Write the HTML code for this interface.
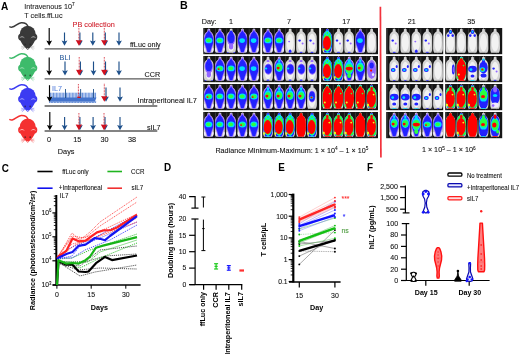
<!DOCTYPE html><html><head><meta charset="utf-8"><style>html,body{margin:0;padding:0;background:#fff;overflow:hidden;}svg{display:block;}</style></head><body><svg width="520" height="354" viewBox="0 0 520 354" font-family="'Liberation Sans', Arial, sans-serif"><rect width="520" height="354" fill="#fff"/><text transform="translate(0.9,10.0) scale(1,1.08)" font-size="10.09" text-anchor="start" font-weight="bold" fill="#000" >A</text>
<text transform="translate(24.3,9.3) scale(1,1.08)" font-size="7.21" text-anchor="start" font-weight="normal" fill="#222" stroke="#222" stroke-width="0.08" >Intravenous 10<tspan dy="-2.6" font-size="4.74">7</tspan></text>
<text transform="translate(24.3,18) scale(1,1.08)" font-size="7.21" text-anchor="start" font-weight="normal" fill="#222" stroke="#222" stroke-width="0.08" >T cells.ffLuc</text>
<path d="M28.0,26.6 C26.9,23.6 24.4,22.6 21.2,22.8 C17.7,23.2 15.2,26.400000000000002 12.2,27.1 C11.2,27.3 10.399999999999999,27.1 9.899999999999999,26.8" fill="none" stroke="#393939" stroke-width="1.5" stroke-linecap="round"/>
<ellipse cx="27.7" cy="34.6" rx="8.0" ry="8.9" fill="#393939"/>
<circle cx="21.799999999999997" cy="37.1" r="3.7" fill="#393939"/>
<circle cx="33.6" cy="37.1" r="3.7" fill="#393939"/>
<path d="M19.5,37.3 C20.5,42.8 24.5,47.3 27.7,50.0 C30.9,47.3 34.9,42.8 35.9,37.3 Z" fill="#393939"/>
<path d="M19.0,38.4 Q22.0,34.2 25.0,38.4 Q22.0,36.2 19.0,38.4 Z" fill="#b4b4b4"/>
<path d="M30.4,38.4 Q33.4,34.2 36.4,38.4 Q33.4,36.2 30.4,38.4 Z" fill="#b4b4b4"/>
<circle cx="25.2" cy="44.400000000000006" r="0.9" fill="#222" opacity="0.6"/>
<circle cx="30.2" cy="44.400000000000006" r="0.9" fill="#222" opacity="0.6"/>
<path d="M24.7,47.0 l-3.6,-0.8 M24.7,47.3 l-3.8,0.9 M24.7,47.6 l-2.8,2.2" stroke="#999" stroke-width="0.5" fill="none" opacity="0.8"/>
<path d="M30.7,47.0 l3.6,-0.8 M30.7,47.3 l3.8,0.9 M30.7,47.6 l2.8,2.2" stroke="#999" stroke-width="0.5" fill="none" opacity="0.8"/>
<path d="M26.7,48.1 L28.7,48.1 L27.7,49.8 Z" fill="#b4b4b4"/>
<path d="M28.0,57.599999999999994 C26.9,54.599999999999994 24.4,53.599999999999994 21.2,53.8 C17.7,54.199999999999996 15.2,57.4 12.2,58.099999999999994 C11.2,58.3 10.399999999999999,58.099999999999994 9.899999999999999,57.8" fill="none" stroke="#3dbb6b" stroke-width="1.5" stroke-linecap="round"/>
<ellipse cx="27.7" cy="65.6" rx="8.0" ry="8.9" fill="#3dbb6b"/>
<circle cx="21.799999999999997" cy="68.1" r="3.7" fill="#3dbb6b"/>
<circle cx="33.6" cy="68.1" r="3.7" fill="#3dbb6b"/>
<path d="M19.5,68.3 C20.5,73.8 24.5,78.3 27.7,81.0 C30.9,78.3 34.9,73.8 35.9,68.3 Z" fill="#3dbb6b"/>
<path d="M19.0,69.39999999999999 Q22.0,65.2 25.0,69.39999999999999 Q22.0,67.2 19.0,69.39999999999999 Z" fill="#a8e4bd"/>
<path d="M30.4,69.39999999999999 Q33.4,65.2 36.4,69.39999999999999 Q33.4,67.2 30.4,69.39999999999999 Z" fill="#a8e4bd"/>
<circle cx="25.2" cy="75.4" r="0.9" fill="#222" opacity="0.6"/>
<circle cx="30.2" cy="75.4" r="0.9" fill="#222" opacity="0.6"/>
<path d="M24.7,78.0 l-3.6,-0.8 M24.7,78.3 l-3.8,0.9 M24.7,78.6 l-2.8,2.2" stroke="#3dbb6b" stroke-width="0.5" fill="none" opacity="0.8"/>
<path d="M30.7,78.0 l3.6,-0.8 M30.7,78.3 l3.8,0.9 M30.7,78.6 l2.8,2.2" stroke="#3dbb6b" stroke-width="0.5" fill="none" opacity="0.8"/>
<path d="M26.7,79.1 L28.7,79.1 L27.7,80.8 Z" fill="#a8e4bd"/>
<path d="M28.0,88.6 C26.9,85.6 24.4,84.6 21.2,84.8 C17.7,85.2 15.2,88.39999999999999 12.2,89.1 C11.2,89.3 10.399999999999999,89.1 9.899999999999999,88.8" fill="none" stroke="#3b3bf2" stroke-width="1.5" stroke-linecap="round"/>
<ellipse cx="27.7" cy="96.6" rx="8.0" ry="8.9" fill="#3b3bf2"/>
<circle cx="21.799999999999997" cy="99.1" r="3.7" fill="#3b3bf2"/>
<circle cx="33.6" cy="99.1" r="3.7" fill="#3b3bf2"/>
<path d="M19.5,99.3 C20.5,104.8 24.5,109.3 27.7,112.0 C30.9,109.3 34.9,104.8 35.9,99.3 Z" fill="#3b3bf2"/>
<path d="M19.0,100.39999999999999 Q22.0,96.2 25.0,100.39999999999999 Q22.0,98.2 19.0,100.39999999999999 Z" fill="#b0b0ff"/>
<path d="M30.4,100.39999999999999 Q33.4,96.2 36.4,100.39999999999999 Q33.4,98.2 30.4,100.39999999999999 Z" fill="#b0b0ff"/>
<circle cx="25.2" cy="106.4" r="0.9" fill="#222" opacity="0.6"/>
<circle cx="30.2" cy="106.4" r="0.9" fill="#222" opacity="0.6"/>
<path d="M24.7,109.0 l-3.6,-0.8 M24.7,109.3 l-3.8,0.9 M24.7,109.6 l-2.8,2.2" stroke="#3b3bf2" stroke-width="0.5" fill="none" opacity="0.8"/>
<path d="M30.7,109.0 l3.6,-0.8 M30.7,109.3 l3.8,0.9 M30.7,109.6 l2.8,2.2" stroke="#3b3bf2" stroke-width="0.5" fill="none" opacity="0.8"/>
<path d="M26.7,110.1 L28.7,110.1 L27.7,111.8 Z" fill="#b0b0ff"/>
<path d="M28.0,119.39999999999999 C26.9,116.39999999999999 24.4,115.39999999999999 21.2,115.6 C17.7,116.0 15.2,119.19999999999999 12.2,119.89999999999999 C11.2,120.1 10.399999999999999,119.89999999999999 9.899999999999999,119.6" fill="none" stroke="#f43030" stroke-width="1.5" stroke-linecap="round"/>
<ellipse cx="27.7" cy="127.39999999999999" rx="8.0" ry="8.9" fill="#f43030"/>
<circle cx="21.799999999999997" cy="129.9" r="3.7" fill="#f43030"/>
<circle cx="33.6" cy="129.9" r="3.7" fill="#f43030"/>
<path d="M19.5,130.1 C20.5,135.6 24.5,140.1 27.7,142.79999999999998 C30.9,140.1 34.9,135.6 35.9,130.1 Z" fill="#f43030"/>
<path d="M19.0,131.2 Q22.0,127.0 25.0,131.2 Q22.0,129.0 19.0,131.2 Z" fill="#ffb8b8"/>
<path d="M30.4,131.2 Q33.4,127.0 36.4,131.2 Q33.4,129.0 30.4,131.2 Z" fill="#ffb8b8"/>
<circle cx="25.2" cy="137.2" r="0.9" fill="#222" opacity="0.6"/>
<circle cx="30.2" cy="137.2" r="0.9" fill="#222" opacity="0.6"/>
<path d="M24.7,139.79999999999998 l-3.6,-0.8 M24.7,140.1 l-3.8,0.9 M24.7,140.4 l-2.8,2.2" stroke="#f43030" stroke-width="0.5" fill="none" opacity="0.8"/>
<path d="M30.7,139.79999999999998 l3.6,-0.8 M30.7,140.1 l3.8,0.9 M30.7,140.4 l2.8,2.2" stroke="#f43030" stroke-width="0.5" fill="none" opacity="0.8"/>
<path d="M26.7,140.9 L28.7,140.9 L27.7,142.6 Z" fill="#ffb8b8"/>
<line x1="44.6" y1="48.8" x2="159.5" y2="48.8" stroke="#5a5a5a" stroke-width="1.3"/>
<line x1="44.6" y1="78.8" x2="160.0" y2="78.8" stroke="#5a5a5a" stroke-width="1.3"/>
<line x1="44.6" y1="106.0" x2="157.3" y2="106.0" stroke="#5a5a5a" stroke-width="1.3"/>
<line x1="44.6" y1="131.0" x2="157.3" y2="131.0" stroke="#5a5a5a" stroke-width="1.3"/>
<line x1="49.2" y1="28.0" x2="49.2" y2="41.89999999999999" stroke="#000" stroke-width="1.15"/>
<path d="M46.300000000000004,40.599999999999994 L49.2,41.599999999999994 L52.1,40.599999999999994 L49.2,45.8 Z" fill="#000"/>
<line x1="64.5" y1="32.5" x2="64.5" y2="41.89999999999999" stroke="#1d4f8a" stroke-width="1.15"/>
<path d="M61.6,40.599999999999994 L64.5,41.599999999999994 L67.4,40.599999999999994 L64.5,45.8 Z" fill="#1d4f8a"/>
<line x1="92.8" y1="32.5" x2="92.8" y2="41.89999999999999" stroke="#1d4f8a" stroke-width="1.15"/>
<path d="M89.89999999999999,40.599999999999994 L92.8,41.599999999999994 L95.7,40.599999999999994 L92.8,45.8 Z" fill="#1d4f8a"/>
<line x1="119.0" y1="32.5" x2="119.0" y2="41.89999999999999" stroke="#1d4f8a" stroke-width="1.15"/>
<path d="M116.1,40.599999999999994 L119.0,41.599999999999994 L121.9,40.599999999999994 L119.0,45.8 Z" fill="#1d4f8a"/>
<line x1="79.9" y1="32.5" x2="79.9" y2="41.89999999999999" stroke="#1d4f8a" stroke-width="1.15"/>
<path d="M77.0,40.599999999999994 L79.9,41.599999999999994 L82.80000000000001,40.599999999999994 L79.9,45.8 Z" fill="#1d4f8a"/>
<line x1="78.9" y1="28.0" x2="78.9" y2="41.8" stroke="#d0101e" stroke-width="0.9" stroke-dasharray="0.8,0.7"/>
<line x1="78.9" y1="40" x2="78.9" y2="40.69999999999999" stroke="#d0101e" stroke-width="0.01"/>
<path d="M75.7,40.099999999999994 L78.9,40.39999999999999 L82.10000000000001,40.099999999999994 L78.9,45.8 Z" fill="#d0101e"/>
<line x1="105.3" y1="32.5" x2="105.3" y2="41.89999999999999" stroke="#1d4f8a" stroke-width="1.15"/>
<path d="M102.39999999999999,40.599999999999994 L105.3,41.599999999999994 L108.2,40.599999999999994 L105.3,45.8 Z" fill="#1d4f8a"/>
<line x1="104.3" y1="28.0" x2="104.3" y2="41.8" stroke="#d0101e" stroke-width="0.9" stroke-dasharray="0.8,0.7"/>
<line x1="104.3" y1="40" x2="104.3" y2="40.69999999999999" stroke="#d0101e" stroke-width="0.01"/>
<path d="M101.1,40.099999999999994 L104.3,40.39999999999999 L107.5,40.099999999999994 L104.3,45.8 Z" fill="#d0101e"/>
<text transform="translate(72.6,27.2) scale(1,1.08)" font-size="7.31" text-anchor="start" font-weight="normal" fill="#d0202c" stroke="#d0202c" stroke-width="0.08" >PB collection</text>
<text transform="translate(130.0,47.4) scale(1,1.08)" font-size="7.21" text-anchor="start" font-weight="normal" fill="#111" stroke="#111" stroke-width="0.08" >ffLuc only</text>
<line x1="49.2" y1="57.4" x2="49.2" y2="71.6" stroke="#000" stroke-width="1.15"/>
<path d="M46.300000000000004,70.3 L49.2,71.3 L52.1,70.3 L49.2,75.5 Z" fill="#000"/>
<line x1="65.0" y1="61.5" x2="65.0" y2="71.6" stroke="#1d4f8a" stroke-width="1.15"/>
<path d="M62.1,70.3 L65.0,71.3 L67.9,70.3 L65.0,75.5 Z" fill="#1d4f8a"/>
<line x1="93.5" y1="61.5" x2="93.5" y2="71.6" stroke="#1d4f8a" stroke-width="1.15"/>
<path d="M90.6,70.3 L93.5,71.3 L96.4,70.3 L93.5,75.5 Z" fill="#1d4f8a"/>
<line x1="119.0" y1="61.5" x2="119.0" y2="71.6" stroke="#1d4f8a" stroke-width="1.15"/>
<path d="M116.1,70.3 L119.0,71.3 L121.9,70.3 L119.0,75.5 Z" fill="#1d4f8a"/>
<line x1="80.4" y1="61.5" x2="80.4" y2="71.6" stroke="#1d4f8a" stroke-width="1.15"/>
<path d="M77.5,70.3 L80.4,71.3 L83.30000000000001,70.3 L80.4,75.5 Z" fill="#1d4f8a"/>
<line x1="79.2" y1="57.0" x2="79.2" y2="71.5" stroke="#d0101e" stroke-width="0.9" stroke-dasharray="0.8,0.7"/>
<line x1="79.2" y1="70" x2="79.2" y2="70.39999999999999" stroke="#d0101e" stroke-width="0.01"/>
<path d="M76.0,69.8 L79.2,70.1 L82.4,69.8 L79.2,75.5 Z" fill="#d0101e"/>
<line x1="105.5" y1="61.5" x2="105.5" y2="71.6" stroke="#1d4f8a" stroke-width="1.15"/>
<path d="M102.6,70.3 L105.5,71.3 L108.4,70.3 L105.5,75.5 Z" fill="#1d4f8a"/>
<line x1="104.3" y1="57.0" x2="104.3" y2="71.5" stroke="#d0101e" stroke-width="0.9" stroke-dasharray="0.8,0.7"/>
<line x1="104.3" y1="70" x2="104.3" y2="70.39999999999999" stroke="#d0101e" stroke-width="0.01"/>
<path d="M101.1,69.8 L104.3,70.1 L107.5,69.8 L104.3,75.5 Z" fill="#d0101e"/>
<text transform="translate(59.6,59.5) scale(1,1.08)" font-size="7.21" text-anchor="start" font-weight="normal" fill="#2b5d9c" stroke="#2b5d9c" stroke-width="0.08" >BLI</text>
<text transform="translate(144.6,77.1) scale(1,1.08)" font-size="7.21" text-anchor="start" font-weight="normal" fill="#111" stroke="#111" stroke-width="0.08" >CCR</text>
<line x1="50.60" y1="92.7" x2="50.60" y2="98" stroke="#4f7fd8" stroke-width="0.85"/>
<line x1="52.05" y1="92.7" x2="52.05" y2="98" stroke="#4f7fd8" stroke-width="0.85"/>
<line x1="53.50" y1="92.7" x2="53.50" y2="98" stroke="#4f7fd8" stroke-width="0.85"/>
<line x1="54.95" y1="92.7" x2="54.95" y2="98" stroke="#4f7fd8" stroke-width="0.85"/>
<line x1="56.40" y1="92.7" x2="56.40" y2="98" stroke="#4f7fd8" stroke-width="0.85"/>
<line x1="57.85" y1="92.7" x2="57.85" y2="98" stroke="#4f7fd8" stroke-width="0.85"/>
<line x1="59.30" y1="92.7" x2="59.30" y2="98" stroke="#4f7fd8" stroke-width="0.85"/>
<line x1="60.75" y1="92.7" x2="60.75" y2="98" stroke="#4f7fd8" stroke-width="0.85"/>
<line x1="62.20" y1="92.7" x2="62.20" y2="98" stroke="#4f7fd8" stroke-width="0.85"/>
<line x1="63.65" y1="92.7" x2="63.65" y2="98" stroke="#4f7fd8" stroke-width="0.85"/>
<line x1="65.10" y1="92.7" x2="65.10" y2="98" stroke="#4f7fd8" stroke-width="0.85"/>
<line x1="66.55" y1="92.7" x2="66.55" y2="98" stroke="#4f7fd8" stroke-width="0.85"/>
<line x1="68.00" y1="92.7" x2="68.00" y2="98" stroke="#4f7fd8" stroke-width="0.85"/>
<line x1="69.45" y1="92.7" x2="69.45" y2="98" stroke="#4f7fd8" stroke-width="0.85"/>
<line x1="70.90" y1="92.7" x2="70.90" y2="98" stroke="#4f7fd8" stroke-width="0.85"/>
<line x1="72.35" y1="92.7" x2="72.35" y2="98" stroke="#4f7fd8" stroke-width="0.85"/>
<line x1="73.80" y1="92.7" x2="73.80" y2="98" stroke="#4f7fd8" stroke-width="0.85"/>
<line x1="75.25" y1="92.7" x2="75.25" y2="98" stroke="#4f7fd8" stroke-width="0.85"/>
<line x1="76.70" y1="92.7" x2="76.70" y2="98" stroke="#4f7fd8" stroke-width="0.85"/>
<line x1="78.15" y1="92.7" x2="78.15" y2="98" stroke="#4f7fd8" stroke-width="0.85"/>
<line x1="79.60" y1="92.7" x2="79.60" y2="98" stroke="#4f7fd8" stroke-width="0.85"/>
<line x1="81.05" y1="92.7" x2="81.05" y2="98" stroke="#4f7fd8" stroke-width="0.85"/>
<line x1="82.50" y1="92.7" x2="82.50" y2="98" stroke="#4f7fd8" stroke-width="0.85"/>
<line x1="83.95" y1="92.7" x2="83.95" y2="98" stroke="#4f7fd8" stroke-width="0.85"/>
<line x1="85.40" y1="92.7" x2="85.40" y2="98" stroke="#4f7fd8" stroke-width="0.85"/>
<line x1="86.85" y1="92.7" x2="86.85" y2="98" stroke="#4f7fd8" stroke-width="0.85"/>
<line x1="88.30" y1="92.7" x2="88.30" y2="98" stroke="#4f7fd8" stroke-width="0.85"/>
<line x1="89.75" y1="92.7" x2="89.75" y2="98" stroke="#4f7fd8" stroke-width="0.85"/>
<line x1="91.20" y1="92.7" x2="91.20" y2="98" stroke="#4f7fd8" stroke-width="0.85"/>
<line x1="92.65" y1="92.7" x2="92.65" y2="98" stroke="#4f7fd8" stroke-width="0.85"/>
<line x1="94.10" y1="92.7" x2="94.10" y2="98" stroke="#4f7fd8" stroke-width="0.85"/>
<line x1="95.55" y1="92.7" x2="95.55" y2="98" stroke="#4f7fd8" stroke-width="0.85"/>
<path d="M48.6,97.6 L96.4,97.6 L95,101.4 L49.5,101.4 Z" fill="#4474cc"/>
<path d="M49,101.6 L49.76,103.0 L50.52,101.6 L51.28,103.0 L52.04,101.6 L52.80,103.0 L53.56,101.6 L54.32,103.0 L55.08,101.6 L55.84,103.0 L56.60,101.6 L57.36,103.0 L58.12,101.6 L58.88,103.0 L59.64,101.6 L60.40,103.0 L61.16,101.6 L61.92,103.0 L62.68,101.6 L63.44,103.0 L64.20,101.6 L64.96,103.0 L65.72,101.6 L66.48,103.0 L67.24,101.6 L68.00,103.0 L68.76,101.6 L69.52,103.0 L70.28,101.6 L71.04,103.0 L71.80,101.6 L72.56,103.0 L73.32,101.6 L74.08,103.0 L74.84,101.6 L75.60,103.0 L76.36,101.6 L77.12,103.0 L77.88,101.6 L78.64,103.0 L79.40,101.6 L80.16,103.0 L80.92,101.6 L81.68,103.0 L82.44,101.6 L83.20,103.0 L83.96,101.6 L84.72,103.0 L85.48,101.6 L86.24,103.0 L87.00,101.6 L87.76,103.0 L88.52,101.6 L89.28,103.0 L90.04,101.6 L90.80,103.0 L91.56,101.6 L92.32,103.0 L93.08,101.6 L93.84,103.0 L94.60,101.6 L95.36,103.0 L96.12,101.6" fill="#4474cc" stroke="#4474cc" stroke-width="0.4"/>
<line x1="49.5" y1="85.2" x2="49.5" y2="97.89999999999999" stroke="#000" stroke-width="1.15"/>
<path d="M46.6,96.6 L49.5,97.6 L52.4,96.6 L49.5,101.8 Z" fill="#000"/>
<line x1="65.5" y1="89" x2="65.5" y2="98" stroke="#1d4f8a" stroke-width="0.9"/>
<line x1="80.6" y1="89" x2="80.6" y2="98" stroke="#1d4f8a" stroke-width="0.9"/>
<line x1="93.5" y1="89" x2="93.5" y2="98" stroke="#1d4f8a" stroke-width="0.9"/>
<line x1="78.4" y1="84.2" x2="78.4" y2="96.5" stroke="#d0101e" stroke-width="0.9" stroke-dasharray="0.8,0.7"/>
<rect x="77.3" y="96.6" width="3.2" height="1.4" fill="#d0101e"/>
<line x1="106.0" y1="87.5" x2="106.0" y2="97.89999999999999" stroke="#1d4f8a" stroke-width="1.15"/>
<path d="M103.1,96.6 L106.0,97.6 L108.9,96.6 L106.0,101.8 Z" fill="#1d4f8a"/>
<line x1="104.3" y1="83.8" x2="104.3" y2="97" stroke="#d0101e" stroke-width="0.9" stroke-dasharray="0.8,0.7"/>
<line x1="104.3" y1="96" x2="104.3" y2="96.69999999999999" stroke="#d0101e" stroke-width="0.01"/>
<path d="M101.1,96.1 L104.3,96.39999999999999 L107.5,96.1 L104.3,101.8 Z" fill="#d0101e"/>
<line x1="120.0" y1="87.5" x2="120.0" y2="97.89999999999999" stroke="#1d4f8a" stroke-width="1.15"/>
<path d="M117.1,96.6 L120.0,97.6 L122.9,96.6 L120.0,101.8 Z" fill="#1d4f8a"/>
<text transform="translate(52.0,90.7) scale(1,1.08)" font-size="7.21" text-anchor="start" font-weight="normal" fill="#5a84dc" stroke="#5a84dc" stroke-width="0.08" >IL7</text>
<text transform="translate(137.6,103.4) scale(1,1.08)" font-size="7.36" text-anchor="start" font-weight="normal" fill="#111" stroke="#111" stroke-width="0.08" >Intraperitoneal IL7</text>
<line x1="49.8" y1="111.9" x2="49.8" y2="126.29999999999998" stroke="#000" stroke-width="1.15"/>
<path d="M46.9,124.99999999999999 L49.8,125.99999999999999 L52.699999999999996,124.99999999999999 L49.8,130.2 Z" fill="#000"/>
<line x1="64.6" y1="117.0" x2="64.6" y2="126.29999999999998" stroke="#1d4f8a" stroke-width="1.15"/>
<path d="M61.699999999999996,124.99999999999999 L64.6,125.99999999999999 L67.5,124.99999999999999 L64.6,130.2 Z" fill="#1d4f8a"/>
<line x1="93.1" y1="117.0" x2="93.1" y2="126.29999999999998" stroke="#1d4f8a" stroke-width="1.15"/>
<path d="M90.19999999999999,124.99999999999999 L93.1,125.99999999999999 L96.0,124.99999999999999 L93.1,130.2 Z" fill="#1d4f8a"/>
<line x1="120.0" y1="117.0" x2="120.0" y2="126.29999999999998" stroke="#1d4f8a" stroke-width="1.15"/>
<path d="M117.1,124.99999999999999 L120.0,125.99999999999999 L122.9,124.99999999999999 L120.0,130.2 Z" fill="#1d4f8a"/>
<line x1="79.9" y1="117.0" x2="79.9" y2="126.29999999999998" stroke="#1d4f8a" stroke-width="1.15"/>
<path d="M77.0,124.99999999999999 L79.9,125.99999999999999 L82.80000000000001,124.99999999999999 L79.9,130.2 Z" fill="#1d4f8a"/>
<line x1="78.9" y1="113.0" x2="78.9" y2="126.19999999999999" stroke="#d0101e" stroke-width="0.9" stroke-dasharray="0.8,0.7"/>
<line x1="78.9" y1="120" x2="78.9" y2="125.09999999999998" stroke="#d0101e" stroke-width="0.01"/>
<path d="M75.7,124.49999999999999 L78.9,124.79999999999998 L82.10000000000001,124.49999999999999 L78.9,130.2 Z" fill="#d0101e"/>
<line x1="105.0" y1="117.0" x2="105.0" y2="126.29999999999998" stroke="#1d4f8a" stroke-width="1.15"/>
<path d="M102.1,124.99999999999999 L105.0,125.99999999999999 L107.9,124.99999999999999 L105.0,130.2 Z" fill="#1d4f8a"/>
<line x1="104.0" y1="113.0" x2="104.0" y2="126.19999999999999" stroke="#d0101e" stroke-width="0.9" stroke-dasharray="0.8,0.7"/>
<line x1="104.0" y1="120" x2="104.0" y2="125.09999999999998" stroke="#d0101e" stroke-width="0.01"/>
<path d="M100.8,124.49999999999999 L104.0,124.79999999999998 L107.2,124.49999999999999 L104.0,130.2 Z" fill="#d0101e"/>
<text transform="translate(147.0,129.8) scale(1,1.08)" font-size="7.21" text-anchor="start" font-weight="normal" fill="#111" stroke="#111" stroke-width="0.08" >sIL7</text>
<text transform="translate(49.0,141.9) scale(1,1.08)" font-size="7.31" text-anchor="middle" font-weight="normal" fill="#111" stroke="#111" stroke-width="0.08" >0</text>
<text transform="translate(77.3,141.9) scale(1,1.08)" font-size="7.31" text-anchor="middle" font-weight="normal" fill="#111" stroke="#111" stroke-width="0.08" >15</text>
<text transform="translate(104.6,141.9) scale(1,1.08)" font-size="7.31" text-anchor="middle" font-weight="normal" fill="#111" stroke="#111" stroke-width="0.08" >30</text>
<text transform="translate(132.1,141.9) scale(1,1.08)" font-size="7.31" text-anchor="middle" font-weight="normal" fill="#111" stroke="#111" stroke-width="0.08" >38</text>
<text transform="translate(57.8,154.2) scale(1,1.08)" font-size="7.31" text-anchor="start" font-weight="normal" fill="#111" stroke="#111" stroke-width="0.08" >Days</text>
<text transform="translate(179.9,8.7) scale(1,1.08)" font-size="10.71" text-anchor="start" font-weight="bold" fill="#000" >B</text>
<text transform="translate(201.7,24.2) scale(1,1.08)" font-size="7.21" text-anchor="start" font-weight="normal" fill="#111" stroke="#111" stroke-width="0.08" >Day:</text>
<text transform="translate(231.0,24.2) scale(1,1.08)" font-size="7.21" text-anchor="middle" font-weight="normal" fill="#111" stroke="#111" stroke-width="0.08" >1</text>
<text transform="translate(288.9,24.2) scale(1,1.08)" font-size="7.21" text-anchor="middle" font-weight="normal" fill="#111" stroke="#111" stroke-width="0.08" >7</text>
<text transform="translate(346.2,24.2) scale(1,1.08)" font-size="7.21" text-anchor="middle" font-weight="normal" fill="#111" stroke="#111" stroke-width="0.08" >17</text>
<text transform="translate(411.8,24.2) scale(1,1.08)" font-size="7.21" text-anchor="middle" font-weight="normal" fill="#111" stroke="#111" stroke-width="0.08" >21</text>
<text transform="translate(471.2,24.2) scale(1,1.08)" font-size="7.21" text-anchor="middle" font-weight="normal" fill="#111" stroke="#111" stroke-width="0.08" >35</text>
<defs><filter id="bl" x="-20%" y="-20%" width="140%" height="140%"><feGaussianBlur stdDeviation="0.5"/></filter><filter id="bl2" x="-5%" y="-5%" width="110%" height="110%"><feGaussianBlur stdDeviation="0.3"/></filter><clipPath id="tileclip"><rect x="0" y="0" width="57" height="26.2"/></clipPath></defs>
<rect x="203.3" y="28.0" width="57.0" height="26.2" fill="#151515"/>
<g filter="url(#bl2)">
<rect x="203.90" y="28.5" width="0.9" height="25.2" fill="#3c3c3c"/><rect x="209.50" y="28.5" width="0.9" height="25.2" fill="#3c3c3c"/><rect x="215.10" y="28.5" width="0.9" height="25.2" fill="#3c3c3c"/><rect x="220.70" y="28.5" width="0.9" height="25.2" fill="#3c3c3c"/><rect x="226.30" y="28.5" width="0.9" height="25.2" fill="#3c3c3c"/><rect x="231.90" y="28.5" width="0.9" height="25.2" fill="#3c3c3c"/><rect x="237.50" y="28.5" width="0.9" height="25.2" fill="#3c3c3c"/><rect x="243.10" y="28.5" width="0.9" height="25.2" fill="#3c3c3c"/><rect x="248.70" y="28.5" width="0.9" height="25.2" fill="#3c3c3c"/><rect x="254.30" y="28.5" width="0.9" height="25.2" fill="#3c3c3c"/>
<line x1="208.8" y1="28.2" x2="208.8" y2="29.8" stroke="#a8a8a8" stroke-width="0.8"/>
<clipPath id="c1"><path d="M207.60000000000002,29.0 L210.0,29.0 L210.3,31.6 C211.8,32.4 213.10000000000002,34.0 213.5,36.2 L213.70000000000002,48.1 C213.70000000000002,50.2 213.3,51.6 212.60000000000002,52.8 L205.0,52.8 C204.3,51.6 203.9,50.2 203.9,48.1 L204.10000000000002,36.2 C204.5,34.0 205.8,32.4 207.3,31.6 Z"/></clipPath>
<path d="M207.60000000000002,29.0 L210.0,29.0 L210.3,31.6 C211.8,32.4 213.10000000000002,34.0 213.5,36.2 L213.70000000000002,48.1 C213.70000000000002,50.2 213.3,51.6 212.60000000000002,52.8 L205.0,52.8 C204.3,51.6 203.9,50.2 203.9,48.1 L204.10000000000002,36.2 C204.5,34.0 205.8,32.4 207.3,31.6 Z" fill="#d4d4d4"/>
<ellipse cx="208.8" cy="42.6" rx="3.6" ry="8.8" fill="#f2f2f2"/>
<g clip-path="url(#c1)"><g filter="url(#bl)">
<polygon points="208.80,28.88 211.77,32.59 213.99,37.89 213.78,43.19 211.87,48.49 210.18,54.11 207.42,54.11 205.73,48.49 203.82,43.19 203.61,37.89 205.83,32.59" fill="#9468ff"/>
<polygon points="208.80,30.80 211.32,33.95 213.21,38.45 213.03,42.95 211.41,47.45 209.97,52.22 207.63,52.22 206.19,47.45 204.57,42.95 204.39,38.45 206.28,33.95" fill="#2020ff"/>
<ellipse cx="204.60" cy="50.10" rx="1.1" ry="2.2" fill="#f0eaff"/>
<ellipse cx="213.00" cy="50.10" rx="1.1" ry="2.2" fill="#f0eaff"/>
<ellipse cx="205.00" cy="53.20" rx="1.0" ry="0.8" fill="#2020ff"/>
<ellipse cx="212.60" cy="53.20" rx="1.0" ry="0.8" fill="#2020ff"/>
<ellipse cx="208.80" cy="40.40" rx="3.6" ry="2.9" fill="#00dcff"/>
<ellipse cx="208.50" cy="40.40" rx="2.3" ry="1.8" fill="#2cff40"/>
</g></g>
<line x1="219.9" y1="28.2" x2="219.9" y2="29.8" stroke="#a8a8a8" stroke-width="0.8"/>
<clipPath id="c2"><path d="M218.70000000000002,29.0 L221.1,29.0 L221.4,31.6 C222.9,32.4 224.20000000000002,34.0 224.6,36.2 L224.8,48.1 C224.8,50.2 224.4,51.6 223.70000000000002,52.8 L216.1,52.8 C215.4,51.6 215.0,50.2 215.0,48.1 L215.20000000000002,36.2 C215.6,34.0 216.9,32.4 218.4,31.6 Z"/></clipPath>
<path d="M218.70000000000002,29.0 L221.1,29.0 L221.4,31.6 C222.9,32.4 224.20000000000002,34.0 224.6,36.2 L224.8,48.1 C224.8,50.2 224.4,51.6 223.70000000000002,52.8 L216.1,52.8 C215.4,51.6 215.0,50.2 215.0,48.1 L215.20000000000002,36.2 C215.6,34.0 216.9,32.4 218.4,31.6 Z" fill="#d4d4d4"/>
<ellipse cx="219.9" cy="42.6" rx="3.6" ry="8.8" fill="#f2f2f2"/>
<g clip-path="url(#c2)"><g filter="url(#bl)">
<polygon points="219.90,28.88 222.87,32.59 225.09,37.89 224.88,43.19 222.97,48.49 221.28,54.11 218.52,54.11 216.83,48.49 214.92,43.19 214.71,37.89 216.93,32.59" fill="#9468ff"/>
<polygon points="219.90,30.80 222.42,33.95 224.31,38.45 224.13,42.95 222.51,47.45 221.07,52.22 218.73,52.22 217.29,47.45 215.67,42.95 215.49,38.45 217.38,33.95" fill="#2020ff"/>
<ellipse cx="215.70" cy="50.10" rx="1.1" ry="2.2" fill="#f0eaff"/>
<ellipse cx="224.10" cy="50.10" rx="1.1" ry="2.2" fill="#f0eaff"/>
<ellipse cx="216.10" cy="53.20" rx="1.0" ry="0.8" fill="#2020ff"/>
<ellipse cx="223.70" cy="53.20" rx="1.0" ry="0.8" fill="#2020ff"/>
<ellipse cx="219.90" cy="40.40" rx="3.6" ry="2.9" fill="#00dcff"/>
<ellipse cx="219.60" cy="40.40" rx="2.3" ry="1.8" fill="#2cff40"/>
</g></g>
<line x1="231.10000000000002" y1="28.2" x2="231.10000000000002" y2="29.8" stroke="#a8a8a8" stroke-width="0.8"/>
<clipPath id="c3"><path d="M229.90000000000003,29.0 L232.3,29.0 L232.60000000000002,31.6 C234.10000000000002,32.4 235.40000000000003,34.0 235.8,36.2 L236.00000000000003,48.1 C236.00000000000003,50.2 235.60000000000002,51.6 234.90000000000003,52.8 L227.3,52.8 C226.60000000000002,51.6 226.20000000000002,50.2 226.20000000000002,48.1 L226.40000000000003,36.2 C226.8,34.0 228.10000000000002,32.4 229.60000000000002,31.6 Z"/></clipPath>
<path d="M229.90000000000003,29.0 L232.3,29.0 L232.60000000000002,31.6 C234.10000000000002,32.4 235.40000000000003,34.0 235.8,36.2 L236.00000000000003,48.1 C236.00000000000003,50.2 235.60000000000002,51.6 234.90000000000003,52.8 L227.3,52.8 C226.60000000000002,51.6 226.20000000000002,50.2 226.20000000000002,48.1 L226.40000000000003,36.2 C226.8,34.0 228.10000000000002,32.4 229.60000000000002,31.6 Z" fill="#d4d4d4"/>
<ellipse cx="231.10000000000002" cy="42.6" rx="3.6" ry="8.8" fill="#f2f2f2"/>
<g clip-path="url(#c3)"><g filter="url(#bl)">
<ellipse cx="231.10" cy="38.60" rx="4.2" ry="7" fill="#9468ff"/>
<ellipse cx="231.10" cy="38.10" rx="3.4" ry="5.5" fill="#2020ff"/>
<ellipse cx="231.10" cy="33.60" rx="1.8" ry="3" fill="#2020ff"/>
<ellipse cx="231.10" cy="46.60" rx="2.2" ry="3" fill="#9468ff"/>
<ellipse cx="227.60" cy="53.10" rx="1.2" ry="1.0" fill="#2020ff"/>
<ellipse cx="234.60" cy="53.10" rx="1.2" ry="1.0" fill="#2020ff"/>
</g></g>
<line x1="242.4" y1="28.2" x2="242.4" y2="29.8" stroke="#a8a8a8" stroke-width="0.8"/>
<clipPath id="c4"><path d="M241.20000000000002,29.0 L243.6,29.0 L243.9,31.6 C245.4,32.4 246.70000000000002,34.0 247.1,36.2 L247.3,48.1 C247.3,50.2 246.9,51.6 246.20000000000002,52.8 L238.6,52.8 C237.9,51.6 237.5,50.2 237.5,48.1 L237.70000000000002,36.2 C238.1,34.0 239.4,32.4 240.9,31.6 Z"/></clipPath>
<path d="M241.20000000000002,29.0 L243.6,29.0 L243.9,31.6 C245.4,32.4 246.70000000000002,34.0 247.1,36.2 L247.3,48.1 C247.3,50.2 246.9,51.6 246.20000000000002,52.8 L238.6,52.8 C237.9,51.6 237.5,50.2 237.5,48.1 L237.70000000000002,36.2 C238.1,34.0 239.4,32.4 240.9,31.6 Z" fill="#d4d4d4"/>
<ellipse cx="242.4" cy="42.6" rx="3.6" ry="8.8" fill="#f2f2f2"/>
<g clip-path="url(#c4)"><g filter="url(#bl)">
<polygon points="242.40,28.88 245.37,32.59 247.59,37.89 247.38,43.19 245.47,48.49 243.78,54.11 241.02,54.11 239.33,48.49 237.42,43.19 237.21,37.89 239.43,32.59" fill="#9468ff"/>
<polygon points="242.40,30.80 244.92,33.95 246.81,38.45 246.63,42.95 245.01,47.45 243.57,52.22 241.23,52.22 239.79,47.45 238.17,42.95 237.99,38.45 239.88,33.95" fill="#2020ff"/>
<ellipse cx="238.20" cy="50.10" rx="1.1" ry="2.2" fill="#f0eaff"/>
<ellipse cx="246.60" cy="50.10" rx="1.1" ry="2.2" fill="#f0eaff"/>
<ellipse cx="238.60" cy="53.20" rx="1.0" ry="0.8" fill="#2020ff"/>
<ellipse cx="246.20" cy="53.20" rx="1.0" ry="0.8" fill="#2020ff"/>
<ellipse cx="242.10" cy="40.60" rx="2.8" ry="2.3" fill="#00dcff"/>
</g></g>
<line x1="253.9" y1="28.2" x2="253.9" y2="29.8" stroke="#a8a8a8" stroke-width="0.8"/>
<clipPath id="c5"><path d="M252.70000000000002,29.0 L255.1,29.0 L255.4,31.6 C256.9,32.4 258.2,34.0 258.6,36.2 L258.8,48.1 C258.8,50.2 258.4,51.6 257.7,52.8 L250.1,52.8 C249.4,51.6 249.0,50.2 249.0,48.1 L249.20000000000002,36.2 C249.6,34.0 250.9,32.4 252.4,31.6 Z"/></clipPath>
<path d="M252.70000000000002,29.0 L255.1,29.0 L255.4,31.6 C256.9,32.4 258.2,34.0 258.6,36.2 L258.8,48.1 C258.8,50.2 258.4,51.6 257.7,52.8 L250.1,52.8 C249.4,51.6 249.0,50.2 249.0,48.1 L249.20000000000002,36.2 C249.6,34.0 250.9,32.4 252.4,31.6 Z" fill="#d4d4d4"/>
<ellipse cx="253.9" cy="42.6" rx="3.6" ry="8.8" fill="#f2f2f2"/>
<g clip-path="url(#c5)"><g filter="url(#bl)">
<polygon points="253.90,28.88 256.87,32.59 259.09,37.89 258.88,43.19 256.97,48.49 255.28,54.11 252.52,54.11 250.83,48.49 248.92,43.19 248.71,37.89 250.93,32.59" fill="#9468ff"/>
<polygon points="253.90,30.80 256.42,33.95 258.31,38.45 258.13,42.95 256.51,47.45 255.07,52.22 252.73,52.22 251.29,47.45 249.67,42.95 249.49,38.45 251.38,33.95" fill="#2020ff"/>
<ellipse cx="249.70" cy="50.10" rx="1.1" ry="2.2" fill="#f0eaff"/>
<ellipse cx="258.10" cy="50.10" rx="1.1" ry="2.2" fill="#f0eaff"/>
<ellipse cx="250.10" cy="53.20" rx="1.0" ry="0.8" fill="#2020ff"/>
<ellipse cx="257.70" cy="53.20" rx="1.0" ry="0.8" fill="#2020ff"/>
<ellipse cx="253.60" cy="40.60" rx="2.8" ry="2.3" fill="#00dcff"/>
</g></g>
</g>
<rect x="262.2" y="28.0" width="57.0" height="26.2" fill="#151515"/>
<g filter="url(#bl2)">
<rect x="262.80" y="28.5" width="0.9" height="25.2" fill="#3c3c3c"/><rect x="268.40" y="28.5" width="0.9" height="25.2" fill="#3c3c3c"/><rect x="274.00" y="28.5" width="0.9" height="25.2" fill="#3c3c3c"/><rect x="279.60" y="28.5" width="0.9" height="25.2" fill="#3c3c3c"/><rect x="285.20" y="28.5" width="0.9" height="25.2" fill="#3c3c3c"/><rect x="290.80" y="28.5" width="0.9" height="25.2" fill="#3c3c3c"/><rect x="296.40" y="28.5" width="0.9" height="25.2" fill="#3c3c3c"/><rect x="302.00" y="28.5" width="0.9" height="25.2" fill="#3c3c3c"/><rect x="307.60" y="28.5" width="0.9" height="25.2" fill="#3c3c3c"/><rect x="313.20" y="28.5" width="0.9" height="25.2" fill="#3c3c3c"/>
<line x1="268.0" y1="28.2" x2="268.0" y2="29.8" stroke="#a8a8a8" stroke-width="0.8"/>
<clipPath id="c6"><path d="M266.8,29.0 L269.2,29.0 L269.5,31.6 C271.0,32.4 272.3,34.0 272.7,36.2 L272.9,48.1 C272.9,50.2 272.5,51.6 271.8,52.8 L264.2,52.8 C263.5,51.6 263.1,50.2 263.1,48.1 L263.3,36.2 C263.7,34.0 265.0,32.4 266.5,31.6 Z"/></clipPath>
<path d="M266.8,29.0 L269.2,29.0 L269.5,31.6 C271.0,32.4 272.3,34.0 272.7,36.2 L272.9,48.1 C272.9,50.2 272.5,51.6 271.8,52.8 L264.2,52.8 C263.5,51.6 263.1,50.2 263.1,48.1 L263.3,36.2 C263.7,34.0 265.0,32.4 266.5,31.6 Z" fill="#d4d4d4"/>
<ellipse cx="268.0" cy="42.6" rx="3.6" ry="8.8" fill="#f2f2f2"/>
<g clip-path="url(#c6)"><g filter="url(#bl)">
<polygon points="268.00,28.88 270.97,32.59 273.19,37.89 272.98,43.19 271.07,48.49 269.38,54.11 266.62,54.11 264.93,48.49 263.02,43.19 262.81,37.89 265.03,32.59" fill="#9468ff"/>
<polygon points="268.00,30.80 270.52,33.95 272.41,38.45 272.23,42.95 270.61,47.45 269.17,52.22 266.83,52.22 265.39,47.45 263.77,42.95 263.59,38.45 265.48,33.95" fill="#2020ff"/>
<ellipse cx="263.80" cy="50.10" rx="1.1" ry="2.2" fill="#f0eaff"/>
<ellipse cx="272.20" cy="50.10" rx="1.1" ry="2.2" fill="#f0eaff"/>
<ellipse cx="264.20" cy="53.20" rx="1.0" ry="0.8" fill="#2020ff"/>
<ellipse cx="271.80" cy="53.20" rx="1.0" ry="0.8" fill="#2020ff"/>
<ellipse cx="268.00" cy="40.40" rx="3.6" ry="2.9" fill="#00dcff"/>
<ellipse cx="267.70" cy="40.40" rx="2.3" ry="1.8" fill="#2cff40"/>
</g></g>
<line x1="279.2" y1="28.2" x2="279.2" y2="29.8" stroke="#a8a8a8" stroke-width="0.8"/>
<clipPath id="c7"><path d="M278.0,29.0 L280.4,29.0 L280.7,31.6 C282.2,32.4 283.5,34.0 283.9,36.2 L284.09999999999997,48.1 C284.09999999999997,50.2 283.7,51.6 283.0,52.8 L275.4,52.8 C274.7,51.6 274.3,50.2 274.3,48.1 L274.5,36.2 C274.9,34.0 276.2,32.4 277.7,31.6 Z"/></clipPath>
<path d="M278.0,29.0 L280.4,29.0 L280.7,31.6 C282.2,32.4 283.5,34.0 283.9,36.2 L284.09999999999997,48.1 C284.09999999999997,50.2 283.7,51.6 283.0,52.8 L275.4,52.8 C274.7,51.6 274.3,50.2 274.3,48.1 L274.5,36.2 C274.9,34.0 276.2,32.4 277.7,31.6 Z" fill="#d4d4d4"/>
<ellipse cx="279.2" cy="42.6" rx="3.6" ry="8.8" fill="#f2f2f2"/>
<g clip-path="url(#c7)"><g filter="url(#bl)">
<polygon points="279.20,28.88 282.17,32.59 284.39,37.89 284.18,43.19 282.27,48.49 280.58,54.11 277.82,54.11 276.13,48.49 274.22,43.19 274.01,37.89 276.23,32.59" fill="#9468ff"/>
<polygon points="279.20,30.80 281.72,33.95 283.61,38.45 283.43,42.95 281.81,47.45 280.37,52.22 278.03,52.22 276.59,47.45 274.97,42.95 274.79,38.45 276.68,33.95" fill="#2020ff"/>
<ellipse cx="275.00" cy="50.10" rx="1.1" ry="2.2" fill="#f0eaff"/>
<ellipse cx="283.40" cy="50.10" rx="1.1" ry="2.2" fill="#f0eaff"/>
<ellipse cx="275.40" cy="53.20" rx="1.0" ry="0.8" fill="#2020ff"/>
<ellipse cx="283.00" cy="53.20" rx="1.0" ry="0.8" fill="#2020ff"/>
<ellipse cx="279.20" cy="40.40" rx="3.6" ry="2.9" fill="#00dcff"/>
<ellipse cx="278.90" cy="40.40" rx="2.3" ry="1.8" fill="#2cff40"/>
</g></g>
<line x1="290.09999999999997" y1="28.2" x2="290.09999999999997" y2="29.8" stroke="#a8a8a8" stroke-width="0.8"/>
<clipPath id="c8"><path d="M288.9,29.0 L291.29999999999995,29.0 L291.59999999999997,31.6 C293.09999999999997,32.4 294.4,34.0 294.79999999999995,36.2 L294.99999999999994,48.1 C294.99999999999994,50.2 294.59999999999997,51.6 293.9,52.8 L286.29999999999995,52.8 C285.59999999999997,51.6 285.2,50.2 285.2,48.1 L285.4,36.2 C285.79999999999995,34.0 287.09999999999997,32.4 288.59999999999997,31.6 Z"/></clipPath>
<path d="M288.9,29.0 L291.29999999999995,29.0 L291.59999999999997,31.6 C293.09999999999997,32.4 294.4,34.0 294.79999999999995,36.2 L294.99999999999994,48.1 C294.99999999999994,50.2 294.59999999999997,51.6 293.9,52.8 L286.29999999999995,52.8 C285.59999999999997,51.6 285.2,50.2 285.2,48.1 L285.4,36.2 C285.79999999999995,34.0 287.09999999999997,32.4 288.59999999999997,31.6 Z" fill="#d4d4d4"/>
<ellipse cx="290.09999999999997" cy="42.6" rx="3.6" ry="8.8" fill="#f2f2f2"/>
<g clip-path="url(#c8)"><g filter="url(#bl)">
<ellipse cx="290.10" cy="51.60" rx="1.4" ry="2.0" fill="#2020ff"/>
<ellipse cx="289.10" cy="41.60" rx="1.0" ry="0.8" fill="#9468ff"/>
</g></g>
<line x1="301.09999999999997" y1="28.2" x2="301.09999999999997" y2="29.8" stroke="#a8a8a8" stroke-width="0.8"/>
<clipPath id="c9"><path d="M299.9,29.0 L302.29999999999995,29.0 L302.59999999999997,31.6 C304.09999999999997,32.4 305.4,34.0 305.79999999999995,36.2 L305.99999999999994,48.1 C305.99999999999994,50.2 305.59999999999997,51.6 304.9,52.8 L297.29999999999995,52.8 C296.59999999999997,51.6 296.2,50.2 296.2,48.1 L296.4,36.2 C296.79999999999995,34.0 298.09999999999997,32.4 299.59999999999997,31.6 Z"/></clipPath>
<path d="M299.9,29.0 L302.29999999999995,29.0 L302.59999999999997,31.6 C304.09999999999997,32.4 305.4,34.0 305.79999999999995,36.2 L305.99999999999994,48.1 C305.99999999999994,50.2 305.59999999999997,51.6 304.9,52.8 L297.29999999999995,52.8 C296.59999999999997,51.6 296.2,50.2 296.2,48.1 L296.4,36.2 C296.79999999999995,34.0 298.09999999999997,32.4 299.59999999999997,31.6 Z" fill="#d4d4d4"/>
<ellipse cx="301.09999999999997" cy="42.6" rx="3.6" ry="8.8" fill="#f2f2f2"/>
<g clip-path="url(#c9)"><g filter="url(#bl)">
<ellipse cx="299.60" cy="40.60" rx="1.3" ry="1.1" fill="#2020ff"/>
<ellipse cx="302.60" cy="43.60" rx="1.0" ry="1.0" fill="#9468ff"/>
<ellipse cx="301.10" cy="52.80" rx="1.5" ry="1.0" fill="#2020ff"/>
</g></g>
<line x1="312.0" y1="28.2" x2="312.0" y2="29.8" stroke="#a8a8a8" stroke-width="0.8"/>
<clipPath id="c10"><path d="M310.8,29.0 L313.2,29.0 L313.5,31.6 C315.0,32.4 316.3,34.0 316.7,36.2 L316.9,48.1 C316.9,50.2 316.5,51.6 315.8,52.8 L308.2,52.8 C307.5,51.6 307.1,50.2 307.1,48.1 L307.3,36.2 C307.7,34.0 309.0,32.4 310.5,31.6 Z"/></clipPath>
<path d="M310.8,29.0 L313.2,29.0 L313.5,31.6 C315.0,32.4 316.3,34.0 316.7,36.2 L316.9,48.1 C316.9,50.2 316.5,51.6 315.8,52.8 L308.2,52.8 C307.5,51.6 307.1,50.2 307.1,48.1 L307.3,36.2 C307.7,34.0 309.0,32.4 310.5,31.6 Z" fill="#d4d4d4"/>
<ellipse cx="312.0" cy="42.6" rx="3.6" ry="8.8" fill="#f2f2f2"/>
<g clip-path="url(#c10)"><g filter="url(#bl)">
<ellipse cx="310.50" cy="40.60" rx="1.3" ry="1.1" fill="#2020ff"/>
<ellipse cx="313.50" cy="43.60" rx="1.0" ry="1.0" fill="#9468ff"/>
<ellipse cx="312.00" cy="52.80" rx="1.5" ry="1.0" fill="#2020ff"/>
</g></g>
</g>
<rect x="321.0" y="28.0" width="57.0" height="26.2" fill="#151515"/>
<g filter="url(#bl2)">
<rect x="321.60" y="28.5" width="0.9" height="25.2" fill="#3c3c3c"/><rect x="327.20" y="28.5" width="0.9" height="25.2" fill="#3c3c3c"/><rect x="332.80" y="28.5" width="0.9" height="25.2" fill="#3c3c3c"/><rect x="338.40" y="28.5" width="0.9" height="25.2" fill="#3c3c3c"/><rect x="344.00" y="28.5" width="0.9" height="25.2" fill="#3c3c3c"/><rect x="349.60" y="28.5" width="0.9" height="25.2" fill="#3c3c3c"/><rect x="355.20" y="28.5" width="0.9" height="25.2" fill="#3c3c3c"/><rect x="360.80" y="28.5" width="0.9" height="25.2" fill="#3c3c3c"/><rect x="366.40" y="28.5" width="0.9" height="25.2" fill="#3c3c3c"/><rect x="372.00" y="28.5" width="0.9" height="25.2" fill="#3c3c3c"/>
<line x1="327.3" y1="28.2" x2="327.3" y2="29.8" stroke="#a8a8a8" stroke-width="0.8"/>
<clipPath id="c11"><path d="M326.1,29.0 L328.5,29.0 L328.8,31.6 C330.3,32.4 331.6,34.0 332.0,36.2 L332.2,48.1 C332.2,50.2 331.8,51.6 331.1,52.8 L323.5,52.8 C322.8,51.6 322.40000000000003,50.2 322.40000000000003,48.1 L322.6,36.2 C323.0,34.0 324.3,32.4 325.8,31.6 Z"/></clipPath>
<path d="M326.1,29.0 L328.5,29.0 L328.8,31.6 C330.3,32.4 331.6,34.0 332.0,36.2 L332.2,48.1 C332.2,50.2 331.8,51.6 331.1,52.8 L323.5,52.8 C322.8,51.6 322.40000000000003,50.2 322.40000000000003,48.1 L322.6,36.2 C323.0,34.0 324.3,32.4 325.8,31.6 Z" fill="#d4d4d4"/>
<ellipse cx="327.3" cy="42.6" rx="3.6" ry="8.8" fill="#f2f2f2"/>
<g clip-path="url(#c11)"><g filter="url(#bl)">
<ellipse cx="327.30" cy="41.60" rx="5.2" ry="12.5" fill="#2020ff"/>
<ellipse cx="327.30" cy="41.10" rx="4.5" ry="10.8" fill="#00dcff"/>
<ellipse cx="327.30" cy="41.40" rx="4.1" ry="9.8" fill="#2cff40"/>
<ellipse cx="327.30" cy="33.20" rx="1.7" ry="2.3" fill="#00dcff"/>
<ellipse cx="327.30" cy="33.00" rx="0.9" ry="1.2" fill="#2cff40"/>
<ellipse cx="326.90" cy="43.10" rx="3.9" ry="7.0" fill="#ff0000"/>
<ellipse cx="323.50" cy="49.60" rx="1.0" ry="1.4" fill="#e8ff20"/>
<ellipse cx="327.30" cy="53.00" rx="2.5" ry="1.0" fill="#00dcff"/>
</g></g>
<line x1="338.5" y1="28.2" x2="338.5" y2="29.8" stroke="#a8a8a8" stroke-width="0.8"/>
<clipPath id="c12"><path d="M337.3,29.0 L339.7,29.0 L340.0,31.6 C341.5,32.4 342.8,34.0 343.2,36.2 L343.4,48.1 C343.4,50.2 343.0,51.6 342.3,52.8 L334.7,52.8 C334.0,51.6 333.6,50.2 333.6,48.1 L333.8,36.2 C334.2,34.0 335.5,32.4 337.0,31.6 Z"/></clipPath>
<path d="M337.3,29.0 L339.7,29.0 L340.0,31.6 C341.5,32.4 342.8,34.0 343.2,36.2 L343.4,48.1 C343.4,50.2 343.0,51.6 342.3,52.8 L334.7,52.8 C334.0,51.6 333.6,50.2 333.6,48.1 L333.8,36.2 C334.2,34.0 335.5,32.4 337.0,31.6 Z" fill="#d4d4d4"/>
<ellipse cx="338.5" cy="42.6" rx="3.6" ry="8.8" fill="#f2f2f2"/>
<g clip-path="url(#c12)"><g filter="url(#bl)">
<ellipse cx="337.00" cy="40.60" rx="1.3" ry="1.1" fill="#2020ff"/>
<ellipse cx="340.00" cy="43.60" rx="1.0" ry="1.0" fill="#9468ff"/>
<ellipse cx="338.50" cy="52.80" rx="1.5" ry="1.0" fill="#2020ff"/>
</g></g>
<line x1="349.2" y1="28.2" x2="349.2" y2="29.8" stroke="#a8a8a8" stroke-width="0.8"/>
<clipPath id="c13"><path d="M348.0,29.0 L350.4,29.0 L350.7,31.6 C352.2,32.4 353.5,34.0 353.9,36.2 L354.09999999999997,48.1 C354.09999999999997,50.2 353.7,51.6 353.0,52.8 L345.4,52.8 C344.7,51.6 344.3,50.2 344.3,48.1 L344.5,36.2 C344.9,34.0 346.2,32.4 347.7,31.6 Z"/></clipPath>
<path d="M348.0,29.0 L350.4,29.0 L350.7,31.6 C352.2,32.4 353.5,34.0 353.9,36.2 L354.09999999999997,48.1 C354.09999999999997,50.2 353.7,51.6 353.0,52.8 L345.4,52.8 C344.7,51.6 344.3,50.2 344.3,48.1 L344.5,36.2 C344.9,34.0 346.2,32.4 347.7,31.6 Z" fill="#d4d4d4"/>
<ellipse cx="349.2" cy="42.6" rx="3.6" ry="8.8" fill="#f2f2f2"/>
<g clip-path="url(#c13)"><g filter="url(#bl)">
<ellipse cx="347.70" cy="40.60" rx="1.3" ry="1.1" fill="#2020ff"/>
<ellipse cx="350.70" cy="43.60" rx="1.0" ry="1.0" fill="#9468ff"/>
<ellipse cx="349.20" cy="52.80" rx="1.5" ry="1.0" fill="#2020ff"/>
</g></g>
<line x1="360.3" y1="28.2" x2="360.3" y2="29.8" stroke="#a8a8a8" stroke-width="0.8"/>
<clipPath id="c14"><path d="M359.1,29.0 L361.5,29.0 L361.8,31.6 C363.3,32.4 364.6,34.0 365.0,36.2 L365.2,48.1 C365.2,50.2 364.8,51.6 364.1,52.8 L356.5,52.8 C355.8,51.6 355.40000000000003,50.2 355.40000000000003,48.1 L355.6,36.2 C356.0,34.0 357.3,32.4 358.8,31.6 Z"/></clipPath>
<path d="M359.1,29.0 L361.5,29.0 L361.8,31.6 C363.3,32.4 364.6,34.0 365.0,36.2 L365.2,48.1 C365.2,50.2 364.8,51.6 364.1,52.8 L356.5,52.8 C355.8,51.6 355.40000000000003,50.2 355.40000000000003,48.1 L355.6,36.2 C356.0,34.0 357.3,32.4 358.8,31.6 Z" fill="#d4d4d4"/>
<ellipse cx="360.3" cy="42.6" rx="3.6" ry="8.8" fill="#f2f2f2"/>
<g clip-path="url(#c14)"><g filter="url(#bl)">
<polygon points="360.30,28.88 363.27,32.59 365.49,37.89 365.28,43.19 363.37,48.49 361.68,54.11 358.92,54.11 357.23,48.49 355.32,43.19 355.11,37.89 357.33,32.59" fill="#9468ff"/>
<polygon points="360.30,30.80 362.82,33.95 364.71,38.45 364.53,42.95 362.91,47.45 361.47,52.22 359.13,52.22 357.69,47.45 356.07,42.95 355.89,38.45 357.78,33.95" fill="#2020ff"/>
<ellipse cx="356.10" cy="50.10" rx="1.1" ry="2.2" fill="#f0eaff"/>
<ellipse cx="364.50" cy="50.10" rx="1.1" ry="2.2" fill="#f0eaff"/>
<ellipse cx="356.50" cy="53.20" rx="1.0" ry="0.8" fill="#2020ff"/>
<ellipse cx="364.10" cy="53.20" rx="1.0" ry="0.8" fill="#2020ff"/>
<ellipse cx="360.00" cy="40.60" rx="2.8" ry="2.3" fill="#00dcff"/>
</g></g>
<line x1="371.6" y1="28.2" x2="371.6" y2="29.8" stroke="#a8a8a8" stroke-width="0.8"/>
<clipPath id="c15"><path d="M370.40000000000003,29.0 L372.8,29.0 L373.1,31.6 C374.6,32.4 375.90000000000003,34.0 376.3,36.2 L376.5,48.1 C376.5,50.2 376.1,51.6 375.40000000000003,52.8 L367.8,52.8 C367.1,51.6 366.70000000000005,50.2 366.70000000000005,48.1 L366.90000000000003,36.2 C367.3,34.0 368.6,32.4 370.1,31.6 Z"/></clipPath>
<path d="M370.40000000000003,29.0 L372.8,29.0 L373.1,31.6 C374.6,32.4 375.90000000000003,34.0 376.3,36.2 L376.5,48.1 C376.5,50.2 376.1,51.6 375.40000000000003,52.8 L367.8,52.8 C367.1,51.6 366.70000000000005,50.2 366.70000000000005,48.1 L366.90000000000003,36.2 C367.3,34.0 368.6,32.4 370.1,31.6 Z" fill="#d4d4d4"/>
<ellipse cx="371.6" cy="42.6" rx="3.6" ry="8.8" fill="#f2f2f2"/>
</g>
<rect x="386.2" y="28.0" width="57.0" height="26.2" fill="#151515"/>
<g filter="url(#bl2)">
<rect x="386.80" y="28.5" width="0.9" height="25.2" fill="#3c3c3c"/><rect x="392.40" y="28.5" width="0.9" height="25.2" fill="#3c3c3c"/><rect x="398.00" y="28.5" width="0.9" height="25.2" fill="#3c3c3c"/><rect x="403.60" y="28.5" width="0.9" height="25.2" fill="#3c3c3c"/><rect x="409.20" y="28.5" width="0.9" height="25.2" fill="#3c3c3c"/><rect x="414.80" y="28.5" width="0.9" height="25.2" fill="#3c3c3c"/><rect x="420.40" y="28.5" width="0.9" height="25.2" fill="#3c3c3c"/><rect x="426.00" y="28.5" width="0.9" height="25.2" fill="#3c3c3c"/><rect x="431.60" y="28.5" width="0.9" height="25.2" fill="#3c3c3c"/><rect x="437.20" y="28.5" width="0.9" height="25.2" fill="#3c3c3c"/>
<line x1="394.2" y1="28.2" x2="394.2" y2="29.8" stroke="#a8a8a8" stroke-width="0.8"/>
<clipPath id="c16"><path d="M393.0,29.0 L395.4,29.0 L395.7,31.6 C397.2,32.4 398.5,34.0 398.9,36.2 L399.09999999999997,48.1 C399.09999999999997,50.2 398.7,51.6 398.0,52.8 L390.4,52.8 C389.7,51.6 389.3,50.2 389.3,48.1 L389.5,36.2 C389.9,34.0 391.2,32.4 392.7,31.6 Z"/></clipPath>
<path d="M393.0,29.0 L395.4,29.0 L395.7,31.6 C397.2,32.4 398.5,34.0 398.9,36.2 L399.09999999999997,48.1 C399.09999999999997,50.2 398.7,51.6 398.0,52.8 L390.4,52.8 C389.7,51.6 389.3,50.2 389.3,48.1 L389.5,36.2 C389.9,34.0 391.2,32.4 392.7,31.6 Z" fill="#d4d4d4"/>
<ellipse cx="394.2" cy="42.6" rx="3.6" ry="8.8" fill="#f2f2f2"/>
<g clip-path="url(#c16)"><g filter="url(#bl)">
<ellipse cx="392.70" cy="40.60" rx="1.3" ry="1.1" fill="#2020ff"/>
<ellipse cx="395.70" cy="43.60" rx="1.0" ry="1.0" fill="#9468ff"/>
<ellipse cx="394.20" cy="52.80" rx="1.5" ry="1.0" fill="#2020ff"/>
</g></g>
<line x1="405.3" y1="28.2" x2="405.3" y2="29.8" stroke="#a8a8a8" stroke-width="0.8"/>
<clipPath id="c17"><path d="M404.1,29.0 L406.5,29.0 L406.8,31.6 C408.3,32.4 409.6,34.0 410.0,36.2 L410.2,48.1 C410.2,50.2 409.8,51.6 409.1,52.8 L401.5,52.8 C400.8,51.6 400.40000000000003,50.2 400.40000000000003,48.1 L400.6,36.2 C401.0,34.0 402.3,32.4 403.8,31.6 Z"/></clipPath>
<path d="M404.1,29.0 L406.5,29.0 L406.8,31.6 C408.3,32.4 409.6,34.0 410.0,36.2 L410.2,48.1 C410.2,50.2 409.8,51.6 409.1,52.8 L401.5,52.8 C400.8,51.6 400.40000000000003,50.2 400.40000000000003,48.1 L400.6,36.2 C401.0,34.0 402.3,32.4 403.8,31.6 Z" fill="#d4d4d4"/>
<ellipse cx="405.3" cy="42.6" rx="3.6" ry="8.8" fill="#f2f2f2"/>
<line x1="416.3" y1="28.2" x2="416.3" y2="29.8" stroke="#a8a8a8" stroke-width="0.8"/>
<clipPath id="c18"><path d="M415.1,29.0 L417.5,29.0 L417.8,31.6 C419.3,32.4 420.6,34.0 421.0,36.2 L421.2,48.1 C421.2,50.2 420.8,51.6 420.1,52.8 L412.5,52.8 C411.8,51.6 411.40000000000003,50.2 411.40000000000003,48.1 L411.6,36.2 C412.0,34.0 413.3,32.4 414.8,31.6 Z"/></clipPath>
<path d="M415.1,29.0 L417.5,29.0 L417.8,31.6 C419.3,32.4 420.6,34.0 421.0,36.2 L421.2,48.1 C421.2,50.2 420.8,51.6 420.1,52.8 L412.5,52.8 C411.8,51.6 411.40000000000003,50.2 411.40000000000003,48.1 L411.6,36.2 C412.0,34.0 413.3,32.4 414.8,31.6 Z" fill="#d4d4d4"/>
<ellipse cx="416.3" cy="42.6" rx="3.6" ry="8.8" fill="#f2f2f2"/>
<g clip-path="url(#c18)"><g filter="url(#bl)">
<ellipse cx="416.30" cy="51.60" rx="1.4" ry="2.0" fill="#2020ff"/>
<ellipse cx="415.30" cy="41.60" rx="1.0" ry="0.8" fill="#9468ff"/>
</g></g>
<line x1="427.3" y1="28.2" x2="427.3" y2="29.8" stroke="#a8a8a8" stroke-width="0.8"/>
<clipPath id="c19"><path d="M426.1,29.0 L428.5,29.0 L428.8,31.6 C430.3,32.4 431.6,34.0 432.0,36.2 L432.2,48.1 C432.2,50.2 431.8,51.6 431.1,52.8 L423.5,52.8 C422.8,51.6 422.40000000000003,50.2 422.40000000000003,48.1 L422.6,36.2 C423.0,34.0 424.3,32.4 425.8,31.6 Z"/></clipPath>
<path d="M426.1,29.0 L428.5,29.0 L428.8,31.6 C430.3,32.4 431.6,34.0 432.0,36.2 L432.2,48.1 C432.2,50.2 431.8,51.6 431.1,52.8 L423.5,52.8 C422.8,51.6 422.40000000000003,50.2 422.40000000000003,48.1 L422.6,36.2 C423.0,34.0 424.3,32.4 425.8,31.6 Z" fill="#d4d4d4"/>
<ellipse cx="427.3" cy="42.6" rx="3.6" ry="8.8" fill="#f2f2f2"/>
<g clip-path="url(#c19)"><g filter="url(#bl)">
<ellipse cx="425.80" cy="40.60" rx="1.3" ry="1.1" fill="#2020ff"/>
<ellipse cx="428.80" cy="43.60" rx="1.0" ry="1.0" fill="#9468ff"/>
<ellipse cx="427.30" cy="52.80" rx="1.5" ry="1.0" fill="#2020ff"/>
</g></g>
<line x1="438.0" y1="28.2" x2="438.0" y2="29.8" stroke="#a8a8a8" stroke-width="0.8"/>
<clipPath id="c20"><path d="M436.8,29.0 L439.2,29.0 L439.5,31.6 C441.0,32.4 442.3,34.0 442.7,36.2 L442.9,48.1 C442.9,50.2 442.5,51.6 441.8,52.8 L434.2,52.8 C433.5,51.6 433.1,50.2 433.1,48.1 L433.3,36.2 C433.7,34.0 435.0,32.4 436.5,31.6 Z"/></clipPath>
<path d="M436.8,29.0 L439.2,29.0 L439.5,31.6 C441.0,32.4 442.3,34.0 442.7,36.2 L442.9,48.1 C442.9,50.2 442.5,51.6 441.8,52.8 L434.2,52.8 C433.5,51.6 433.1,50.2 433.1,48.1 L433.3,36.2 C433.7,34.0 435.0,32.4 436.5,31.6 Z" fill="#d4d4d4"/>
<ellipse cx="438.0" cy="42.6" rx="3.6" ry="8.8" fill="#f2f2f2"/>
</g>
<rect x="445.2" y="28.0" width="57.0" height="26.2" fill="#151515"/>
<g filter="url(#bl2)">
<rect x="445.80" y="28.5" width="0.9" height="25.2" fill="#3c3c3c"/><rect x="451.40" y="28.5" width="0.9" height="25.2" fill="#3c3c3c"/><rect x="457.00" y="28.5" width="0.9" height="25.2" fill="#3c3c3c"/><rect x="462.60" y="28.5" width="0.9" height="25.2" fill="#3c3c3c"/><rect x="468.20" y="28.5" width="0.9" height="25.2" fill="#3c3c3c"/><rect x="473.80" y="28.5" width="0.9" height="25.2" fill="#3c3c3c"/><rect x="479.40" y="28.5" width="0.9" height="25.2" fill="#3c3c3c"/><rect x="485.00" y="28.5" width="0.9" height="25.2" fill="#3c3c3c"/><rect x="490.60" y="28.5" width="0.9" height="25.2" fill="#3c3c3c"/><rect x="496.20" y="28.5" width="0.9" height="25.2" fill="#3c3c3c"/>
<line x1="450.5" y1="28.2" x2="450.5" y2="29.8" stroke="#a8a8a8" stroke-width="0.8"/>
<clipPath id="c21"><path d="M449.3,29.0 L451.7,29.0 L452.0,31.6 C453.5,32.4 454.8,34.0 455.2,36.2 L455.4,48.1 C455.4,50.2 455.0,51.6 454.3,52.8 L446.7,52.8 C446.0,51.6 445.6,50.2 445.6,48.1 L445.8,36.2 C446.2,34.0 447.5,32.4 449.0,31.6 Z"/></clipPath>
<path d="M449.3,29.0 L451.7,29.0 L452.0,31.6 C453.5,32.4 454.8,34.0 455.2,36.2 L455.4,48.1 C455.4,50.2 455.0,51.6 454.3,52.8 L446.7,52.8 C446.0,51.6 445.6,50.2 445.6,48.1 L445.8,36.2 C446.2,34.0 447.5,32.4 449.0,31.6 Z" fill="#d4d4d4"/>
<ellipse cx="450.5" cy="42.6" rx="3.6" ry="8.8" fill="#f2f2f2"/>
<g clip-path="url(#c21)"><g filter="url(#bl)">
<ellipse cx="450.50" cy="32.10" rx="1.8" ry="2.0" fill="#2020ff"/>
<ellipse cx="450.50" cy="31.80" rx="0.9" ry="1.0" fill="#00dcff"/>
<ellipse cx="448.30" cy="35.60" rx="1.2" ry="1.4" fill="#2020ff"/>
<ellipse cx="452.70" cy="35.60" rx="1.2" ry="1.4" fill="#2020ff"/>
</g></g>
<line x1="461.3" y1="28.2" x2="461.3" y2="29.8" stroke="#a8a8a8" stroke-width="0.8"/>
<clipPath id="c22"><path d="M460.1,29.0 L462.5,29.0 L462.8,31.6 C464.3,32.4 465.6,34.0 466.0,36.2 L466.2,48.1 C466.2,50.2 465.8,51.6 465.1,52.8 L457.5,52.8 C456.8,51.6 456.40000000000003,50.2 456.40000000000003,48.1 L456.6,36.2 C457.0,34.0 458.3,32.4 459.8,31.6 Z"/></clipPath>
<path d="M460.1,29.0 L462.5,29.0 L462.8,31.6 C464.3,32.4 465.6,34.0 466.0,36.2 L466.2,48.1 C466.2,50.2 465.8,51.6 465.1,52.8 L457.5,52.8 C456.8,51.6 456.40000000000003,50.2 456.40000000000003,48.1 L456.6,36.2 C457.0,34.0 458.3,32.4 459.8,31.6 Z" fill="#d4d4d4"/>
<ellipse cx="461.3" cy="42.6" rx="3.6" ry="8.8" fill="#f2f2f2"/>
<line x1="472.5" y1="28.2" x2="472.5" y2="29.8" stroke="#a8a8a8" stroke-width="0.8"/>
<clipPath id="c23"><path d="M471.3,29.0 L473.7,29.0 L474.0,31.6 C475.5,32.4 476.8,34.0 477.2,36.2 L477.4,48.1 C477.4,50.2 477.0,51.6 476.3,52.8 L468.7,52.8 C468.0,51.6 467.6,50.2 467.6,48.1 L467.8,36.2 C468.2,34.0 469.5,32.4 471.0,31.6 Z"/></clipPath>
<path d="M471.3,29.0 L473.7,29.0 L474.0,31.6 C475.5,32.4 476.8,34.0 477.2,36.2 L477.4,48.1 C477.4,50.2 477.0,51.6 476.3,52.8 L468.7,52.8 C468.0,51.6 467.6,50.2 467.6,48.1 L467.8,36.2 C468.2,34.0 469.5,32.4 471.0,31.6 Z" fill="#d4d4d4"/>
<ellipse cx="472.5" cy="42.6" rx="3.6" ry="8.8" fill="#f2f2f2"/>
<g clip-path="url(#c23)"><g filter="url(#bl)">
<ellipse cx="472.50" cy="32.10" rx="1.8" ry="2.0" fill="#2020ff"/>
<ellipse cx="472.50" cy="31.80" rx="0.9" ry="1.0" fill="#00dcff"/>
<ellipse cx="470.30" cy="35.60" rx="1.2" ry="1.4" fill="#2020ff"/>
<ellipse cx="474.70" cy="35.60" rx="1.2" ry="1.4" fill="#2020ff"/>
</g></g>
<line x1="483.5" y1="28.2" x2="483.5" y2="29.8" stroke="#a8a8a8" stroke-width="0.8"/>
<clipPath id="c24"><path d="M482.3,29.0 L484.7,29.0 L485.0,31.6 C486.5,32.4 487.8,34.0 488.2,36.2 L488.4,48.1 C488.4,50.2 488.0,51.6 487.3,52.8 L479.7,52.8 C479.0,51.6 478.6,50.2 478.6,48.1 L478.8,36.2 C479.2,34.0 480.5,32.4 482.0,31.6 Z"/></clipPath>
<path d="M482.3,29.0 L484.7,29.0 L485.0,31.6 C486.5,32.4 487.8,34.0 488.2,36.2 L488.4,48.1 C488.4,50.2 488.0,51.6 487.3,52.8 L479.7,52.8 C479.0,51.6 478.6,50.2 478.6,48.1 L478.8,36.2 C479.2,34.0 480.5,32.4 482.0,31.6 Z" fill="#d4d4d4"/>
<ellipse cx="483.5" cy="42.6" rx="3.6" ry="8.8" fill="#f2f2f2"/>
<line x1="495.09999999999997" y1="28.2" x2="495.09999999999997" y2="29.8" stroke="#a8a8a8" stroke-width="0.8"/>
<clipPath id="c25"><path d="M493.9,29.0 L496.29999999999995,29.0 L496.59999999999997,31.6 C498.09999999999997,32.4 499.4,34.0 499.79999999999995,36.2 L499.99999999999994,48.1 C499.99999999999994,50.2 499.59999999999997,51.6 498.9,52.8 L491.29999999999995,52.8 C490.59999999999997,51.6 490.2,50.2 490.2,48.1 L490.4,36.2 C490.79999999999995,34.0 492.09999999999997,32.4 493.59999999999997,31.6 Z"/></clipPath>
<path d="M493.9,29.0 L496.29999999999995,29.0 L496.59999999999997,31.6 C498.09999999999997,32.4 499.4,34.0 499.79999999999995,36.2 L499.99999999999994,48.1 C499.99999999999994,50.2 499.59999999999997,51.6 498.9,52.8 L491.29999999999995,52.8 C490.59999999999997,51.6 490.2,50.2 490.2,48.1 L490.4,36.2 C490.79999999999995,34.0 492.09999999999997,32.4 493.59999999999997,31.6 Z" fill="#d4d4d4"/>
<ellipse cx="495.09999999999997" cy="42.6" rx="3.6" ry="8.8" fill="#f2f2f2"/>
</g>
<rect x="203.3" y="56.0" width="57.0" height="26.2" fill="#151515"/>
<g filter="url(#bl2)">
<rect x="203.90" y="56.5" width="0.9" height="25.2" fill="#3c3c3c"/><rect x="209.50" y="56.5" width="0.9" height="25.2" fill="#3c3c3c"/><rect x="215.10" y="56.5" width="0.9" height="25.2" fill="#3c3c3c"/><rect x="220.70" y="56.5" width="0.9" height="25.2" fill="#3c3c3c"/><rect x="226.30" y="56.5" width="0.9" height="25.2" fill="#3c3c3c"/><rect x="231.90" y="56.5" width="0.9" height="25.2" fill="#3c3c3c"/><rect x="237.50" y="56.5" width="0.9" height="25.2" fill="#3c3c3c"/><rect x="243.10" y="56.5" width="0.9" height="25.2" fill="#3c3c3c"/><rect x="248.70" y="56.5" width="0.9" height="25.2" fill="#3c3c3c"/><rect x="254.30" y="56.5" width="0.9" height="25.2" fill="#3c3c3c"/>
<line x1="208.8" y1="56.2" x2="208.8" y2="57.800000000000004" stroke="#a8a8a8" stroke-width="0.8"/>
<clipPath id="c26"><path d="M207.60000000000002,57.0 L210.0,57.0 L210.3,59.6 C211.8,60.4 213.10000000000002,62.0 213.5,64.2 L213.70000000000002,76.1 C213.70000000000002,78.2 213.3,79.6 212.60000000000002,80.8 L205.0,80.8 C204.3,79.6 203.9,78.2 203.9,76.1 L204.10000000000002,64.2 C204.5,62.0 205.8,60.4 207.3,59.6 Z"/></clipPath>
<path d="M207.60000000000002,57.0 L210.0,57.0 L210.3,59.6 C211.8,60.4 213.10000000000002,62.0 213.5,64.2 L213.70000000000002,76.1 C213.70000000000002,78.2 213.3,79.6 212.60000000000002,80.8 L205.0,80.8 C204.3,79.6 203.9,78.2 203.9,76.1 L204.10000000000002,64.2 C204.5,62.0 205.8,60.4 207.3,59.6 Z" fill="#d4d4d4"/>
<ellipse cx="208.8" cy="70.6" rx="3.6" ry="8.8" fill="#f2f2f2"/>
<g clip-path="url(#c26)"><g filter="url(#bl)">
<ellipse cx="208.80" cy="66.60" rx="4.2" ry="7" fill="#9468ff"/>
<ellipse cx="208.80" cy="66.10" rx="3.4" ry="5.5" fill="#2020ff"/>
<ellipse cx="208.80" cy="61.60" rx="1.8" ry="3" fill="#2020ff"/>
<ellipse cx="208.80" cy="74.60" rx="2.2" ry="3" fill="#9468ff"/>
<ellipse cx="205.30" cy="81.10" rx="1.2" ry="1.0" fill="#2020ff"/>
<ellipse cx="212.30" cy="81.10" rx="1.2" ry="1.0" fill="#2020ff"/>
</g></g>
<line x1="219.9" y1="56.2" x2="219.9" y2="57.800000000000004" stroke="#a8a8a8" stroke-width="0.8"/>
<clipPath id="c27"><path d="M218.70000000000002,57.0 L221.1,57.0 L221.4,59.6 C222.9,60.4 224.20000000000002,62.0 224.6,64.2 L224.8,76.1 C224.8,78.2 224.4,79.6 223.70000000000002,80.8 L216.1,80.8 C215.4,79.6 215.0,78.2 215.0,76.1 L215.20000000000002,64.2 C215.6,62.0 216.9,60.4 218.4,59.6 Z"/></clipPath>
<path d="M218.70000000000002,57.0 L221.1,57.0 L221.4,59.6 C222.9,60.4 224.20000000000002,62.0 224.6,64.2 L224.8,76.1 C224.8,78.2 224.4,79.6 223.70000000000002,80.8 L216.1,80.8 C215.4,79.6 215.0,78.2 215.0,76.1 L215.20000000000002,64.2 C215.6,62.0 216.9,60.4 218.4,59.6 Z" fill="#d4d4d4"/>
<ellipse cx="219.9" cy="70.6" rx="3.6" ry="8.8" fill="#f2f2f2"/>
<g clip-path="url(#c27)"><g filter="url(#bl)">
<polygon points="219.90,56.88 222.87,60.59 225.09,65.89 224.88,71.19 222.97,76.49 221.28,82.11 218.52,82.11 216.83,76.49 214.92,71.19 214.71,65.89 216.93,60.59" fill="#9468ff"/>
<polygon points="219.90,58.80 222.42,61.95 224.31,66.45 224.13,70.95 222.51,75.45 221.07,80.22 218.73,80.22 217.29,75.45 215.67,70.95 215.49,66.45 217.38,61.95" fill="#2020ff"/>
<ellipse cx="215.70" cy="78.10" rx="1.1" ry="2.2" fill="#f0eaff"/>
<ellipse cx="224.10" cy="78.10" rx="1.1" ry="2.2" fill="#f0eaff"/>
<ellipse cx="216.10" cy="81.20" rx="1.0" ry="0.8" fill="#2020ff"/>
<ellipse cx="223.70" cy="81.20" rx="1.0" ry="0.8" fill="#2020ff"/>
<ellipse cx="219.90" cy="68.60" rx="3.7" ry="3.0" fill="#00dcff"/>
<ellipse cx="219.90" cy="68.60" rx="2.6" ry="2.0" fill="#2cff40"/>
<ellipse cx="218.60" cy="69.10" rx="1.0" ry="0.9" fill="#ff0000"/>
</g></g>
<line x1="231.10000000000002" y1="56.2" x2="231.10000000000002" y2="57.800000000000004" stroke="#a8a8a8" stroke-width="0.8"/>
<clipPath id="c28"><path d="M229.90000000000003,57.0 L232.3,57.0 L232.60000000000002,59.6 C234.10000000000002,60.4 235.40000000000003,62.0 235.8,64.2 L236.00000000000003,76.1 C236.00000000000003,78.2 235.60000000000002,79.6 234.90000000000003,80.8 L227.3,80.8 C226.60000000000002,79.6 226.20000000000002,78.2 226.20000000000002,76.1 L226.40000000000003,64.2 C226.8,62.0 228.10000000000002,60.4 229.60000000000002,59.6 Z"/></clipPath>
<path d="M229.90000000000003,57.0 L232.3,57.0 L232.60000000000002,59.6 C234.10000000000002,60.4 235.40000000000003,62.0 235.8,64.2 L236.00000000000003,76.1 C236.00000000000003,78.2 235.60000000000002,79.6 234.90000000000003,80.8 L227.3,80.8 C226.60000000000002,79.6 226.20000000000002,78.2 226.20000000000002,76.1 L226.40000000000003,64.2 C226.8,62.0 228.10000000000002,60.4 229.60000000000002,59.6 Z" fill="#d4d4d4"/>
<ellipse cx="231.10000000000002" cy="70.6" rx="3.6" ry="8.8" fill="#f2f2f2"/>
<g clip-path="url(#c28)"><g filter="url(#bl)">
<polygon points="231.10,56.88 234.07,60.59 236.29,65.89 236.08,71.19 234.17,76.49 232.48,82.11 229.72,82.11 228.03,76.49 226.12,71.19 225.91,65.89 228.13,60.59" fill="#9468ff"/>
<polygon points="231.10,58.80 233.62,61.95 235.51,66.45 235.33,70.95 233.71,75.45 232.27,80.22 229.93,80.22 228.49,75.45 226.87,70.95 226.69,66.45 228.58,61.95" fill="#2020ff"/>
<ellipse cx="226.90" cy="78.10" rx="1.1" ry="2.2" fill="#f0eaff"/>
<ellipse cx="235.30" cy="78.10" rx="1.1" ry="2.2" fill="#f0eaff"/>
<ellipse cx="227.30" cy="81.20" rx="1.0" ry="0.8" fill="#2020ff"/>
<ellipse cx="234.90" cy="81.20" rx="1.0" ry="0.8" fill="#2020ff"/>
<ellipse cx="231.10" cy="68.40" rx="3.6" ry="2.9" fill="#00dcff"/>
<ellipse cx="230.80" cy="68.40" rx="2.3" ry="1.8" fill="#2cff40"/>
</g></g>
<line x1="242.4" y1="56.2" x2="242.4" y2="57.800000000000004" stroke="#a8a8a8" stroke-width="0.8"/>
<clipPath id="c29"><path d="M241.20000000000002,57.0 L243.6,57.0 L243.9,59.6 C245.4,60.4 246.70000000000002,62.0 247.1,64.2 L247.3,76.1 C247.3,78.2 246.9,79.6 246.20000000000002,80.8 L238.6,80.8 C237.9,79.6 237.5,78.2 237.5,76.1 L237.70000000000002,64.2 C238.1,62.0 239.4,60.4 240.9,59.6 Z"/></clipPath>
<path d="M241.20000000000002,57.0 L243.6,57.0 L243.9,59.6 C245.4,60.4 246.70000000000002,62.0 247.1,64.2 L247.3,76.1 C247.3,78.2 246.9,79.6 246.20000000000002,80.8 L238.6,80.8 C237.9,79.6 237.5,78.2 237.5,76.1 L237.70000000000002,64.2 C238.1,62.0 239.4,60.4 240.9,59.6 Z" fill="#d4d4d4"/>
<ellipse cx="242.4" cy="70.6" rx="3.6" ry="8.8" fill="#f2f2f2"/>
<g clip-path="url(#c29)"><g filter="url(#bl)">
<polygon points="242.40,56.88 245.37,60.59 247.59,65.89 247.38,71.19 245.47,76.49 243.78,82.11 241.02,82.11 239.33,76.49 237.42,71.19 237.21,65.89 239.43,60.59" fill="#9468ff"/>
<polygon points="242.40,58.80 244.92,61.95 246.81,66.45 246.63,70.95 245.01,75.45 243.57,80.22 241.23,80.22 239.79,75.45 238.17,70.95 237.99,66.45 239.88,61.95" fill="#2020ff"/>
<ellipse cx="238.20" cy="78.10" rx="1.1" ry="2.2" fill="#f0eaff"/>
<ellipse cx="246.60" cy="78.10" rx="1.1" ry="2.2" fill="#f0eaff"/>
<ellipse cx="238.60" cy="81.20" rx="1.0" ry="0.8" fill="#2020ff"/>
<ellipse cx="246.20" cy="81.20" rx="1.0" ry="0.8" fill="#2020ff"/>
<ellipse cx="242.10" cy="68.60" rx="2.8" ry="2.3" fill="#00dcff"/>
</g></g>
<line x1="253.9" y1="56.2" x2="253.9" y2="57.800000000000004" stroke="#a8a8a8" stroke-width="0.8"/>
<clipPath id="c30"><path d="M252.70000000000002,57.0 L255.1,57.0 L255.4,59.6 C256.9,60.4 258.2,62.0 258.6,64.2 L258.8,76.1 C258.8,78.2 258.4,79.6 257.7,80.8 L250.1,80.8 C249.4,79.6 249.0,78.2 249.0,76.1 L249.20000000000002,64.2 C249.6,62.0 250.9,60.4 252.4,59.6 Z"/></clipPath>
<path d="M252.70000000000002,57.0 L255.1,57.0 L255.4,59.6 C256.9,60.4 258.2,62.0 258.6,64.2 L258.8,76.1 C258.8,78.2 258.4,79.6 257.7,80.8 L250.1,80.8 C249.4,79.6 249.0,78.2 249.0,76.1 L249.20000000000002,64.2 C249.6,62.0 250.9,60.4 252.4,59.6 Z" fill="#d4d4d4"/>
<ellipse cx="253.9" cy="70.6" rx="3.6" ry="8.8" fill="#f2f2f2"/>
<g clip-path="url(#c30)"><g filter="url(#bl)">
<polygon points="253.90,56.88 256.87,60.59 259.09,65.89 258.88,71.19 256.97,76.49 255.28,82.11 252.52,82.11 250.83,76.49 248.92,71.19 248.71,65.89 250.93,60.59" fill="#9468ff"/>
<polygon points="253.90,58.80 256.42,61.95 258.31,66.45 258.13,70.95 256.51,75.45 255.07,80.22 252.73,80.22 251.29,75.45 249.67,70.95 249.49,66.45 251.38,61.95" fill="#2020ff"/>
<ellipse cx="249.70" cy="78.10" rx="1.1" ry="2.2" fill="#f0eaff"/>
<ellipse cx="258.10" cy="78.10" rx="1.1" ry="2.2" fill="#f0eaff"/>
<ellipse cx="250.10" cy="81.20" rx="1.0" ry="0.8" fill="#2020ff"/>
<ellipse cx="257.70" cy="81.20" rx="1.0" ry="0.8" fill="#2020ff"/>
<ellipse cx="253.60" cy="68.60" rx="2.8" ry="2.3" fill="#00dcff"/>
</g></g>
</g>
<rect x="262.2" y="56.0" width="57.0" height="26.2" fill="#151515"/>
<g filter="url(#bl2)">
<rect x="262.80" y="56.5" width="0.9" height="25.2" fill="#3c3c3c"/><rect x="268.40" y="56.5" width="0.9" height="25.2" fill="#3c3c3c"/><rect x="274.00" y="56.5" width="0.9" height="25.2" fill="#3c3c3c"/><rect x="279.60" y="56.5" width="0.9" height="25.2" fill="#3c3c3c"/><rect x="285.20" y="56.5" width="0.9" height="25.2" fill="#3c3c3c"/><rect x="290.80" y="56.5" width="0.9" height="25.2" fill="#3c3c3c"/><rect x="296.40" y="56.5" width="0.9" height="25.2" fill="#3c3c3c"/><rect x="302.00" y="56.5" width="0.9" height="25.2" fill="#3c3c3c"/><rect x="307.60" y="56.5" width="0.9" height="25.2" fill="#3c3c3c"/><rect x="313.20" y="56.5" width="0.9" height="25.2" fill="#3c3c3c"/>
<line x1="268.0" y1="56.2" x2="268.0" y2="57.800000000000004" stroke="#a8a8a8" stroke-width="0.8"/>
<clipPath id="c31"><path d="M266.8,57.0 L269.2,57.0 L269.5,59.6 C271.0,60.4 272.3,62.0 272.7,64.2 L272.9,76.1 C272.9,78.2 272.5,79.6 271.8,80.8 L264.2,80.8 C263.5,79.6 263.1,78.2 263.1,76.1 L263.3,64.2 C263.7,62.0 265.0,60.4 266.5,59.6 Z"/></clipPath>
<path d="M266.8,57.0 L269.2,57.0 L269.5,59.6 C271.0,60.4 272.3,62.0 272.7,64.2 L272.9,76.1 C272.9,78.2 272.5,79.6 271.8,80.8 L264.2,80.8 C263.5,79.6 263.1,78.2 263.1,76.1 L263.3,64.2 C263.7,62.0 265.0,60.4 266.5,59.6 Z" fill="#d4d4d4"/>
<ellipse cx="268.0" cy="70.6" rx="3.6" ry="8.8" fill="#f2f2f2"/>
<g clip-path="url(#c31)"><g filter="url(#bl)">
<ellipse cx="268.30" cy="69.10" rx="3.9" ry="5.6" fill="#9468ff"/>
<ellipse cx="268.30" cy="69.10" rx="3.2" ry="4.6" fill="#2020ff"/>
<ellipse cx="266.00" cy="68.60" rx="1.3" ry="1.0" fill="#00dcff"/>
<ellipse cx="268.00" cy="80.60" rx="1.5" ry="1.0" fill="#2020ff"/>
<ellipse cx="268.00" cy="61.10" rx="1.5" ry="1.2" fill="#9468ff"/>
</g></g>
<line x1="279.2" y1="56.2" x2="279.2" y2="57.800000000000004" stroke="#a8a8a8" stroke-width="0.8"/>
<clipPath id="c32"><path d="M278.0,57.0 L280.4,57.0 L280.7,59.6 C282.2,60.4 283.5,62.0 283.9,64.2 L284.09999999999997,76.1 C284.09999999999997,78.2 283.7,79.6 283.0,80.8 L275.4,80.8 C274.7,79.6 274.3,78.2 274.3,76.1 L274.5,64.2 C274.9,62.0 276.2,60.4 277.7,59.6 Z"/></clipPath>
<path d="M278.0,57.0 L280.4,57.0 L280.7,59.6 C282.2,60.4 283.5,62.0 283.9,64.2 L284.09999999999997,76.1 C284.09999999999997,78.2 283.7,79.6 283.0,80.8 L275.4,80.8 C274.7,79.6 274.3,78.2 274.3,76.1 L274.5,64.2 C274.9,62.0 276.2,60.4 277.7,59.6 Z" fill="#d4d4d4"/>
<ellipse cx="279.2" cy="70.6" rx="3.6" ry="8.8" fill="#f2f2f2"/>
<g clip-path="url(#c32)"><g filter="url(#bl)">
<polygon points="279.20,56.88 282.17,60.59 284.39,65.89 284.18,71.19 282.27,76.49 280.58,82.11 277.82,82.11 276.13,76.49 274.22,71.19 274.01,65.89 276.23,60.59" fill="#9468ff"/>
<polygon points="279.20,58.80 281.72,61.95 283.61,66.45 283.43,70.95 281.81,75.45 280.37,80.22 278.03,80.22 276.59,75.45 274.97,70.95 274.79,66.45 276.68,61.95" fill="#2020ff"/>
<ellipse cx="275.00" cy="78.10" rx="1.1" ry="2.2" fill="#f0eaff"/>
<ellipse cx="283.40" cy="78.10" rx="1.1" ry="2.2" fill="#f0eaff"/>
<ellipse cx="275.40" cy="81.20" rx="1.0" ry="0.8" fill="#2020ff"/>
<ellipse cx="283.00" cy="81.20" rx="1.0" ry="0.8" fill="#2020ff"/>
<ellipse cx="279.20" cy="67.10" rx="3.7" ry="4.8" fill="#00dcff"/>
<ellipse cx="279.20" cy="67.60" rx="2.7" ry="3.4" fill="#2cff40"/>
<ellipse cx="278.10" cy="68.10" rx="1.5" ry="1.3" fill="#ff0000"/>
<ellipse cx="279.20" cy="60.80" rx="1.2" ry="1.6" fill="#00dcff"/>
</g></g>
<line x1="290.09999999999997" y1="56.2" x2="290.09999999999997" y2="57.800000000000004" stroke="#a8a8a8" stroke-width="0.8"/>
<clipPath id="c33"><path d="M288.9,57.0 L291.29999999999995,57.0 L291.59999999999997,59.6 C293.09999999999997,60.4 294.4,62.0 294.79999999999995,64.2 L294.99999999999994,76.1 C294.99999999999994,78.2 294.59999999999997,79.6 293.9,80.8 L286.29999999999995,80.8 C285.59999999999997,79.6 285.2,78.2 285.2,76.1 L285.4,64.2 C285.79999999999995,62.0 287.09999999999997,60.4 288.59999999999997,59.6 Z"/></clipPath>
<path d="M288.9,57.0 L291.29999999999995,57.0 L291.59999999999997,59.6 C293.09999999999997,60.4 294.4,62.0 294.79999999999995,64.2 L294.99999999999994,76.1 C294.99999999999994,78.2 294.59999999999997,79.6 293.9,80.8 L286.29999999999995,80.8 C285.59999999999997,79.6 285.2,78.2 285.2,76.1 L285.4,64.2 C285.79999999999995,62.0 287.09999999999997,60.4 288.59999999999997,59.6 Z" fill="#d4d4d4"/>
<ellipse cx="290.09999999999997" cy="70.6" rx="3.6" ry="8.8" fill="#f2f2f2"/>
<g clip-path="url(#c33)"><g filter="url(#bl)">
<ellipse cx="290.40" cy="69.10" rx="3.9" ry="5.6" fill="#9468ff"/>
<ellipse cx="290.40" cy="69.10" rx="3.2" ry="4.6" fill="#2020ff"/>
<ellipse cx="288.10" cy="68.60" rx="1.3" ry="1.0" fill="#00dcff"/>
<ellipse cx="290.10" cy="80.60" rx="1.5" ry="1.0" fill="#2020ff"/>
<ellipse cx="290.10" cy="61.10" rx="1.5" ry="1.2" fill="#9468ff"/>
</g></g>
<line x1="301.09999999999997" y1="56.2" x2="301.09999999999997" y2="57.800000000000004" stroke="#a8a8a8" stroke-width="0.8"/>
<clipPath id="c34"><path d="M299.9,57.0 L302.29999999999995,57.0 L302.59999999999997,59.6 C304.09999999999997,60.4 305.4,62.0 305.79999999999995,64.2 L305.99999999999994,76.1 C305.99999999999994,78.2 305.59999999999997,79.6 304.9,80.8 L297.29999999999995,80.8 C296.59999999999997,79.6 296.2,78.2 296.2,76.1 L296.4,64.2 C296.79999999999995,62.0 298.09999999999997,60.4 299.59999999999997,59.6 Z"/></clipPath>
<path d="M299.9,57.0 L302.29999999999995,57.0 L302.59999999999997,59.6 C304.09999999999997,60.4 305.4,62.0 305.79999999999995,64.2 L305.99999999999994,76.1 C305.99999999999994,78.2 305.59999999999997,79.6 304.9,80.8 L297.29999999999995,80.8 C296.59999999999997,79.6 296.2,78.2 296.2,76.1 L296.4,64.2 C296.79999999999995,62.0 298.09999999999997,60.4 299.59999999999997,59.6 Z" fill="#d4d4d4"/>
<ellipse cx="301.09999999999997" cy="70.6" rx="3.6" ry="8.8" fill="#f2f2f2"/>
<g clip-path="url(#c34)"><g filter="url(#bl)">
<ellipse cx="301.40" cy="69.10" rx="3.9" ry="5.6" fill="#9468ff"/>
<ellipse cx="301.40" cy="69.10" rx="3.2" ry="4.6" fill="#2020ff"/>
<ellipse cx="299.10" cy="68.60" rx="1.3" ry="1.0" fill="#00dcff"/>
<ellipse cx="301.10" cy="80.60" rx="1.5" ry="1.0" fill="#2020ff"/>
<ellipse cx="301.10" cy="61.10" rx="1.5" ry="1.2" fill="#9468ff"/>
</g></g>
<line x1="312.0" y1="56.2" x2="312.0" y2="57.800000000000004" stroke="#a8a8a8" stroke-width="0.8"/>
<clipPath id="c35"><path d="M310.8,57.0 L313.2,57.0 L313.5,59.6 C315.0,60.4 316.3,62.0 316.7,64.2 L316.9,76.1 C316.9,78.2 316.5,79.6 315.8,80.8 L308.2,80.8 C307.5,79.6 307.1,78.2 307.1,76.1 L307.3,64.2 C307.7,62.0 309.0,60.4 310.5,59.6 Z"/></clipPath>
<path d="M310.8,57.0 L313.2,57.0 L313.5,59.6 C315.0,60.4 316.3,62.0 316.7,64.2 L316.9,76.1 C316.9,78.2 316.5,79.6 315.8,80.8 L308.2,80.8 C307.5,79.6 307.1,78.2 307.1,76.1 L307.3,64.2 C307.7,62.0 309.0,60.4 310.5,59.6 Z" fill="#d4d4d4"/>
<ellipse cx="312.0" cy="70.6" rx="3.6" ry="8.8" fill="#f2f2f2"/>
<g clip-path="url(#c35)"><g filter="url(#bl)">
<ellipse cx="312.30" cy="69.10" rx="3.9" ry="5.6" fill="#9468ff"/>
<ellipse cx="312.30" cy="69.10" rx="3.2" ry="4.6" fill="#2020ff"/>
<ellipse cx="310.00" cy="68.60" rx="1.3" ry="1.0" fill="#00dcff"/>
<ellipse cx="312.00" cy="80.60" rx="1.5" ry="1.0" fill="#2020ff"/>
<ellipse cx="312.00" cy="61.10" rx="1.5" ry="1.2" fill="#9468ff"/>
</g></g>
</g>
<rect x="321.0" y="56.0" width="57.0" height="26.2" fill="#151515"/>
<g filter="url(#bl2)">
<rect x="321.60" y="56.5" width="0.9" height="25.2" fill="#3c3c3c"/><rect x="327.20" y="56.5" width="0.9" height="25.2" fill="#3c3c3c"/><rect x="332.80" y="56.5" width="0.9" height="25.2" fill="#3c3c3c"/><rect x="338.40" y="56.5" width="0.9" height="25.2" fill="#3c3c3c"/><rect x="344.00" y="56.5" width="0.9" height="25.2" fill="#3c3c3c"/><rect x="349.60" y="56.5" width="0.9" height="25.2" fill="#3c3c3c"/><rect x="355.20" y="56.5" width="0.9" height="25.2" fill="#3c3c3c"/><rect x="360.80" y="56.5" width="0.9" height="25.2" fill="#3c3c3c"/><rect x="366.40" y="56.5" width="0.9" height="25.2" fill="#3c3c3c"/><rect x="372.00" y="56.5" width="0.9" height="25.2" fill="#3c3c3c"/>
<line x1="327.3" y1="56.2" x2="327.3" y2="57.800000000000004" stroke="#a8a8a8" stroke-width="0.8"/>
<clipPath id="c36"><path d="M326.1,57.0 L328.5,57.0 L328.8,59.6 C330.3,60.4 331.6,62.0 332.0,64.2 L332.2,76.1 C332.2,78.2 331.8,79.6 331.1,80.8 L323.5,80.8 C322.8,79.6 322.40000000000003,78.2 322.40000000000003,76.1 L322.6,64.2 C323.0,62.0 324.3,60.4 325.8,59.6 Z"/></clipPath>
<path d="M326.1,57.0 L328.5,57.0 L328.8,59.6 C330.3,60.4 331.6,62.0 332.0,64.2 L332.2,76.1 C332.2,78.2 331.8,79.6 331.1,80.8 L323.5,80.8 C322.8,79.6 322.40000000000003,78.2 322.40000000000003,76.1 L322.6,64.2 C323.0,62.0 324.3,60.4 325.8,59.6 Z" fill="#d4d4d4"/>
<ellipse cx="327.3" cy="70.6" rx="3.6" ry="8.8" fill="#f2f2f2"/>
<g clip-path="url(#c36)"><g filter="url(#bl)">
<ellipse cx="327.30" cy="69.60" rx="5.2" ry="12.5" fill="#2020ff"/>
<ellipse cx="327.30" cy="69.10" rx="4.5" ry="10.8" fill="#00dcff"/>
<ellipse cx="327.30" cy="69.40" rx="4.1" ry="9.8" fill="#2cff40"/>
<ellipse cx="327.30" cy="61.20" rx="1.7" ry="2.3" fill="#00dcff"/>
<ellipse cx="327.30" cy="61.00" rx="0.9" ry="1.2" fill="#2cff40"/>
<ellipse cx="326.90" cy="71.10" rx="3.9" ry="7.0" fill="#ff0000"/>
<ellipse cx="323.50" cy="77.60" rx="1.0" ry="1.4" fill="#e8ff20"/>
<ellipse cx="327.30" cy="81.00" rx="2.5" ry="1.0" fill="#00dcff"/>
</g></g>
<line x1="338.5" y1="56.2" x2="338.5" y2="57.800000000000004" stroke="#a8a8a8" stroke-width="0.8"/>
<clipPath id="c37"><path d="M337.3,57.0 L339.7,57.0 L340.0,59.6 C341.5,60.4 342.8,62.0 343.2,64.2 L343.4,76.1 C343.4,78.2 343.0,79.6 342.3,80.8 L334.7,80.8 C334.0,79.6 333.6,78.2 333.6,76.1 L333.8,64.2 C334.2,62.0 335.5,60.4 337.0,59.6 Z"/></clipPath>
<path d="M337.3,57.0 L339.7,57.0 L340.0,59.6 C341.5,60.4 342.8,62.0 343.2,64.2 L343.4,76.1 C343.4,78.2 343.0,79.6 342.3,80.8 L334.7,80.8 C334.0,79.6 333.6,78.2 333.6,76.1 L333.8,64.2 C334.2,62.0 335.5,60.4 337.0,59.6 Z" fill="#d4d4d4"/>
<ellipse cx="338.5" cy="70.6" rx="3.6" ry="8.8" fill="#f2f2f2"/>
<g clip-path="url(#c37)"><g filter="url(#bl)">
<ellipse cx="338.50" cy="69.60" rx="5.2" ry="12.5" fill="#2020ff"/>
<ellipse cx="338.50" cy="69.10" rx="4.5" ry="10.8" fill="#00dcff"/>
<ellipse cx="338.50" cy="69.40" rx="4.1" ry="9.8" fill="#2cff40"/>
<ellipse cx="338.50" cy="61.20" rx="1.7" ry="2.3" fill="#00dcff"/>
<ellipse cx="338.50" cy="61.00" rx="0.9" ry="1.2" fill="#2cff40"/>
<ellipse cx="338.10" cy="71.10" rx="3.9" ry="7.0" fill="#ff0000"/>
<ellipse cx="334.70" cy="77.60" rx="1.0" ry="1.4" fill="#e8ff20"/>
<ellipse cx="338.50" cy="81.00" rx="2.5" ry="1.0" fill="#00dcff"/>
</g></g>
<line x1="349.2" y1="56.2" x2="349.2" y2="57.800000000000004" stroke="#a8a8a8" stroke-width="0.8"/>
<clipPath id="c38"><path d="M348.0,57.0 L350.4,57.0 L350.7,59.6 C352.2,60.4 353.5,62.0 353.9,64.2 L354.09999999999997,76.1 C354.09999999999997,78.2 353.7,79.6 353.0,80.8 L345.4,80.8 C344.7,79.6 344.3,78.2 344.3,76.1 L344.5,64.2 C344.9,62.0 346.2,60.4 347.7,59.6 Z"/></clipPath>
<path d="M348.0,57.0 L350.4,57.0 L350.7,59.6 C352.2,60.4 353.5,62.0 353.9,64.2 L354.09999999999997,76.1 C354.09999999999997,78.2 353.7,79.6 353.0,80.8 L345.4,80.8 C344.7,79.6 344.3,78.2 344.3,76.1 L344.5,64.2 C344.9,62.0 346.2,60.4 347.7,59.6 Z" fill="#d4d4d4"/>
<ellipse cx="349.2" cy="70.6" rx="3.6" ry="8.8" fill="#f2f2f2"/>
<g clip-path="url(#c38)"><g filter="url(#bl)">
<polygon points="349.20,56.88 352.17,60.59 354.39,65.89 354.18,71.19 352.27,76.49 350.58,82.11 347.82,82.11 346.13,76.49 344.22,71.19 344.01,65.89 346.23,60.59" fill="#9468ff"/>
<polygon points="349.20,58.80 351.72,61.95 353.61,66.45 353.43,70.95 351.81,75.45 350.37,80.22 348.03,80.22 346.59,75.45 344.97,70.95 344.79,66.45 346.68,61.95" fill="#2020ff"/>
<ellipse cx="345.00" cy="78.10" rx="1.1" ry="2.2" fill="#f0eaff"/>
<ellipse cx="353.40" cy="78.10" rx="1.1" ry="2.2" fill="#f0eaff"/>
<ellipse cx="345.40" cy="81.20" rx="1.0" ry="0.8" fill="#2020ff"/>
<ellipse cx="353.00" cy="81.20" rx="1.0" ry="0.8" fill="#2020ff"/>
<ellipse cx="349.20" cy="68.10" rx="4.3" ry="6.5" fill="#00dcff"/>
<ellipse cx="349.20" cy="68.60" rx="3.8" ry="4.5" fill="#2cff40"/>
<ellipse cx="349.20" cy="68.60" rx="3.6" ry="1.8" fill="#ff0000"/>
<ellipse cx="349.20" cy="61.10" rx="1.6" ry="2" fill="#00dcff"/>
<ellipse cx="349.20" cy="75.60" rx="2" ry="2.5" fill="#2cff40"/>
</g></g>
<line x1="360.3" y1="56.2" x2="360.3" y2="57.800000000000004" stroke="#a8a8a8" stroke-width="0.8"/>
<clipPath id="c39"><path d="M359.1,57.0 L361.5,57.0 L361.8,59.6 C363.3,60.4 364.6,62.0 365.0,64.2 L365.2,76.1 C365.2,78.2 364.8,79.6 364.1,80.8 L356.5,80.8 C355.8,79.6 355.40000000000003,78.2 355.40000000000003,76.1 L355.6,64.2 C356.0,62.0 357.3,60.4 358.8,59.6 Z"/></clipPath>
<path d="M359.1,57.0 L361.5,57.0 L361.8,59.6 C363.3,60.4 364.6,62.0 365.0,64.2 L365.2,76.1 C365.2,78.2 364.8,79.6 364.1,80.8 L356.5,80.8 C355.8,79.6 355.40000000000003,78.2 355.40000000000003,76.1 L355.6,64.2 C356.0,62.0 357.3,60.4 358.8,59.6 Z" fill="#d4d4d4"/>
<ellipse cx="360.3" cy="70.6" rx="3.6" ry="8.8" fill="#f2f2f2"/>
<g clip-path="url(#c39)"><g filter="url(#bl)">
<polygon points="360.30,56.88 363.27,60.59 365.49,65.89 365.28,71.19 363.37,76.49 361.68,82.11 358.92,82.11 357.23,76.49 355.32,71.19 355.11,65.89 357.33,60.59" fill="#9468ff"/>
<polygon points="360.30,58.80 362.82,61.95 364.71,66.45 364.53,70.95 362.91,75.45 361.47,80.22 359.13,80.22 357.69,75.45 356.07,70.95 355.89,66.45 357.78,61.95" fill="#2020ff"/>
<ellipse cx="356.10" cy="78.10" rx="1.1" ry="2.2" fill="#f0eaff"/>
<ellipse cx="364.50" cy="78.10" rx="1.1" ry="2.2" fill="#f0eaff"/>
<ellipse cx="356.50" cy="81.20" rx="1.0" ry="0.8" fill="#2020ff"/>
<ellipse cx="364.10" cy="81.20" rx="1.0" ry="0.8" fill="#2020ff"/>
<ellipse cx="360.30" cy="67.10" rx="3.7" ry="4.8" fill="#00dcff"/>
<ellipse cx="360.30" cy="67.60" rx="2.7" ry="3.4" fill="#2cff40"/>
<ellipse cx="359.20" cy="68.10" rx="1.5" ry="1.3" fill="#ff0000"/>
<ellipse cx="360.30" cy="60.80" rx="1.2" ry="1.6" fill="#00dcff"/>
</g></g>
<line x1="371.6" y1="56.2" x2="371.6" y2="57.800000000000004" stroke="#a8a8a8" stroke-width="0.8"/>
<clipPath id="c40"><path d="M370.40000000000003,57.0 L372.8,57.0 L373.1,59.6 C374.6,60.4 375.90000000000003,62.0 376.3,64.2 L376.5,76.1 C376.5,78.2 376.1,79.6 375.40000000000003,80.8 L367.8,80.8 C367.1,79.6 366.70000000000005,78.2 366.70000000000005,76.1 L366.90000000000003,64.2 C367.3,62.0 368.6,60.4 370.1,59.6 Z"/></clipPath>
<path d="M370.40000000000003,57.0 L372.8,57.0 L373.1,59.6 C374.6,60.4 375.90000000000003,62.0 376.3,64.2 L376.5,76.1 C376.5,78.2 376.1,79.6 375.40000000000003,80.8 L367.8,80.8 C367.1,79.6 366.70000000000005,78.2 366.70000000000005,76.1 L366.90000000000003,64.2 C367.3,62.0 368.6,60.4 370.1,59.6 Z" fill="#d4d4d4"/>
<ellipse cx="371.6" cy="70.6" rx="3.6" ry="8.8" fill="#f2f2f2"/>
<g clip-path="url(#c40)"><g filter="url(#bl)">
<ellipse cx="371.60" cy="69.60" rx="4.4" ry="9.5" fill="#9468ff"/>
<ellipse cx="371.60" cy="65.60" rx="2.2" ry="3" fill="#2020ff"/>
<ellipse cx="371.10" cy="70.60" rx="1.1" ry="1.1" fill="#ff0000"/>
<ellipse cx="373.10" cy="74.60" rx="1.2" ry="1.5" fill="#f0eaff"/>
</g></g>
</g>
<rect x="386.2" y="56.0" width="57.0" height="26.2" fill="#151515"/>
<g filter="url(#bl2)">
<rect x="386.80" y="56.5" width="0.9" height="25.2" fill="#3c3c3c"/><rect x="392.40" y="56.5" width="0.9" height="25.2" fill="#3c3c3c"/><rect x="398.00" y="56.5" width="0.9" height="25.2" fill="#3c3c3c"/><rect x="403.60" y="56.5" width="0.9" height="25.2" fill="#3c3c3c"/><rect x="409.20" y="56.5" width="0.9" height="25.2" fill="#3c3c3c"/><rect x="414.80" y="56.5" width="0.9" height="25.2" fill="#3c3c3c"/><rect x="420.40" y="56.5" width="0.9" height="25.2" fill="#3c3c3c"/><rect x="426.00" y="56.5" width="0.9" height="25.2" fill="#3c3c3c"/><rect x="431.60" y="56.5" width="0.9" height="25.2" fill="#3c3c3c"/><rect x="437.20" y="56.5" width="0.9" height="25.2" fill="#3c3c3c"/>
<line x1="394.2" y1="56.2" x2="394.2" y2="57.800000000000004" stroke="#a8a8a8" stroke-width="0.8"/>
<clipPath id="c41"><path d="M393.0,57.0 L395.4,57.0 L395.7,59.6 C397.2,60.4 398.5,62.0 398.9,64.2 L399.09999999999997,76.1 C399.09999999999997,78.2 398.7,79.6 398.0,80.8 L390.4,80.8 C389.7,79.6 389.3,78.2 389.3,76.1 L389.5,64.2 C389.9,62.0 391.2,60.4 392.7,59.6 Z"/></clipPath>
<path d="M393.0,57.0 L395.4,57.0 L395.7,59.6 C397.2,60.4 398.5,62.0 398.9,64.2 L399.09999999999997,76.1 C399.09999999999997,78.2 398.7,79.6 398.0,80.8 L390.4,80.8 C389.7,79.6 389.3,78.2 389.3,76.1 L389.5,64.2 C389.9,62.0 391.2,60.4 392.7,59.6 Z" fill="#d4d4d4"/>
<ellipse cx="394.2" cy="70.6" rx="3.6" ry="8.8" fill="#f2f2f2"/>
<g clip-path="url(#c41)"><g filter="url(#bl)">
<ellipse cx="393.20" cy="70.10" rx="2.4" ry="2.0" fill="#2020ff"/>
<ellipse cx="393.20" cy="70.10" rx="1.3" ry="1.1" fill="#00dcff"/>
<ellipse cx="396.70" cy="66.60" rx="1" ry="1.5" fill="#2020ff"/>
<ellipse cx="394.20" cy="81.00" rx="1.5" ry="1.0" fill="#2020ff"/>
</g></g>
<line x1="405.3" y1="56.2" x2="405.3" y2="57.800000000000004" stroke="#a8a8a8" stroke-width="0.8"/>
<clipPath id="c42"><path d="M404.1,57.0 L406.5,57.0 L406.8,59.6 C408.3,60.4 409.6,62.0 410.0,64.2 L410.2,76.1 C410.2,78.2 409.8,79.6 409.1,80.8 L401.5,80.8 C400.8,79.6 400.40000000000003,78.2 400.40000000000003,76.1 L400.6,64.2 C401.0,62.0 402.3,60.4 403.8,59.6 Z"/></clipPath>
<path d="M404.1,57.0 L406.5,57.0 L406.8,59.6 C408.3,60.4 409.6,62.0 410.0,64.2 L410.2,76.1 C410.2,78.2 409.8,79.6 409.1,80.8 L401.5,80.8 C400.8,79.6 400.40000000000003,78.2 400.40000000000003,76.1 L400.6,64.2 C401.0,62.0 402.3,60.4 403.8,59.6 Z" fill="#d4d4d4"/>
<ellipse cx="405.3" cy="70.6" rx="3.6" ry="8.8" fill="#f2f2f2"/>
<g clip-path="url(#c42)"><g filter="url(#bl)">
<ellipse cx="404.30" cy="70.10" rx="2.4" ry="2.0" fill="#2020ff"/>
<ellipse cx="404.30" cy="70.10" rx="1.3" ry="1.1" fill="#00dcff"/>
<ellipse cx="407.80" cy="66.60" rx="1" ry="1.5" fill="#2020ff"/>
<ellipse cx="405.30" cy="81.00" rx="1.5" ry="1.0" fill="#2020ff"/>
</g></g>
<line x1="416.3" y1="56.2" x2="416.3" y2="57.800000000000004" stroke="#a8a8a8" stroke-width="0.8"/>
<clipPath id="c43"><path d="M415.1,57.0 L417.5,57.0 L417.8,59.6 C419.3,60.4 420.6,62.0 421.0,64.2 L421.2,76.1 C421.2,78.2 420.8,79.6 420.1,80.8 L412.5,80.8 C411.8,79.6 411.40000000000003,78.2 411.40000000000003,76.1 L411.6,64.2 C412.0,62.0 413.3,60.4 414.8,59.6 Z"/></clipPath>
<path d="M415.1,57.0 L417.5,57.0 L417.8,59.6 C419.3,60.4 420.6,62.0 421.0,64.2 L421.2,76.1 C421.2,78.2 420.8,79.6 420.1,80.8 L412.5,80.8 C411.8,79.6 411.40000000000003,78.2 411.40000000000003,76.1 L411.6,64.2 C412.0,62.0 413.3,60.4 414.8,59.6 Z" fill="#d4d4d4"/>
<ellipse cx="416.3" cy="70.6" rx="3.6" ry="8.8" fill="#f2f2f2"/>
<g clip-path="url(#c43)"><g filter="url(#bl)">
<ellipse cx="415.30" cy="70.10" rx="2.4" ry="2.0" fill="#2020ff"/>
<ellipse cx="415.30" cy="70.10" rx="1.3" ry="1.1" fill="#00dcff"/>
<ellipse cx="418.80" cy="66.60" rx="1" ry="1.5" fill="#2020ff"/>
<ellipse cx="416.30" cy="81.00" rx="1.5" ry="1.0" fill="#2020ff"/>
</g></g>
<line x1="427.3" y1="56.2" x2="427.3" y2="57.800000000000004" stroke="#a8a8a8" stroke-width="0.8"/>
<clipPath id="c44"><path d="M426.1,57.0 L428.5,57.0 L428.8,59.6 C430.3,60.4 431.6,62.0 432.0,64.2 L432.2,76.1 C432.2,78.2 431.8,79.6 431.1,80.8 L423.5,80.8 C422.8,79.6 422.40000000000003,78.2 422.40000000000003,76.1 L422.6,64.2 C423.0,62.0 424.3,60.4 425.8,59.6 Z"/></clipPath>
<path d="M426.1,57.0 L428.5,57.0 L428.8,59.6 C430.3,60.4 431.6,62.0 432.0,64.2 L432.2,76.1 C432.2,78.2 431.8,79.6 431.1,80.8 L423.5,80.8 C422.8,79.6 422.40000000000003,78.2 422.40000000000003,76.1 L422.6,64.2 C423.0,62.0 424.3,60.4 425.8,59.6 Z" fill="#d4d4d4"/>
<ellipse cx="427.3" cy="70.6" rx="3.6" ry="8.8" fill="#f2f2f2"/>
<g clip-path="url(#c44)"><g filter="url(#bl)">
<ellipse cx="426.30" cy="70.10" rx="2.4" ry="2.0" fill="#2020ff"/>
<ellipse cx="426.30" cy="70.10" rx="1.3" ry="1.1" fill="#00dcff"/>
<ellipse cx="429.80" cy="66.60" rx="1" ry="1.5" fill="#2020ff"/>
<ellipse cx="427.30" cy="81.00" rx="1.5" ry="1.0" fill="#2020ff"/>
</g></g>
<line x1="438.0" y1="56.2" x2="438.0" y2="57.800000000000004" stroke="#a8a8a8" stroke-width="0.8"/>
<clipPath id="c45"><path d="M436.8,57.0 L439.2,57.0 L439.5,59.6 C441.0,60.4 442.3,62.0 442.7,64.2 L442.9,76.1 C442.9,78.2 442.5,79.6 441.8,80.8 L434.2,80.8 C433.5,79.6 433.1,78.2 433.1,76.1 L433.3,64.2 C433.7,62.0 435.0,60.4 436.5,59.6 Z"/></clipPath>
<path d="M436.8,57.0 L439.2,57.0 L439.5,59.6 C441.0,60.4 442.3,62.0 442.7,64.2 L442.9,76.1 C442.9,78.2 442.5,79.6 441.8,80.8 L434.2,80.8 C433.5,79.6 433.1,78.2 433.1,76.1 L433.3,64.2 C433.7,62.0 435.0,60.4 436.5,59.6 Z" fill="#d4d4d4"/>
<ellipse cx="438.0" cy="70.6" rx="3.6" ry="8.8" fill="#f2f2f2"/>
</g>
<rect x="445.2" y="56.0" width="57.0" height="26.2" fill="#151515"/>
<g filter="url(#bl2)">
<rect x="445.80" y="56.5" width="0.9" height="25.2" fill="#3c3c3c"/><rect x="451.40" y="56.5" width="0.9" height="25.2" fill="#3c3c3c"/><rect x="457.00" y="56.5" width="0.9" height="25.2" fill="#3c3c3c"/><rect x="462.60" y="56.5" width="0.9" height="25.2" fill="#3c3c3c"/><rect x="468.20" y="56.5" width="0.9" height="25.2" fill="#3c3c3c"/><rect x="473.80" y="56.5" width="0.9" height="25.2" fill="#3c3c3c"/><rect x="479.40" y="56.5" width="0.9" height="25.2" fill="#3c3c3c"/><rect x="485.00" y="56.5" width="0.9" height="25.2" fill="#3c3c3c"/><rect x="490.60" y="56.5" width="0.9" height="25.2" fill="#3c3c3c"/><rect x="496.20" y="56.5" width="0.9" height="25.2" fill="#3c3c3c"/>
<line x1="450.5" y1="56.2" x2="450.5" y2="57.800000000000004" stroke="#a8a8a8" stroke-width="0.8"/>
<clipPath id="c46"><path d="M449.3,57.0 L451.7,57.0 L452.0,59.6 C453.5,60.4 454.8,62.0 455.2,64.2 L455.4,76.1 C455.4,78.2 455.0,79.6 454.3,80.8 L446.7,80.8 C446.0,79.6 445.6,78.2 445.6,76.1 L445.8,64.2 C446.2,62.0 447.5,60.4 449.0,59.6 Z"/></clipPath>
<path d="M449.3,57.0 L451.7,57.0 L452.0,59.6 C453.5,60.4 454.8,62.0 455.2,64.2 L455.4,76.1 C455.4,78.2 455.0,79.6 454.3,80.8 L446.7,80.8 C446.0,79.6 445.6,78.2 445.6,76.1 L445.8,64.2 C446.2,62.0 447.5,60.4 449.0,59.6 Z" fill="#d4d4d4"/>
<ellipse cx="450.5" cy="70.6" rx="3.6" ry="8.8" fill="#f2f2f2"/>
<g clip-path="url(#c46)"><g filter="url(#bl)">
<ellipse cx="453.30" cy="69.60" rx="1.4" ry="5" fill="#2020ff"/>
<ellipse cx="453.30" cy="69.60" rx="0.6" ry="3" fill="#9468ff"/>
</g></g>
<line x1="461.3" y1="56.2" x2="461.3" y2="57.800000000000004" stroke="#a8a8a8" stroke-width="0.8"/>
<clipPath id="c47"><path d="M460.1,57.0 L462.5,57.0 L462.8,59.6 C464.3,60.4 465.6,62.0 466.0,64.2 L466.2,76.1 C466.2,78.2 465.8,79.6 465.1,80.8 L457.5,80.8 C456.8,79.6 456.40000000000003,78.2 456.40000000000003,76.1 L456.6,64.2 C457.0,62.0 458.3,60.4 459.8,59.6 Z"/></clipPath>
<path d="M460.1,57.0 L462.5,57.0 L462.8,59.6 C464.3,60.4 465.6,62.0 466.0,64.2 L466.2,76.1 C466.2,78.2 465.8,79.6 465.1,80.8 L457.5,80.8 C456.8,79.6 456.40000000000003,78.2 456.40000000000003,76.1 L456.6,64.2 C457.0,62.0 458.3,60.4 459.8,59.6 Z" fill="#d4d4d4"/>
<ellipse cx="461.3" cy="70.6" rx="3.6" ry="8.8" fill="#f2f2f2"/>
<g clip-path="url(#c47)"><g filter="url(#bl)">
<ellipse cx="461.30" cy="69.10" rx="5.2" ry="12.5" fill="#00dcff"/>
<ellipse cx="461.30" cy="69.60" rx="5.1" ry="12" fill="#2cff40"/>
<ellipse cx="461.30" cy="70.10" rx="4.9" ry="10.8" fill="#ff0000"/>
<ellipse cx="461.30" cy="60.60" rx="1.6" ry="2.6" fill="#ff0000"/>
<ellipse cx="458.80" cy="74.60" rx="1.0" ry="1.0" fill="#e8ff20"/>
<ellipse cx="463.50" cy="65.60" rx="0.8" ry="0.8" fill="#2cff40"/>
<ellipse cx="457.10" cy="77.60" rx="1.0" ry="1.4" fill="#2cff40"/>
<ellipse cx="461.30" cy="80.60" rx="3.5" ry="1.2" fill="#ff0000"/>
</g></g>
<line x1="472.5" y1="56.2" x2="472.5" y2="57.800000000000004" stroke="#a8a8a8" stroke-width="0.8"/>
<clipPath id="c48"><path d="M471.3,57.0 L473.7,57.0 L474.0,59.6 C475.5,60.4 476.8,62.0 477.2,64.2 L477.4,76.1 C477.4,78.2 477.0,79.6 476.3,80.8 L468.7,80.8 C468.0,79.6 467.6,78.2 467.6,76.1 L467.8,64.2 C468.2,62.0 469.5,60.4 471.0,59.6 Z"/></clipPath>
<path d="M471.3,57.0 L473.7,57.0 L474.0,59.6 C475.5,60.4 476.8,62.0 477.2,64.2 L477.4,76.1 C477.4,78.2 477.0,79.6 476.3,80.8 L468.7,80.8 C468.0,79.6 467.6,78.2 467.6,76.1 L467.8,64.2 C468.2,62.0 469.5,60.4 471.0,59.6 Z" fill="#d4d4d4"/>
<ellipse cx="472.5" cy="70.6" rx="3.6" ry="8.8" fill="#f2f2f2"/>
<g clip-path="url(#c48)"><g filter="url(#bl)">
<ellipse cx="472.50" cy="69.10" rx="4.4" ry="3.4" fill="#2020ff"/>
<ellipse cx="471.00" cy="69.60" rx="1.4" ry="1.3" fill="#00dcff"/>
<ellipse cx="472.50" cy="76.10" rx="2" ry="1.5" fill="#2020ff"/>
<ellipse cx="472.50" cy="81.00" rx="2.5" ry="1.0" fill="#00dcff"/>
</g></g>
<line x1="483.5" y1="56.2" x2="483.5" y2="57.800000000000004" stroke="#a8a8a8" stroke-width="0.8"/>
<clipPath id="c49"><path d="M482.3,57.0 L484.7,57.0 L485.0,59.6 C486.5,60.4 487.8,62.0 488.2,64.2 L488.4,76.1 C488.4,78.2 488.0,79.6 487.3,80.8 L479.7,80.8 C479.0,79.6 478.6,78.2 478.6,76.1 L478.8,64.2 C479.2,62.0 480.5,60.4 482.0,59.6 Z"/></clipPath>
<path d="M482.3,57.0 L484.7,57.0 L485.0,59.6 C486.5,60.4 487.8,62.0 488.2,64.2 L488.4,76.1 C488.4,78.2 488.0,79.6 487.3,80.8 L479.7,80.8 C479.0,79.6 478.6,78.2 478.6,76.1 L478.8,64.2 C479.2,62.0 480.5,60.4 482.0,59.6 Z" fill="#d4d4d4"/>
<ellipse cx="483.5" cy="70.6" rx="3.6" ry="8.8" fill="#f2f2f2"/>
<g clip-path="url(#c49)"><g filter="url(#bl)">
<ellipse cx="483.50" cy="67.60" rx="4.2" ry="6" fill="#2020ff"/>
<ellipse cx="482.50" cy="69.60" rx="2.6" ry="2.4" fill="#00dcff"/>
<ellipse cx="482.50" cy="69.60" rx="1.8" ry="1.6" fill="#2cff40"/>
<ellipse cx="482.30" cy="69.60" rx="1.1" ry="1.0" fill="#ff0000"/>
<ellipse cx="483.50" cy="75.60" rx="3" ry="2" fill="#2020ff"/>
<ellipse cx="480.00" cy="77.60" rx="1.2" ry="2" fill="#f0eaff"/>
<ellipse cx="483.50" cy="61.60" rx="1.5" ry="2.5" fill="#2020ff"/>
<ellipse cx="483.50" cy="59.60" rx="1" ry="1.2" fill="#00dcff"/>
</g></g>
<line x1="495.09999999999997" y1="56.2" x2="495.09999999999997" y2="57.800000000000004" stroke="#a8a8a8" stroke-width="0.8"/>
<clipPath id="c50"><path d="M493.9,57.0 L496.29999999999995,57.0 L496.59999999999997,59.6 C498.09999999999997,60.4 499.4,62.0 499.79999999999995,64.2 L499.99999999999994,76.1 C499.99999999999994,78.2 499.59999999999997,79.6 498.9,80.8 L491.29999999999995,80.8 C490.59999999999997,79.6 490.2,78.2 490.2,76.1 L490.4,64.2 C490.79999999999995,62.0 492.09999999999997,60.4 493.59999999999997,59.6 Z"/></clipPath>
<path d="M493.9,57.0 L496.29999999999995,57.0 L496.59999999999997,59.6 C498.09999999999997,60.4 499.4,62.0 499.79999999999995,64.2 L499.99999999999994,76.1 C499.99999999999994,78.2 499.59999999999997,79.6 498.9,80.8 L491.29999999999995,80.8 C490.59999999999997,79.6 490.2,78.2 490.2,76.1 L490.4,64.2 C490.79999999999995,62.0 492.09999999999997,60.4 493.59999999999997,59.6 Z" fill="#d4d4d4"/>
<ellipse cx="495.09999999999997" cy="70.6" rx="3.6" ry="8.8" fill="#f2f2f2"/>
<g clip-path="url(#c50)"><g filter="url(#bl)">
<ellipse cx="493.60" cy="68.60" rx="1.3" ry="1.1" fill="#2020ff"/>
<ellipse cx="496.60" cy="71.60" rx="1.0" ry="1.0" fill="#9468ff"/>
<ellipse cx="495.10" cy="80.80" rx="1.5" ry="1.0" fill="#2020ff"/>
</g></g>
</g>
<rect x="203.3" y="84.0" width="57.0" height="26.2" fill="#151515"/>
<g filter="url(#bl2)">
<rect x="203.90" y="84.5" width="0.9" height="25.2" fill="#3c3c3c"/><rect x="209.50" y="84.5" width="0.9" height="25.2" fill="#3c3c3c"/><rect x="215.10" y="84.5" width="0.9" height="25.2" fill="#3c3c3c"/><rect x="220.70" y="84.5" width="0.9" height="25.2" fill="#3c3c3c"/><rect x="226.30" y="84.5" width="0.9" height="25.2" fill="#3c3c3c"/><rect x="231.90" y="84.5" width="0.9" height="25.2" fill="#3c3c3c"/><rect x="237.50" y="84.5" width="0.9" height="25.2" fill="#3c3c3c"/><rect x="243.10" y="84.5" width="0.9" height="25.2" fill="#3c3c3c"/><rect x="248.70" y="84.5" width="0.9" height="25.2" fill="#3c3c3c"/><rect x="254.30" y="84.5" width="0.9" height="25.2" fill="#3c3c3c"/>
<line x1="208.8" y1="84.2" x2="208.8" y2="85.8" stroke="#a8a8a8" stroke-width="0.8"/>
<clipPath id="c51"><path d="M207.60000000000002,85.0 L210.0,85.0 L210.3,87.6 C211.8,88.39999999999999 213.10000000000002,90.0 213.5,92.19999999999999 L213.70000000000002,104.1 C213.70000000000002,106.19999999999999 213.3,107.6 212.60000000000002,108.8 L205.0,108.8 C204.3,107.6 203.9,106.19999999999999 203.9,104.1 L204.10000000000002,92.19999999999999 C204.5,90.0 205.8,88.39999999999999 207.3,87.6 Z"/></clipPath>
<path d="M207.60000000000002,85.0 L210.0,85.0 L210.3,87.6 C211.8,88.39999999999999 213.10000000000002,90.0 213.5,92.19999999999999 L213.70000000000002,104.1 C213.70000000000002,106.19999999999999 213.3,107.6 212.60000000000002,108.8 L205.0,108.8 C204.3,107.6 203.9,106.19999999999999 203.9,104.1 L204.10000000000002,92.19999999999999 C204.5,90.0 205.8,88.39999999999999 207.3,87.6 Z" fill="#d4d4d4"/>
<ellipse cx="208.8" cy="98.6" rx="3.6" ry="8.8" fill="#f2f2f2"/>
<g clip-path="url(#c51)"><g filter="url(#bl)">
<polygon points="208.80,84.88 211.77,88.59 213.99,93.89 213.78,99.19 211.87,104.49 210.18,110.11 207.42,110.11 205.73,104.49 203.82,99.19 203.61,93.89 205.83,88.59" fill="#9468ff"/>
<polygon points="208.80,86.80 211.32,89.95 213.21,94.45 213.03,98.95 211.41,103.45 209.97,108.22 207.63,108.22 206.19,103.45 204.57,98.95 204.39,94.45 206.28,89.95" fill="#2020ff"/>
<ellipse cx="204.60" cy="106.10" rx="1.1" ry="2.2" fill="#f0eaff"/>
<ellipse cx="213.00" cy="106.10" rx="1.1" ry="2.2" fill="#f0eaff"/>
<ellipse cx="205.00" cy="109.20" rx="1.0" ry="0.8" fill="#2020ff"/>
<ellipse cx="212.60" cy="109.20" rx="1.0" ry="0.8" fill="#2020ff"/>
<ellipse cx="208.80" cy="96.60" rx="3.7" ry="3.0" fill="#00dcff"/>
<ellipse cx="208.80" cy="96.60" rx="2.6" ry="2.0" fill="#2cff40"/>
<ellipse cx="207.50" cy="97.10" rx="1.0" ry="0.9" fill="#ff0000"/>
</g></g>
<line x1="219.9" y1="84.2" x2="219.9" y2="85.8" stroke="#a8a8a8" stroke-width="0.8"/>
<clipPath id="c52"><path d="M218.70000000000002,85.0 L221.1,85.0 L221.4,87.6 C222.9,88.39999999999999 224.20000000000002,90.0 224.6,92.19999999999999 L224.8,104.1 C224.8,106.19999999999999 224.4,107.6 223.70000000000002,108.8 L216.1,108.8 C215.4,107.6 215.0,106.19999999999999 215.0,104.1 L215.20000000000002,92.19999999999999 C215.6,90.0 216.9,88.39999999999999 218.4,87.6 Z"/></clipPath>
<path d="M218.70000000000002,85.0 L221.1,85.0 L221.4,87.6 C222.9,88.39999999999999 224.20000000000002,90.0 224.6,92.19999999999999 L224.8,104.1 C224.8,106.19999999999999 224.4,107.6 223.70000000000002,108.8 L216.1,108.8 C215.4,107.6 215.0,106.19999999999999 215.0,104.1 L215.20000000000002,92.19999999999999 C215.6,90.0 216.9,88.39999999999999 218.4,87.6 Z" fill="#d4d4d4"/>
<ellipse cx="219.9" cy="98.6" rx="3.6" ry="8.8" fill="#f2f2f2"/>
<g clip-path="url(#c52)"><g filter="url(#bl)">
<polygon points="219.90,84.88 222.87,88.59 225.09,93.89 224.88,99.19 222.97,104.49 221.28,110.11 218.52,110.11 216.83,104.49 214.92,99.19 214.71,93.89 216.93,88.59" fill="#9468ff"/>
<polygon points="219.90,86.80 222.42,89.95 224.31,94.45 224.13,98.95 222.51,103.45 221.07,108.22 218.73,108.22 217.29,103.45 215.67,98.95 215.49,94.45 217.38,89.95" fill="#2020ff"/>
<ellipse cx="215.70" cy="106.10" rx="1.1" ry="2.2" fill="#f0eaff"/>
<ellipse cx="224.10" cy="106.10" rx="1.1" ry="2.2" fill="#f0eaff"/>
<ellipse cx="216.10" cy="109.20" rx="1.0" ry="0.8" fill="#2020ff"/>
<ellipse cx="223.70" cy="109.20" rx="1.0" ry="0.8" fill="#2020ff"/>
<ellipse cx="219.90" cy="96.40" rx="3.6" ry="2.9" fill="#00dcff"/>
<ellipse cx="219.60" cy="96.40" rx="2.3" ry="1.8" fill="#2cff40"/>
</g></g>
<line x1="231.10000000000002" y1="84.2" x2="231.10000000000002" y2="85.8" stroke="#a8a8a8" stroke-width="0.8"/>
<clipPath id="c53"><path d="M229.90000000000003,85.0 L232.3,85.0 L232.60000000000002,87.6 C234.10000000000002,88.39999999999999 235.40000000000003,90.0 235.8,92.19999999999999 L236.00000000000003,104.1 C236.00000000000003,106.19999999999999 235.60000000000002,107.6 234.90000000000003,108.8 L227.3,108.8 C226.60000000000002,107.6 226.20000000000002,106.19999999999999 226.20000000000002,104.1 L226.40000000000003,92.19999999999999 C226.8,90.0 228.10000000000002,88.39999999999999 229.60000000000002,87.6 Z"/></clipPath>
<path d="M229.90000000000003,85.0 L232.3,85.0 L232.60000000000002,87.6 C234.10000000000002,88.39999999999999 235.40000000000003,90.0 235.8,92.19999999999999 L236.00000000000003,104.1 C236.00000000000003,106.19999999999999 235.60000000000002,107.6 234.90000000000003,108.8 L227.3,108.8 C226.60000000000002,107.6 226.20000000000002,106.19999999999999 226.20000000000002,104.1 L226.40000000000003,92.19999999999999 C226.8,90.0 228.10000000000002,88.39999999999999 229.60000000000002,87.6 Z" fill="#d4d4d4"/>
<ellipse cx="231.10000000000002" cy="98.6" rx="3.6" ry="8.8" fill="#f2f2f2"/>
<g clip-path="url(#c53)"><g filter="url(#bl)">
<polygon points="231.10,84.88 234.07,88.59 236.29,93.89 236.08,99.19 234.17,104.49 232.48,110.11 229.72,110.11 228.03,104.49 226.12,99.19 225.91,93.89 228.13,88.59" fill="#9468ff"/>
<polygon points="231.10,86.80 233.62,89.95 235.51,94.45 235.33,98.95 233.71,103.45 232.27,108.22 229.93,108.22 228.49,103.45 226.87,98.95 226.69,94.45 228.58,89.95" fill="#2020ff"/>
<ellipse cx="226.90" cy="106.10" rx="1.1" ry="2.2" fill="#f0eaff"/>
<ellipse cx="235.30" cy="106.10" rx="1.1" ry="2.2" fill="#f0eaff"/>
<ellipse cx="227.30" cy="109.20" rx="1.0" ry="0.8" fill="#2020ff"/>
<ellipse cx="234.90" cy="109.20" rx="1.0" ry="0.8" fill="#2020ff"/>
<ellipse cx="231.10" cy="96.40" rx="3.6" ry="2.9" fill="#00dcff"/>
<ellipse cx="230.80" cy="96.40" rx="2.3" ry="1.8" fill="#2cff40"/>
</g></g>
<line x1="242.4" y1="84.2" x2="242.4" y2="85.8" stroke="#a8a8a8" stroke-width="0.8"/>
<clipPath id="c54"><path d="M241.20000000000002,85.0 L243.6,85.0 L243.9,87.6 C245.4,88.39999999999999 246.70000000000002,90.0 247.1,92.19999999999999 L247.3,104.1 C247.3,106.19999999999999 246.9,107.6 246.20000000000002,108.8 L238.6,108.8 C237.9,107.6 237.5,106.19999999999999 237.5,104.1 L237.70000000000002,92.19999999999999 C238.1,90.0 239.4,88.39999999999999 240.9,87.6 Z"/></clipPath>
<path d="M241.20000000000002,85.0 L243.6,85.0 L243.9,87.6 C245.4,88.39999999999999 246.70000000000002,90.0 247.1,92.19999999999999 L247.3,104.1 C247.3,106.19999999999999 246.9,107.6 246.20000000000002,108.8 L238.6,108.8 C237.9,107.6 237.5,106.19999999999999 237.5,104.1 L237.70000000000002,92.19999999999999 C238.1,90.0 239.4,88.39999999999999 240.9,87.6 Z" fill="#d4d4d4"/>
<ellipse cx="242.4" cy="98.6" rx="3.6" ry="8.8" fill="#f2f2f2"/>
<g clip-path="url(#c54)"><g filter="url(#bl)">
<polygon points="242.40,84.88 245.37,88.59 247.59,93.89 247.38,99.19 245.47,104.49 243.78,110.11 241.02,110.11 239.33,104.49 237.42,99.19 237.21,93.89 239.43,88.59" fill="#9468ff"/>
<polygon points="242.40,86.80 244.92,89.95 246.81,94.45 246.63,98.95 245.01,103.45 243.57,108.22 241.23,108.22 239.79,103.45 238.17,98.95 237.99,94.45 239.88,89.95" fill="#2020ff"/>
<ellipse cx="238.20" cy="106.10" rx="1.1" ry="2.2" fill="#f0eaff"/>
<ellipse cx="246.60" cy="106.10" rx="1.1" ry="2.2" fill="#f0eaff"/>
<ellipse cx="238.60" cy="109.20" rx="1.0" ry="0.8" fill="#2020ff"/>
<ellipse cx="246.20" cy="109.20" rx="1.0" ry="0.8" fill="#2020ff"/>
<ellipse cx="242.40" cy="96.40" rx="3.6" ry="2.9" fill="#00dcff"/>
<ellipse cx="242.10" cy="96.40" rx="2.3" ry="1.8" fill="#2cff40"/>
</g></g>
<line x1="253.9" y1="84.2" x2="253.9" y2="85.8" stroke="#a8a8a8" stroke-width="0.8"/>
<clipPath id="c55"><path d="M252.70000000000002,85.0 L255.1,85.0 L255.4,87.6 C256.9,88.39999999999999 258.2,90.0 258.6,92.19999999999999 L258.8,104.1 C258.8,106.19999999999999 258.4,107.6 257.7,108.8 L250.1,108.8 C249.4,107.6 249.0,106.19999999999999 249.0,104.1 L249.20000000000002,92.19999999999999 C249.6,90.0 250.9,88.39999999999999 252.4,87.6 Z"/></clipPath>
<path d="M252.70000000000002,85.0 L255.1,85.0 L255.4,87.6 C256.9,88.39999999999999 258.2,90.0 258.6,92.19999999999999 L258.8,104.1 C258.8,106.19999999999999 258.4,107.6 257.7,108.8 L250.1,108.8 C249.4,107.6 249.0,106.19999999999999 249.0,104.1 L249.20000000000002,92.19999999999999 C249.6,90.0 250.9,88.39999999999999 252.4,87.6 Z" fill="#d4d4d4"/>
<ellipse cx="253.9" cy="98.6" rx="3.6" ry="8.8" fill="#f2f2f2"/>
<g clip-path="url(#c55)"><g filter="url(#bl)">
<polygon points="253.90,84.88 256.87,88.59 259.09,93.89 258.88,99.19 256.97,104.49 255.28,110.11 252.52,110.11 250.83,104.49 248.92,99.19 248.71,93.89 250.93,88.59" fill="#9468ff"/>
<polygon points="253.90,86.80 256.42,89.95 258.31,94.45 258.13,98.95 256.51,103.45 255.07,108.22 252.73,108.22 251.29,103.45 249.67,98.95 249.49,94.45 251.38,89.95" fill="#2020ff"/>
<ellipse cx="249.70" cy="106.10" rx="1.1" ry="2.2" fill="#f0eaff"/>
<ellipse cx="258.10" cy="106.10" rx="1.1" ry="2.2" fill="#f0eaff"/>
<ellipse cx="250.10" cy="109.20" rx="1.0" ry="0.8" fill="#2020ff"/>
<ellipse cx="257.70" cy="109.20" rx="1.0" ry="0.8" fill="#2020ff"/>
<ellipse cx="253.90" cy="96.60" rx="3.7" ry="3.0" fill="#00dcff"/>
<ellipse cx="253.90" cy="96.60" rx="2.6" ry="2.0" fill="#2cff40"/>
<ellipse cx="252.60" cy="97.10" rx="1.0" ry="0.9" fill="#ff0000"/>
</g></g>
</g>
<rect x="262.2" y="84.0" width="57.0" height="26.2" fill="#151515"/>
<g filter="url(#bl2)">
<rect x="262.80" y="84.5" width="0.9" height="25.2" fill="#3c3c3c"/><rect x="268.40" y="84.5" width="0.9" height="25.2" fill="#3c3c3c"/><rect x="274.00" y="84.5" width="0.9" height="25.2" fill="#3c3c3c"/><rect x="279.60" y="84.5" width="0.9" height="25.2" fill="#3c3c3c"/><rect x="285.20" y="84.5" width="0.9" height="25.2" fill="#3c3c3c"/><rect x="290.80" y="84.5" width="0.9" height="25.2" fill="#3c3c3c"/><rect x="296.40" y="84.5" width="0.9" height="25.2" fill="#3c3c3c"/><rect x="302.00" y="84.5" width="0.9" height="25.2" fill="#3c3c3c"/><rect x="307.60" y="84.5" width="0.9" height="25.2" fill="#3c3c3c"/><rect x="313.20" y="84.5" width="0.9" height="25.2" fill="#3c3c3c"/>
<line x1="268.0" y1="84.2" x2="268.0" y2="85.8" stroke="#a8a8a8" stroke-width="0.8"/>
<clipPath id="c56"><path d="M266.8,85.0 L269.2,85.0 L269.5,87.6 C271.0,88.39999999999999 272.3,90.0 272.7,92.19999999999999 L272.9,104.1 C272.9,106.19999999999999 272.5,107.6 271.8,108.8 L264.2,108.8 C263.5,107.6 263.1,106.19999999999999 263.1,104.1 L263.3,92.19999999999999 C263.7,90.0 265.0,88.39999999999999 266.5,87.6 Z"/></clipPath>
<path d="M266.8,85.0 L269.2,85.0 L269.5,87.6 C271.0,88.39999999999999 272.3,90.0 272.7,92.19999999999999 L272.9,104.1 C272.9,106.19999999999999 272.5,107.6 271.8,108.8 L264.2,108.8 C263.5,107.6 263.1,106.19999999999999 263.1,104.1 L263.3,92.19999999999999 C263.7,90.0 265.0,88.39999999999999 266.5,87.6 Z" fill="#d4d4d4"/>
<ellipse cx="268.0" cy="98.6" rx="3.6" ry="8.8" fill="#f2f2f2"/>
<g clip-path="url(#c56)"><g filter="url(#bl)">
<polygon points="268.00,84.88 270.97,88.59 273.19,93.89 272.98,99.19 271.07,104.49 269.38,110.11 266.62,110.11 264.93,104.49 263.02,99.19 262.81,93.89 265.03,88.59" fill="#9468ff"/>
<polygon points="268.00,86.80 270.52,89.95 272.41,94.45 272.23,98.95 270.61,103.45 269.17,108.22 266.83,108.22 265.39,103.45 263.77,98.95 263.59,94.45 265.48,89.95" fill="#2020ff"/>
<ellipse cx="263.80" cy="106.10" rx="1.1" ry="2.2" fill="#f0eaff"/>
<ellipse cx="272.20" cy="106.10" rx="1.1" ry="2.2" fill="#f0eaff"/>
<ellipse cx="264.20" cy="109.20" rx="1.0" ry="0.8" fill="#2020ff"/>
<ellipse cx="271.80" cy="109.20" rx="1.0" ry="0.8" fill="#2020ff"/>
<ellipse cx="268.00" cy="95.10" rx="3.7" ry="4.8" fill="#00dcff"/>
<ellipse cx="268.00" cy="95.60" rx="2.7" ry="3.4" fill="#2cff40"/>
<ellipse cx="266.90" cy="96.10" rx="1.5" ry="1.3" fill="#ff0000"/>
<ellipse cx="268.00" cy="88.80" rx="1.2" ry="1.6" fill="#00dcff"/>
</g></g>
<line x1="279.2" y1="84.2" x2="279.2" y2="85.8" stroke="#a8a8a8" stroke-width="0.8"/>
<clipPath id="c57"><path d="M278.0,85.0 L280.4,85.0 L280.7,87.6 C282.2,88.39999999999999 283.5,90.0 283.9,92.19999999999999 L284.09999999999997,104.1 C284.09999999999997,106.19999999999999 283.7,107.6 283.0,108.8 L275.4,108.8 C274.7,107.6 274.3,106.19999999999999 274.3,104.1 L274.5,92.19999999999999 C274.9,90.0 276.2,88.39999999999999 277.7,87.6 Z"/></clipPath>
<path d="M278.0,85.0 L280.4,85.0 L280.7,87.6 C282.2,88.39999999999999 283.5,90.0 283.9,92.19999999999999 L284.09999999999997,104.1 C284.09999999999997,106.19999999999999 283.7,107.6 283.0,108.8 L275.4,108.8 C274.7,107.6 274.3,106.19999999999999 274.3,104.1 L274.5,92.19999999999999 C274.9,90.0 276.2,88.39999999999999 277.7,87.6 Z" fill="#d4d4d4"/>
<ellipse cx="279.2" cy="98.6" rx="3.6" ry="8.8" fill="#f2f2f2"/>
<g clip-path="url(#c57)"><g filter="url(#bl)">
<polygon points="279.20,84.88 282.17,88.59 284.39,93.89 284.18,99.19 282.27,104.49 280.58,110.11 277.82,110.11 276.13,104.49 274.22,99.19 274.01,93.89 276.23,88.59" fill="#9468ff"/>
<polygon points="279.20,86.80 281.72,89.95 283.61,94.45 283.43,98.95 281.81,103.45 280.37,108.22 278.03,108.22 276.59,103.45 274.97,98.95 274.79,94.45 276.68,89.95" fill="#2020ff"/>
<ellipse cx="275.00" cy="106.10" rx="1.1" ry="2.2" fill="#f0eaff"/>
<ellipse cx="283.40" cy="106.10" rx="1.1" ry="2.2" fill="#f0eaff"/>
<ellipse cx="275.40" cy="109.20" rx="1.0" ry="0.8" fill="#2020ff"/>
<ellipse cx="283.00" cy="109.20" rx="1.0" ry="0.8" fill="#2020ff"/>
<ellipse cx="279.20" cy="95.10" rx="3.7" ry="4.8" fill="#00dcff"/>
<ellipse cx="279.20" cy="95.60" rx="2.7" ry="3.4" fill="#2cff40"/>
<ellipse cx="278.10" cy="96.10" rx="1.5" ry="1.3" fill="#ff0000"/>
<ellipse cx="279.20" cy="88.80" rx="1.2" ry="1.6" fill="#00dcff"/>
</g></g>
<line x1="290.09999999999997" y1="84.2" x2="290.09999999999997" y2="85.8" stroke="#a8a8a8" stroke-width="0.8"/>
<clipPath id="c58"><path d="M288.9,85.0 L291.29999999999995,85.0 L291.59999999999997,87.6 C293.09999999999997,88.39999999999999 294.4,90.0 294.79999999999995,92.19999999999999 L294.99999999999994,104.1 C294.99999999999994,106.19999999999999 294.59999999999997,107.6 293.9,108.8 L286.29999999999995,108.8 C285.59999999999997,107.6 285.2,106.19999999999999 285.2,104.1 L285.4,92.19999999999999 C285.79999999999995,90.0 287.09999999999997,88.39999999999999 288.59999999999997,87.6 Z"/></clipPath>
<path d="M288.9,85.0 L291.29999999999995,85.0 L291.59999999999997,87.6 C293.09999999999997,88.39999999999999 294.4,90.0 294.79999999999995,92.19999999999999 L294.99999999999994,104.1 C294.99999999999994,106.19999999999999 294.59999999999997,107.6 293.9,108.8 L286.29999999999995,108.8 C285.59999999999997,107.6 285.2,106.19999999999999 285.2,104.1 L285.4,92.19999999999999 C285.79999999999995,90.0 287.09999999999997,88.39999999999999 288.59999999999997,87.6 Z" fill="#d4d4d4"/>
<ellipse cx="290.09999999999997" cy="98.6" rx="3.6" ry="8.8" fill="#f2f2f2"/>
<g clip-path="url(#c58)"><g filter="url(#bl)">
<polygon points="290.10,84.88 293.07,88.59 295.29,93.89 295.08,99.19 293.17,104.49 291.48,110.11 288.72,110.11 287.03,104.49 285.12,99.19 284.91,93.89 287.13,88.59" fill="#9468ff"/>
<polygon points="290.10,86.80 292.62,89.95 294.51,94.45 294.33,98.95 292.71,103.45 291.27,108.22 288.93,108.22 287.49,103.45 285.87,98.95 285.69,94.45 287.58,89.95" fill="#2020ff"/>
<ellipse cx="285.90" cy="106.10" rx="1.1" ry="2.2" fill="#f0eaff"/>
<ellipse cx="294.30" cy="106.10" rx="1.1" ry="2.2" fill="#f0eaff"/>
<ellipse cx="286.30" cy="109.20" rx="1.0" ry="0.8" fill="#2020ff"/>
<ellipse cx="293.90" cy="109.20" rx="1.0" ry="0.8" fill="#2020ff"/>
<ellipse cx="290.10" cy="95.10" rx="3.7" ry="4.8" fill="#00dcff"/>
<ellipse cx="290.10" cy="95.60" rx="2.7" ry="3.4" fill="#2cff40"/>
<ellipse cx="289.00" cy="96.10" rx="1.5" ry="1.3" fill="#ff0000"/>
<ellipse cx="290.10" cy="88.80" rx="1.2" ry="1.6" fill="#00dcff"/>
</g></g>
<line x1="301.09999999999997" y1="84.2" x2="301.09999999999997" y2="85.8" stroke="#a8a8a8" stroke-width="0.8"/>
<clipPath id="c59"><path d="M299.9,85.0 L302.29999999999995,85.0 L302.59999999999997,87.6 C304.09999999999997,88.39999999999999 305.4,90.0 305.79999999999995,92.19999999999999 L305.99999999999994,104.1 C305.99999999999994,106.19999999999999 305.59999999999997,107.6 304.9,108.8 L297.29999999999995,108.8 C296.59999999999997,107.6 296.2,106.19999999999999 296.2,104.1 L296.4,92.19999999999999 C296.79999999999995,90.0 298.09999999999997,88.39999999999999 299.59999999999997,87.6 Z"/></clipPath>
<path d="M299.9,85.0 L302.29999999999995,85.0 L302.59999999999997,87.6 C304.09999999999997,88.39999999999999 305.4,90.0 305.79999999999995,92.19999999999999 L305.99999999999994,104.1 C305.99999999999994,106.19999999999999 305.59999999999997,107.6 304.9,108.8 L297.29999999999995,108.8 C296.59999999999997,107.6 296.2,106.19999999999999 296.2,104.1 L296.4,92.19999999999999 C296.79999999999995,90.0 298.09999999999997,88.39999999999999 299.59999999999997,87.6 Z" fill="#d4d4d4"/>
<ellipse cx="301.09999999999997" cy="98.6" rx="3.6" ry="8.8" fill="#f2f2f2"/>
<g clip-path="url(#c59)"><g filter="url(#bl)">
<polygon points="301.10,84.88 304.07,88.59 306.29,93.89 306.08,99.19 304.17,104.49 302.48,110.11 299.72,110.11 298.03,104.49 296.12,99.19 295.91,93.89 298.13,88.59" fill="#9468ff"/>
<polygon points="301.10,86.80 303.62,89.95 305.51,94.45 305.33,98.95 303.71,103.45 302.27,108.22 299.93,108.22 298.49,103.45 296.87,98.95 296.69,94.45 298.58,89.95" fill="#2020ff"/>
<ellipse cx="296.90" cy="106.10" rx="1.1" ry="2.2" fill="#f0eaff"/>
<ellipse cx="305.30" cy="106.10" rx="1.1" ry="2.2" fill="#f0eaff"/>
<ellipse cx="297.30" cy="109.20" rx="1.0" ry="0.8" fill="#2020ff"/>
<ellipse cx="304.90" cy="109.20" rx="1.0" ry="0.8" fill="#2020ff"/>
<ellipse cx="301.10" cy="95.10" rx="3.7" ry="4.8" fill="#00dcff"/>
<ellipse cx="301.10" cy="95.60" rx="2.7" ry="3.4" fill="#2cff40"/>
<ellipse cx="300.00" cy="96.10" rx="1.5" ry="1.3" fill="#ff0000"/>
<ellipse cx="301.10" cy="88.80" rx="1.2" ry="1.6" fill="#00dcff"/>
</g></g>
<line x1="312.0" y1="84.2" x2="312.0" y2="85.8" stroke="#a8a8a8" stroke-width="0.8"/>
<clipPath id="c60"><path d="M310.8,85.0 L313.2,85.0 L313.5,87.6 C315.0,88.39999999999999 316.3,90.0 316.7,92.19999999999999 L316.9,104.1 C316.9,106.19999999999999 316.5,107.6 315.8,108.8 L308.2,108.8 C307.5,107.6 307.1,106.19999999999999 307.1,104.1 L307.3,92.19999999999999 C307.7,90.0 309.0,88.39999999999999 310.5,87.6 Z"/></clipPath>
<path d="M310.8,85.0 L313.2,85.0 L313.5,87.6 C315.0,88.39999999999999 316.3,90.0 316.7,92.19999999999999 L316.9,104.1 C316.9,106.19999999999999 316.5,107.6 315.8,108.8 L308.2,108.8 C307.5,107.6 307.1,106.19999999999999 307.1,104.1 L307.3,92.19999999999999 C307.7,90.0 309.0,88.39999999999999 310.5,87.6 Z" fill="#d4d4d4"/>
<ellipse cx="312.0" cy="98.6" rx="3.6" ry="8.8" fill="#f2f2f2"/>
<g clip-path="url(#c60)"><g filter="url(#bl)">
<ellipse cx="312.00" cy="96.60" rx="3.4" ry="6" fill="#9468ff"/>
<ellipse cx="312.00" cy="96.60" rx="2.9" ry="5" fill="#2020ff"/>
<ellipse cx="311.50" cy="97.60" rx="1.8" ry="1.6" fill="#00dcff"/>
<ellipse cx="311.50" cy="97.60" rx="1.1" ry="1.0" fill="#ff0000"/>
</g></g>
</g>
<rect x="321.0" y="84.0" width="57.0" height="26.2" fill="#151515"/>
<g filter="url(#bl2)">
<rect x="321.60" y="84.5" width="0.9" height="25.2" fill="#3c3c3c"/><rect x="327.20" y="84.5" width="0.9" height="25.2" fill="#3c3c3c"/><rect x="332.80" y="84.5" width="0.9" height="25.2" fill="#3c3c3c"/><rect x="338.40" y="84.5" width="0.9" height="25.2" fill="#3c3c3c"/><rect x="344.00" y="84.5" width="0.9" height="25.2" fill="#3c3c3c"/><rect x="349.60" y="84.5" width="0.9" height="25.2" fill="#3c3c3c"/><rect x="355.20" y="84.5" width="0.9" height="25.2" fill="#3c3c3c"/><rect x="360.80" y="84.5" width="0.9" height="25.2" fill="#3c3c3c"/><rect x="366.40" y="84.5" width="0.9" height="25.2" fill="#3c3c3c"/><rect x="372.00" y="84.5" width="0.9" height="25.2" fill="#3c3c3c"/>
<line x1="327.3" y1="84.2" x2="327.3" y2="85.8" stroke="#a8a8a8" stroke-width="0.8"/>
<clipPath id="c61"><path d="M326.1,85.0 L328.5,85.0 L328.8,87.6 C330.3,88.39999999999999 331.6,90.0 332.0,92.19999999999999 L332.2,104.1 C332.2,106.19999999999999 331.8,107.6 331.1,108.8 L323.5,108.8 C322.8,107.6 322.40000000000003,106.19999999999999 322.40000000000003,104.1 L322.6,92.19999999999999 C323.0,90.0 324.3,88.39999999999999 325.8,87.6 Z"/></clipPath>
<path d="M326.1,85.0 L328.5,85.0 L328.8,87.6 C330.3,88.39999999999999 331.6,90.0 332.0,92.19999999999999 L332.2,104.1 C332.2,106.19999999999999 331.8,107.6 331.1,108.8 L323.5,108.8 C322.8,107.6 322.40000000000003,106.19999999999999 322.40000000000003,104.1 L322.6,92.19999999999999 C323.0,90.0 324.3,88.39999999999999 325.8,87.6 Z" fill="#d4d4d4"/>
<ellipse cx="327.3" cy="98.6" rx="3.6" ry="8.8" fill="#f2f2f2"/>
<g clip-path="url(#c61)"><g filter="url(#bl)">
<ellipse cx="327.30" cy="97.10" rx="5.2" ry="12.5" fill="#00dcff"/>
<ellipse cx="327.30" cy="97.60" rx="5.1" ry="12" fill="#2cff40"/>
<ellipse cx="327.30" cy="98.10" rx="4.9" ry="10.8" fill="#ff0000"/>
<ellipse cx="327.30" cy="88.60" rx="1.6" ry="2.6" fill="#ff0000"/>
<ellipse cx="324.80" cy="102.60" rx="1.0" ry="1.0" fill="#e8ff20"/>
<ellipse cx="329.50" cy="93.60" rx="0.8" ry="0.8" fill="#2cff40"/>
<ellipse cx="323.10" cy="105.60" rx="1.0" ry="1.4" fill="#2cff40"/>
<ellipse cx="327.30" cy="108.60" rx="3.5" ry="1.2" fill="#ff0000"/>
</g></g>
<line x1="338.5" y1="84.2" x2="338.5" y2="85.8" stroke="#a8a8a8" stroke-width="0.8"/>
<clipPath id="c62"><path d="M337.3,85.0 L339.7,85.0 L340.0,87.6 C341.5,88.39999999999999 342.8,90.0 343.2,92.19999999999999 L343.4,104.1 C343.4,106.19999999999999 343.0,107.6 342.3,108.8 L334.7,108.8 C334.0,107.6 333.6,106.19999999999999 333.6,104.1 L333.8,92.19999999999999 C334.2,90.0 335.5,88.39999999999999 337.0,87.6 Z"/></clipPath>
<path d="M337.3,85.0 L339.7,85.0 L340.0,87.6 C341.5,88.39999999999999 342.8,90.0 343.2,92.19999999999999 L343.4,104.1 C343.4,106.19999999999999 343.0,107.6 342.3,108.8 L334.7,108.8 C334.0,107.6 333.6,106.19999999999999 333.6,104.1 L333.8,92.19999999999999 C334.2,90.0 335.5,88.39999999999999 337.0,87.6 Z" fill="#d4d4d4"/>
<ellipse cx="338.5" cy="98.6" rx="3.6" ry="8.8" fill="#f2f2f2"/>
<g clip-path="url(#c62)"><g filter="url(#bl)">
<ellipse cx="338.50" cy="97.10" rx="5.2" ry="12.5" fill="#00dcff"/>
<ellipse cx="338.50" cy="97.60" rx="5.1" ry="12" fill="#2cff40"/>
<ellipse cx="338.50" cy="98.10" rx="4.9" ry="10.8" fill="#ff0000"/>
<ellipse cx="338.50" cy="88.60" rx="1.6" ry="2.6" fill="#ff0000"/>
<ellipse cx="336.00" cy="102.60" rx="1.0" ry="1.0" fill="#e8ff20"/>
<ellipse cx="340.70" cy="93.60" rx="0.8" ry="0.8" fill="#2cff40"/>
<ellipse cx="334.30" cy="105.60" rx="1.0" ry="1.4" fill="#2cff40"/>
<ellipse cx="338.50" cy="108.60" rx="3.5" ry="1.2" fill="#ff0000"/>
</g></g>
<line x1="349.2" y1="84.2" x2="349.2" y2="85.8" stroke="#a8a8a8" stroke-width="0.8"/>
<clipPath id="c63"><path d="M348.0,85.0 L350.4,85.0 L350.7,87.6 C352.2,88.39999999999999 353.5,90.0 353.9,92.19999999999999 L354.09999999999997,104.1 C354.09999999999997,106.19999999999999 353.7,107.6 353.0,108.8 L345.4,108.8 C344.7,107.6 344.3,106.19999999999999 344.3,104.1 L344.5,92.19999999999999 C344.9,90.0 346.2,88.39999999999999 347.7,87.6 Z"/></clipPath>
<path d="M348.0,85.0 L350.4,85.0 L350.7,87.6 C352.2,88.39999999999999 353.5,90.0 353.9,92.19999999999999 L354.09999999999997,104.1 C354.09999999999997,106.19999999999999 353.7,107.6 353.0,108.8 L345.4,108.8 C344.7,107.6 344.3,106.19999999999999 344.3,104.1 L344.5,92.19999999999999 C344.9,90.0 346.2,88.39999999999999 347.7,87.6 Z" fill="#d4d4d4"/>
<ellipse cx="349.2" cy="98.6" rx="3.6" ry="8.8" fill="#f2f2f2"/>
<g clip-path="url(#c63)"><g filter="url(#bl)">
<ellipse cx="349.20" cy="97.10" rx="5.2" ry="12.5" fill="#00dcff"/>
<ellipse cx="349.20" cy="97.60" rx="5.1" ry="12" fill="#2cff40"/>
<ellipse cx="349.20" cy="98.10" rx="4.9" ry="10.8" fill="#ff0000"/>
<ellipse cx="349.20" cy="88.60" rx="1.6" ry="2.6" fill="#ff0000"/>
<ellipse cx="346.70" cy="102.60" rx="1.0" ry="1.0" fill="#e8ff20"/>
<ellipse cx="351.40" cy="93.60" rx="0.8" ry="0.8" fill="#2cff40"/>
<ellipse cx="345.00" cy="105.60" rx="1.0" ry="1.4" fill="#2cff40"/>
<ellipse cx="349.20" cy="108.60" rx="3.5" ry="1.2" fill="#ff0000"/>
</g></g>
<line x1="360.3" y1="84.2" x2="360.3" y2="85.8" stroke="#a8a8a8" stroke-width="0.8"/>
<clipPath id="c64"><path d="M359.1,85.0 L361.5,85.0 L361.8,87.6 C363.3,88.39999999999999 364.6,90.0 365.0,92.19999999999999 L365.2,104.1 C365.2,106.19999999999999 364.8,107.6 364.1,108.8 L356.5,108.8 C355.8,107.6 355.40000000000003,106.19999999999999 355.40000000000003,104.1 L355.6,92.19999999999999 C356.0,90.0 357.3,88.39999999999999 358.8,87.6 Z"/></clipPath>
<path d="M359.1,85.0 L361.5,85.0 L361.8,87.6 C363.3,88.39999999999999 364.6,90.0 365.0,92.19999999999999 L365.2,104.1 C365.2,106.19999999999999 364.8,107.6 364.1,108.8 L356.5,108.8 C355.8,107.6 355.40000000000003,106.19999999999999 355.40000000000003,104.1 L355.6,92.19999999999999 C356.0,90.0 357.3,88.39999999999999 358.8,87.6 Z" fill="#d4d4d4"/>
<ellipse cx="360.3" cy="98.6" rx="3.6" ry="8.8" fill="#f2f2f2"/>
<g clip-path="url(#c64)"><g filter="url(#bl)">
<ellipse cx="360.30" cy="97.10" rx="5.2" ry="12.5" fill="#00dcff"/>
<ellipse cx="360.30" cy="97.60" rx="5.1" ry="12" fill="#2cff40"/>
<ellipse cx="360.30" cy="98.10" rx="4.9" ry="10.8" fill="#ff0000"/>
<ellipse cx="360.30" cy="88.60" rx="1.6" ry="2.6" fill="#ff0000"/>
<ellipse cx="357.80" cy="102.60" rx="1.0" ry="1.0" fill="#e8ff20"/>
<ellipse cx="362.50" cy="93.60" rx="0.8" ry="0.8" fill="#2cff40"/>
<ellipse cx="356.10" cy="105.60" rx="1.0" ry="1.4" fill="#2cff40"/>
<ellipse cx="360.30" cy="108.60" rx="3.5" ry="1.2" fill="#ff0000"/>
</g></g>
<line x1="371.6" y1="84.2" x2="371.6" y2="85.8" stroke="#a8a8a8" stroke-width="0.8"/>
<clipPath id="c65"><path d="M370.40000000000003,85.0 L372.8,85.0 L373.1,87.6 C374.6,88.39999999999999 375.90000000000003,90.0 376.3,92.19999999999999 L376.5,104.1 C376.5,106.19999999999999 376.1,107.6 375.40000000000003,108.8 L367.8,108.8 C367.1,107.6 366.70000000000005,106.19999999999999 366.70000000000005,104.1 L366.90000000000003,92.19999999999999 C367.3,90.0 368.6,88.39999999999999 370.1,87.6 Z"/></clipPath>
<path d="M370.40000000000003,85.0 L372.8,85.0 L373.1,87.6 C374.6,88.39999999999999 375.90000000000003,90.0 376.3,92.19999999999999 L376.5,104.1 C376.5,106.19999999999999 376.1,107.6 375.40000000000003,108.8 L367.8,108.8 C367.1,107.6 366.70000000000005,106.19999999999999 366.70000000000005,104.1 L366.90000000000003,92.19999999999999 C367.3,90.0 368.6,88.39999999999999 370.1,87.6 Z" fill="#d4d4d4"/>
<ellipse cx="371.6" cy="98.6" rx="3.6" ry="8.8" fill="#f2f2f2"/>
<g clip-path="url(#c65)"><g filter="url(#bl)">
<ellipse cx="371.60" cy="97.60" rx="5.2" ry="12.5" fill="#2020ff"/>
<ellipse cx="371.60" cy="97.60" rx="5.0" ry="11.8" fill="#00dcff"/>
<ellipse cx="371.60" cy="97.60" rx="4.9" ry="11.2" fill="#2cff40"/>
<ellipse cx="371.60" cy="89.10" rx="2.0" ry="2.8" fill="#2cff40"/>
<ellipse cx="371.30" cy="98.60" rx="4.6" ry="8.6" fill="#ff0000"/>
<ellipse cx="371.60" cy="88.80" rx="1.3" ry="2.0" fill="#ff0000"/>
<ellipse cx="368.00" cy="105.10" rx="1.1" ry="1.4" fill="#e8ff20"/>
<ellipse cx="375.20" cy="105.60" rx="1.1" ry="1.4" fill="#2cff40"/>
<ellipse cx="373.60" cy="94.60" rx="0.9" ry="0.9" fill="#e8ff20"/>
<ellipse cx="371.60" cy="108.60" rx="2.8" ry="1.2" fill="#ff0000"/>
</g></g>
</g>
<rect x="386.2" y="84.0" width="57.0" height="26.2" fill="#151515"/>
<g filter="url(#bl2)">
<rect x="386.80" y="84.5" width="0.9" height="25.2" fill="#3c3c3c"/><rect x="392.40" y="84.5" width="0.9" height="25.2" fill="#3c3c3c"/><rect x="398.00" y="84.5" width="0.9" height="25.2" fill="#3c3c3c"/><rect x="403.60" y="84.5" width="0.9" height="25.2" fill="#3c3c3c"/><rect x="409.20" y="84.5" width="0.9" height="25.2" fill="#3c3c3c"/><rect x="414.80" y="84.5" width="0.9" height="25.2" fill="#3c3c3c"/><rect x="420.40" y="84.5" width="0.9" height="25.2" fill="#3c3c3c"/><rect x="426.00" y="84.5" width="0.9" height="25.2" fill="#3c3c3c"/><rect x="431.60" y="84.5" width="0.9" height="25.2" fill="#3c3c3c"/><rect x="437.20" y="84.5" width="0.9" height="25.2" fill="#3c3c3c"/>
<line x1="394.2" y1="84.2" x2="394.2" y2="85.8" stroke="#a8a8a8" stroke-width="0.8"/>
<clipPath id="c66"><path d="M393.0,85.0 L395.4,85.0 L395.7,87.6 C397.2,88.39999999999999 398.5,90.0 398.9,92.19999999999999 L399.09999999999997,104.1 C399.09999999999997,106.19999999999999 398.7,107.6 398.0,108.8 L390.4,108.8 C389.7,107.6 389.3,106.19999999999999 389.3,104.1 L389.5,92.19999999999999 C389.9,90.0 391.2,88.39999999999999 392.7,87.6 Z"/></clipPath>
<path d="M393.0,85.0 L395.4,85.0 L395.7,87.6 C397.2,88.39999999999999 398.5,90.0 398.9,92.19999999999999 L399.09999999999997,104.1 C399.09999999999997,106.19999999999999 398.7,107.6 398.0,108.8 L390.4,108.8 C389.7,107.6 389.3,106.19999999999999 389.3,104.1 L389.5,92.19999999999999 C389.9,90.0 391.2,88.39999999999999 392.7,87.6 Z" fill="#d4d4d4"/>
<ellipse cx="394.2" cy="98.6" rx="3.6" ry="8.8" fill="#f2f2f2"/>
<g clip-path="url(#c66)"><g filter="url(#bl)">
<ellipse cx="394.20" cy="97.10" rx="4.4" ry="3.4" fill="#2020ff"/>
<ellipse cx="392.70" cy="97.60" rx="1.4" ry="1.3" fill="#00dcff"/>
<ellipse cx="394.20" cy="104.10" rx="2" ry="1.5" fill="#2020ff"/>
<ellipse cx="394.20" cy="109.00" rx="2.5" ry="1.0" fill="#00dcff"/>
</g></g>
<line x1="405.3" y1="84.2" x2="405.3" y2="85.8" stroke="#a8a8a8" stroke-width="0.8"/>
<clipPath id="c67"><path d="M404.1,85.0 L406.5,85.0 L406.8,87.6 C408.3,88.39999999999999 409.6,90.0 410.0,92.19999999999999 L410.2,104.1 C410.2,106.19999999999999 409.8,107.6 409.1,108.8 L401.5,108.8 C400.8,107.6 400.40000000000003,106.19999999999999 400.40000000000003,104.1 L400.6,92.19999999999999 C401.0,90.0 402.3,88.39999999999999 403.8,87.6 Z"/></clipPath>
<path d="M404.1,85.0 L406.5,85.0 L406.8,87.6 C408.3,88.39999999999999 409.6,90.0 410.0,92.19999999999999 L410.2,104.1 C410.2,106.19999999999999 409.8,107.6 409.1,108.8 L401.5,108.8 C400.8,107.6 400.40000000000003,106.19999999999999 400.40000000000003,104.1 L400.6,92.19999999999999 C401.0,90.0 402.3,88.39999999999999 403.8,87.6 Z" fill="#d4d4d4"/>
<ellipse cx="405.3" cy="98.6" rx="3.6" ry="8.8" fill="#f2f2f2"/>
<g clip-path="url(#c67)"><g filter="url(#bl)">
<ellipse cx="405.30" cy="97.10" rx="4.4" ry="3.4" fill="#2020ff"/>
<ellipse cx="403.80" cy="97.60" rx="1.4" ry="1.3" fill="#00dcff"/>
<ellipse cx="405.30" cy="104.10" rx="2" ry="1.5" fill="#2020ff"/>
<ellipse cx="405.30" cy="109.00" rx="2.5" ry="1.0" fill="#00dcff"/>
</g></g>
<line x1="416.3" y1="84.2" x2="416.3" y2="85.8" stroke="#a8a8a8" stroke-width="0.8"/>
<clipPath id="c68"><path d="M415.1,85.0 L417.5,85.0 L417.8,87.6 C419.3,88.39999999999999 420.6,90.0 421.0,92.19999999999999 L421.2,104.1 C421.2,106.19999999999999 420.8,107.6 420.1,108.8 L412.5,108.8 C411.8,107.6 411.40000000000003,106.19999999999999 411.40000000000003,104.1 L411.6,92.19999999999999 C412.0,90.0 413.3,88.39999999999999 414.8,87.6 Z"/></clipPath>
<path d="M415.1,85.0 L417.5,85.0 L417.8,87.6 C419.3,88.39999999999999 420.6,90.0 421.0,92.19999999999999 L421.2,104.1 C421.2,106.19999999999999 420.8,107.6 420.1,108.8 L412.5,108.8 C411.8,107.6 411.40000000000003,106.19999999999999 411.40000000000003,104.1 L411.6,92.19999999999999 C412.0,90.0 413.3,88.39999999999999 414.8,87.6 Z" fill="#d4d4d4"/>
<ellipse cx="416.3" cy="98.6" rx="3.6" ry="8.8" fill="#f2f2f2"/>
<g clip-path="url(#c68)"><g filter="url(#bl)">
<ellipse cx="416.30" cy="97.10" rx="4.4" ry="3.4" fill="#2020ff"/>
<ellipse cx="414.80" cy="97.60" rx="1.4" ry="1.3" fill="#00dcff"/>
<ellipse cx="416.30" cy="104.10" rx="2" ry="1.5" fill="#2020ff"/>
<ellipse cx="416.30" cy="109.00" rx="2.5" ry="1.0" fill="#00dcff"/>
</g></g>
<line x1="427.3" y1="84.2" x2="427.3" y2="85.8" stroke="#a8a8a8" stroke-width="0.8"/>
<clipPath id="c69"><path d="M426.1,85.0 L428.5,85.0 L428.8,87.6 C430.3,88.39999999999999 431.6,90.0 432.0,92.19999999999999 L432.2,104.1 C432.2,106.19999999999999 431.8,107.6 431.1,108.8 L423.5,108.8 C422.8,107.6 422.40000000000003,106.19999999999999 422.40000000000003,104.1 L422.6,92.19999999999999 C423.0,90.0 424.3,88.39999999999999 425.8,87.6 Z"/></clipPath>
<path d="M426.1,85.0 L428.5,85.0 L428.8,87.6 C430.3,88.39999999999999 431.6,90.0 432.0,92.19999999999999 L432.2,104.1 C432.2,106.19999999999999 431.8,107.6 431.1,108.8 L423.5,108.8 C422.8,107.6 422.40000000000003,106.19999999999999 422.40000000000003,104.1 L422.6,92.19999999999999 C423.0,90.0 424.3,88.39999999999999 425.8,87.6 Z" fill="#d4d4d4"/>
<ellipse cx="427.3" cy="98.6" rx="3.6" ry="8.8" fill="#f2f2f2"/>
<g clip-path="url(#c69)"><g filter="url(#bl)">
<ellipse cx="426.30" cy="98.10" rx="2.4" ry="2.0" fill="#2020ff"/>
<ellipse cx="426.30" cy="98.10" rx="1.3" ry="1.1" fill="#00dcff"/>
<ellipse cx="429.80" cy="94.60" rx="1" ry="1.5" fill="#2020ff"/>
<ellipse cx="427.30" cy="109.00" rx="1.5" ry="1.0" fill="#2020ff"/>
</g></g>
<line x1="438.0" y1="84.2" x2="438.0" y2="85.8" stroke="#a8a8a8" stroke-width="0.8"/>
<clipPath id="c70"><path d="M436.8,85.0 L439.2,85.0 L439.5,87.6 C441.0,88.39999999999999 442.3,90.0 442.7,92.19999999999999 L442.9,104.1 C442.9,106.19999999999999 442.5,107.6 441.8,108.8 L434.2,108.8 C433.5,107.6 433.1,106.19999999999999 433.1,104.1 L433.3,92.19999999999999 C433.7,90.0 435.0,88.39999999999999 436.5,87.6 Z"/></clipPath>
<path d="M436.8,85.0 L439.2,85.0 L439.5,87.6 C441.0,88.39999999999999 442.3,90.0 442.7,92.19999999999999 L442.9,104.1 C442.9,106.19999999999999 442.5,107.6 441.8,108.8 L434.2,108.8 C433.5,107.6 433.1,106.19999999999999 433.1,104.1 L433.3,92.19999999999999 C433.7,90.0 435.0,88.39999999999999 436.5,87.6 Z" fill="#d4d4d4"/>
<ellipse cx="438.0" cy="98.6" rx="3.6" ry="8.8" fill="#f2f2f2"/>
<g clip-path="url(#c70)"><g filter="url(#bl)">
<ellipse cx="437.00" cy="98.10" rx="2.4" ry="2.0" fill="#2020ff"/>
<ellipse cx="437.00" cy="98.10" rx="1.3" ry="1.1" fill="#00dcff"/>
<ellipse cx="440.50" cy="94.60" rx="1" ry="1.5" fill="#2020ff"/>
<ellipse cx="438.00" cy="109.00" rx="1.5" ry="1.0" fill="#2020ff"/>
</g></g>
</g>
<rect x="445.2" y="84.0" width="57.0" height="26.2" fill="#151515"/>
<g filter="url(#bl2)">
<rect x="445.80" y="84.5" width="0.9" height="25.2" fill="#3c3c3c"/><rect x="451.40" y="84.5" width="0.9" height="25.2" fill="#3c3c3c"/><rect x="457.00" y="84.5" width="0.9" height="25.2" fill="#3c3c3c"/><rect x="462.60" y="84.5" width="0.9" height="25.2" fill="#3c3c3c"/><rect x="468.20" y="84.5" width="0.9" height="25.2" fill="#3c3c3c"/><rect x="473.80" y="84.5" width="0.9" height="25.2" fill="#3c3c3c"/><rect x="479.40" y="84.5" width="0.9" height="25.2" fill="#3c3c3c"/><rect x="485.00" y="84.5" width="0.9" height="25.2" fill="#3c3c3c"/><rect x="490.60" y="84.5" width="0.9" height="25.2" fill="#3c3c3c"/><rect x="496.20" y="84.5" width="0.9" height="25.2" fill="#3c3c3c"/>
<line x1="450.5" y1="84.2" x2="450.5" y2="85.8" stroke="#a8a8a8" stroke-width="0.8"/>
<clipPath id="c71"><path d="M449.3,85.0 L451.7,85.0 L452.0,87.6 C453.5,88.39999999999999 454.8,90.0 455.2,92.19999999999999 L455.4,104.1 C455.4,106.19999999999999 455.0,107.6 454.3,108.8 L446.7,108.8 C446.0,107.6 445.6,106.19999999999999 445.6,104.1 L445.8,92.19999999999999 C446.2,90.0 447.5,88.39999999999999 449.0,87.6 Z"/></clipPath>
<path d="M449.3,85.0 L451.7,85.0 L452.0,87.6 C453.5,88.39999999999999 454.8,90.0 455.2,92.19999999999999 L455.4,104.1 C455.4,106.19999999999999 455.0,107.6 454.3,108.8 L446.7,108.8 C446.0,107.6 445.6,106.19999999999999 445.6,104.1 L445.8,92.19999999999999 C446.2,90.0 447.5,88.39999999999999 449.0,87.6 Z" fill="#d4d4d4"/>
<ellipse cx="450.5" cy="98.6" rx="3.6" ry="8.8" fill="#f2f2f2"/>
<g clip-path="url(#c71)"><g filter="url(#bl)">
<ellipse cx="450.50" cy="97.60" rx="5.2" ry="12.5" fill="#2020ff"/>
<ellipse cx="450.50" cy="97.60" rx="5.0" ry="11.8" fill="#00dcff"/>
<ellipse cx="450.50" cy="97.60" rx="4.9" ry="11.2" fill="#2cff40"/>
<ellipse cx="450.50" cy="89.10" rx="2.0" ry="2.8" fill="#2cff40"/>
<ellipse cx="450.20" cy="98.60" rx="4.6" ry="8.6" fill="#ff0000"/>
<ellipse cx="450.50" cy="88.80" rx="1.3" ry="2.0" fill="#ff0000"/>
<ellipse cx="446.90" cy="105.10" rx="1.1" ry="1.4" fill="#e8ff20"/>
<ellipse cx="454.10" cy="105.60" rx="1.1" ry="1.4" fill="#2cff40"/>
<ellipse cx="452.50" cy="94.60" rx="0.9" ry="0.9" fill="#e8ff20"/>
<ellipse cx="450.50" cy="108.60" rx="2.8" ry="1.2" fill="#ff0000"/>
</g></g>
<line x1="461.3" y1="84.2" x2="461.3" y2="85.8" stroke="#a8a8a8" stroke-width="0.8"/>
<clipPath id="c72"><path d="M460.1,85.0 L462.5,85.0 L462.8,87.6 C464.3,88.39999999999999 465.6,90.0 466.0,92.19999999999999 L466.2,104.1 C466.2,106.19999999999999 465.8,107.6 465.1,108.8 L457.5,108.8 C456.8,107.6 456.40000000000003,106.19999999999999 456.40000000000003,104.1 L456.6,92.19999999999999 C457.0,90.0 458.3,88.39999999999999 459.8,87.6 Z"/></clipPath>
<path d="M460.1,85.0 L462.5,85.0 L462.8,87.6 C464.3,88.39999999999999 465.6,90.0 466.0,92.19999999999999 L466.2,104.1 C466.2,106.19999999999999 465.8,107.6 465.1,108.8 L457.5,108.8 C456.8,107.6 456.40000000000003,106.19999999999999 456.40000000000003,104.1 L456.6,92.19999999999999 C457.0,90.0 458.3,88.39999999999999 459.8,87.6 Z" fill="#d4d4d4"/>
<ellipse cx="461.3" cy="98.6" rx="3.6" ry="8.8" fill="#f2f2f2"/>
<g clip-path="url(#c72)"><g filter="url(#bl)">
<ellipse cx="461.30" cy="97.60" rx="5.2" ry="12.5" fill="#2020ff"/>
<ellipse cx="461.30" cy="97.60" rx="5.0" ry="11.8" fill="#00dcff"/>
<ellipse cx="461.30" cy="97.60" rx="4.9" ry="11.2" fill="#2cff40"/>
<ellipse cx="461.30" cy="89.10" rx="2.0" ry="2.8" fill="#2cff40"/>
<ellipse cx="461.00" cy="98.60" rx="4.6" ry="8.6" fill="#ff0000"/>
<ellipse cx="461.30" cy="88.80" rx="1.3" ry="2.0" fill="#ff0000"/>
<ellipse cx="457.70" cy="105.10" rx="1.1" ry="1.4" fill="#e8ff20"/>
<ellipse cx="464.90" cy="105.60" rx="1.1" ry="1.4" fill="#2cff40"/>
<ellipse cx="463.30" cy="94.60" rx="0.9" ry="0.9" fill="#e8ff20"/>
<ellipse cx="461.30" cy="108.60" rx="2.8" ry="1.2" fill="#ff0000"/>
</g></g>
<line x1="472.5" y1="84.2" x2="472.5" y2="85.8" stroke="#a8a8a8" stroke-width="0.8"/>
<clipPath id="c73"><path d="M471.3,85.0 L473.7,85.0 L474.0,87.6 C475.5,88.39999999999999 476.8,90.0 477.2,92.19999999999999 L477.4,104.1 C477.4,106.19999999999999 477.0,107.6 476.3,108.8 L468.7,108.8 C468.0,107.6 467.6,106.19999999999999 467.6,104.1 L467.8,92.19999999999999 C468.2,90.0 469.5,88.39999999999999 471.0,87.6 Z"/></clipPath>
<path d="M471.3,85.0 L473.7,85.0 L474.0,87.6 C475.5,88.39999999999999 476.8,90.0 477.2,92.19999999999999 L477.4,104.1 C477.4,106.19999999999999 477.0,107.6 476.3,108.8 L468.7,108.8 C468.0,107.6 467.6,106.19999999999999 467.6,104.1 L467.8,92.19999999999999 C468.2,90.0 469.5,88.39999999999999 471.0,87.6 Z" fill="#d4d4d4"/>
<ellipse cx="472.5" cy="98.6" rx="3.6" ry="8.8" fill="#f2f2f2"/>
<g clip-path="url(#c73)"><g filter="url(#bl)">
<ellipse cx="472.50" cy="97.60" rx="5.2" ry="12.5" fill="#2020ff"/>
<ellipse cx="472.50" cy="97.60" rx="5.0" ry="11.8" fill="#00dcff"/>
<ellipse cx="472.50" cy="97.60" rx="4.9" ry="11.2" fill="#2cff40"/>
<ellipse cx="472.50" cy="89.10" rx="2.0" ry="2.8" fill="#2cff40"/>
<ellipse cx="472.20" cy="98.60" rx="4.6" ry="8.6" fill="#ff0000"/>
<ellipse cx="472.50" cy="88.80" rx="1.3" ry="2.0" fill="#ff0000"/>
<ellipse cx="468.90" cy="105.10" rx="1.1" ry="1.4" fill="#e8ff20"/>
<ellipse cx="476.10" cy="105.60" rx="1.1" ry="1.4" fill="#2cff40"/>
<ellipse cx="474.50" cy="94.60" rx="0.9" ry="0.9" fill="#e8ff20"/>
<ellipse cx="472.50" cy="108.60" rx="2.8" ry="1.2" fill="#ff0000"/>
</g></g>
<line x1="483.5" y1="84.2" x2="483.5" y2="85.8" stroke="#a8a8a8" stroke-width="0.8"/>
<clipPath id="c74"><path d="M482.3,85.0 L484.7,85.0 L485.0,87.6 C486.5,88.39999999999999 487.8,90.0 488.2,92.19999999999999 L488.4,104.1 C488.4,106.19999999999999 488.0,107.6 487.3,108.8 L479.7,108.8 C479.0,107.6 478.6,106.19999999999999 478.6,104.1 L478.8,92.19999999999999 C479.2,90.0 480.5,88.39999999999999 482.0,87.6 Z"/></clipPath>
<path d="M482.3,85.0 L484.7,85.0 L485.0,87.6 C486.5,88.39999999999999 487.8,90.0 488.2,92.19999999999999 L488.4,104.1 C488.4,106.19999999999999 488.0,107.6 487.3,108.8 L479.7,108.8 C479.0,107.6 478.6,106.19999999999999 478.6,104.1 L478.8,92.19999999999999 C479.2,90.0 480.5,88.39999999999999 482.0,87.6 Z" fill="#d4d4d4"/>
<ellipse cx="483.5" cy="98.6" rx="3.6" ry="8.8" fill="#f2f2f2"/>
<g clip-path="url(#c74)"><g filter="url(#bl)">
<ellipse cx="483.50" cy="98.10" rx="5" ry="11.5" fill="#2020ff"/>
<ellipse cx="483.50" cy="95.60" rx="4.2" ry="6.5" fill="#00dcff"/>
<ellipse cx="483.50" cy="95.10" rx="3.6" ry="4.5" fill="#2cff40"/>
<ellipse cx="483.00" cy="96.60" rx="2.0" ry="1.5" fill="#ff0000"/>
<ellipse cx="483.50" cy="89.10" rx="1.6" ry="2.2" fill="#2cff40"/>
<ellipse cx="483.50" cy="104.60" rx="4" ry="3" fill="#2020ff"/>
<ellipse cx="483.50" cy="109.00" rx="3" ry="1.0" fill="#00dcff"/>
</g></g>
<line x1="495.09999999999997" y1="84.2" x2="495.09999999999997" y2="85.8" stroke="#a8a8a8" stroke-width="0.8"/>
<clipPath id="c75"><path d="M493.9,85.0 L496.29999999999995,85.0 L496.59999999999997,87.6 C498.09999999999997,88.39999999999999 499.4,90.0 499.79999999999995,92.19999999999999 L499.99999999999994,104.1 C499.99999999999994,106.19999999999999 499.59999999999997,107.6 498.9,108.8 L491.29999999999995,108.8 C490.59999999999997,107.6 490.2,106.19999999999999 490.2,104.1 L490.4,92.19999999999999 C490.79999999999995,90.0 492.09999999999997,88.39999999999999 493.59999999999997,87.6 Z"/></clipPath>
<path d="M493.9,85.0 L496.29999999999995,85.0 L496.59999999999997,87.6 C498.09999999999997,88.39999999999999 499.4,90.0 499.79999999999995,92.19999999999999 L499.99999999999994,104.1 C499.99999999999994,106.19999999999999 499.59999999999997,107.6 498.9,108.8 L491.29999999999995,108.8 C490.59999999999997,107.6 490.2,106.19999999999999 490.2,104.1 L490.4,92.19999999999999 C490.79999999999995,90.0 492.09999999999997,88.39999999999999 493.59999999999997,87.6 Z" fill="#d4d4d4"/>
<ellipse cx="495.09999999999997" cy="98.6" rx="3.6" ry="8.8" fill="#f2f2f2"/>
<g clip-path="url(#c75)"><g filter="url(#bl)">
<ellipse cx="495.10" cy="95.60" rx="4.8" ry="9" fill="#2020ff"/>
<ellipse cx="495.10" cy="89.60" rx="2.0" ry="3" fill="#9468ff"/>
<ellipse cx="495.10" cy="95.60" rx="2.2" ry="1.5" fill="#00dcff"/>
<ellipse cx="495.10" cy="105.10" rx="3.8" ry="2.5" fill="#f0eaff"/>
<ellipse cx="493.10" cy="105.60" rx="1.3" ry="1.3" fill="#9468ff"/>
</g></g>
</g>
<rect x="203.3" y="112.0" width="57.0" height="26.2" fill="#151515"/>
<g filter="url(#bl2)">
<rect x="203.90" y="112.5" width="0.9" height="25.2" fill="#3c3c3c"/><rect x="209.50" y="112.5" width="0.9" height="25.2" fill="#3c3c3c"/><rect x="215.10" y="112.5" width="0.9" height="25.2" fill="#3c3c3c"/><rect x="220.70" y="112.5" width="0.9" height="25.2" fill="#3c3c3c"/><rect x="226.30" y="112.5" width="0.9" height="25.2" fill="#3c3c3c"/><rect x="231.90" y="112.5" width="0.9" height="25.2" fill="#3c3c3c"/><rect x="237.50" y="112.5" width="0.9" height="25.2" fill="#3c3c3c"/><rect x="243.10" y="112.5" width="0.9" height="25.2" fill="#3c3c3c"/><rect x="248.70" y="112.5" width="0.9" height="25.2" fill="#3c3c3c"/><rect x="254.30" y="112.5" width="0.9" height="25.2" fill="#3c3c3c"/>
<line x1="208.8" y1="112.2" x2="208.8" y2="113.8" stroke="#a8a8a8" stroke-width="0.8"/>
<clipPath id="c76"><path d="M207.60000000000002,113.0 L210.0,113.0 L210.3,115.6 C211.8,116.39999999999999 213.10000000000002,118.0 213.5,120.19999999999999 L213.70000000000002,132.1 C213.70000000000002,134.2 213.3,135.6 212.60000000000002,136.79999999999998 L205.0,136.79999999999998 C204.3,135.6 203.9,134.2 203.9,132.1 L204.10000000000002,120.19999999999999 C204.5,118.0 205.8,116.39999999999999 207.3,115.6 Z"/></clipPath>
<path d="M207.60000000000002,113.0 L210.0,113.0 L210.3,115.6 C211.8,116.39999999999999 213.10000000000002,118.0 213.5,120.19999999999999 L213.70000000000002,132.1 C213.70000000000002,134.2 213.3,135.6 212.60000000000002,136.79999999999998 L205.0,136.79999999999998 C204.3,135.6 203.9,134.2 203.9,132.1 L204.10000000000002,120.19999999999999 C204.5,118.0 205.8,116.39999999999999 207.3,115.6 Z" fill="#d4d4d4"/>
<ellipse cx="208.8" cy="126.6" rx="3.6" ry="8.8" fill="#f2f2f2"/>
<g clip-path="url(#c76)"><g filter="url(#bl)">
<polygon points="208.80,112.88 211.77,116.59 213.99,121.89 213.78,127.19 211.87,132.49 210.18,138.11 207.42,138.11 205.73,132.49 203.82,127.19 203.61,121.89 205.83,116.59" fill="#9468ff"/>
<polygon points="208.80,114.80 211.32,117.95 213.21,122.45 213.03,126.95 211.41,131.45 209.97,136.22 207.63,136.22 206.19,131.45 204.57,126.95 204.39,122.45 206.28,117.95" fill="#2020ff"/>
<ellipse cx="204.60" cy="134.10" rx="1.1" ry="2.2" fill="#f0eaff"/>
<ellipse cx="213.00" cy="134.10" rx="1.1" ry="2.2" fill="#f0eaff"/>
<ellipse cx="205.00" cy="137.20" rx="1.0" ry="0.8" fill="#2020ff"/>
<ellipse cx="212.60" cy="137.20" rx="1.0" ry="0.8" fill="#2020ff"/>
<ellipse cx="208.80" cy="124.40" rx="3.6" ry="2.9" fill="#00dcff"/>
<ellipse cx="208.50" cy="124.40" rx="2.3" ry="1.8" fill="#2cff40"/>
</g></g>
<line x1="219.9" y1="112.2" x2="219.9" y2="113.8" stroke="#a8a8a8" stroke-width="0.8"/>
<clipPath id="c77"><path d="M218.70000000000002,113.0 L221.1,113.0 L221.4,115.6 C222.9,116.39999999999999 224.20000000000002,118.0 224.6,120.19999999999999 L224.8,132.1 C224.8,134.2 224.4,135.6 223.70000000000002,136.79999999999998 L216.1,136.79999999999998 C215.4,135.6 215.0,134.2 215.0,132.1 L215.20000000000002,120.19999999999999 C215.6,118.0 216.9,116.39999999999999 218.4,115.6 Z"/></clipPath>
<path d="M218.70000000000002,113.0 L221.1,113.0 L221.4,115.6 C222.9,116.39999999999999 224.20000000000002,118.0 224.6,120.19999999999999 L224.8,132.1 C224.8,134.2 224.4,135.6 223.70000000000002,136.79999999999998 L216.1,136.79999999999998 C215.4,135.6 215.0,134.2 215.0,132.1 L215.20000000000002,120.19999999999999 C215.6,118.0 216.9,116.39999999999999 218.4,115.6 Z" fill="#d4d4d4"/>
<ellipse cx="219.9" cy="126.6" rx="3.6" ry="8.8" fill="#f2f2f2"/>
<g clip-path="url(#c77)"><g filter="url(#bl)">
<polygon points="219.90,112.88 222.87,116.59 225.09,121.89 224.88,127.19 222.97,132.49 221.28,138.11 218.52,138.11 216.83,132.49 214.92,127.19 214.71,121.89 216.93,116.59" fill="#9468ff"/>
<polygon points="219.90,114.80 222.42,117.95 224.31,122.45 224.13,126.95 222.51,131.45 221.07,136.22 218.73,136.22 217.29,131.45 215.67,126.95 215.49,122.45 217.38,117.95" fill="#2020ff"/>
<ellipse cx="215.70" cy="134.10" rx="1.1" ry="2.2" fill="#f0eaff"/>
<ellipse cx="224.10" cy="134.10" rx="1.1" ry="2.2" fill="#f0eaff"/>
<ellipse cx="216.10" cy="137.20" rx="1.0" ry="0.8" fill="#2020ff"/>
<ellipse cx="223.70" cy="137.20" rx="1.0" ry="0.8" fill="#2020ff"/>
<ellipse cx="219.90" cy="124.40" rx="3.6" ry="2.9" fill="#00dcff"/>
<ellipse cx="219.60" cy="124.40" rx="2.3" ry="1.8" fill="#2cff40"/>
</g></g>
<line x1="231.10000000000002" y1="112.2" x2="231.10000000000002" y2="113.8" stroke="#a8a8a8" stroke-width="0.8"/>
<clipPath id="c78"><path d="M229.90000000000003,113.0 L232.3,113.0 L232.60000000000002,115.6 C234.10000000000002,116.39999999999999 235.40000000000003,118.0 235.8,120.19999999999999 L236.00000000000003,132.1 C236.00000000000003,134.2 235.60000000000002,135.6 234.90000000000003,136.79999999999998 L227.3,136.79999999999998 C226.60000000000002,135.6 226.20000000000002,134.2 226.20000000000002,132.1 L226.40000000000003,120.19999999999999 C226.8,118.0 228.10000000000002,116.39999999999999 229.60000000000002,115.6 Z"/></clipPath>
<path d="M229.90000000000003,113.0 L232.3,113.0 L232.60000000000002,115.6 C234.10000000000002,116.39999999999999 235.40000000000003,118.0 235.8,120.19999999999999 L236.00000000000003,132.1 C236.00000000000003,134.2 235.60000000000002,135.6 234.90000000000003,136.79999999999998 L227.3,136.79999999999998 C226.60000000000002,135.6 226.20000000000002,134.2 226.20000000000002,132.1 L226.40000000000003,120.19999999999999 C226.8,118.0 228.10000000000002,116.39999999999999 229.60000000000002,115.6 Z" fill="#d4d4d4"/>
<ellipse cx="231.10000000000002" cy="126.6" rx="3.6" ry="8.8" fill="#f2f2f2"/>
<g clip-path="url(#c78)"><g filter="url(#bl)">
<polygon points="231.10,112.88 234.07,116.59 236.29,121.89 236.08,127.19 234.17,132.49 232.48,138.11 229.72,138.11 228.03,132.49 226.12,127.19 225.91,121.89 228.13,116.59" fill="#9468ff"/>
<polygon points="231.10,114.80 233.62,117.95 235.51,122.45 235.33,126.95 233.71,131.45 232.27,136.22 229.93,136.22 228.49,131.45 226.87,126.95 226.69,122.45 228.58,117.95" fill="#2020ff"/>
<ellipse cx="226.90" cy="134.10" rx="1.1" ry="2.2" fill="#f0eaff"/>
<ellipse cx="235.30" cy="134.10" rx="1.1" ry="2.2" fill="#f0eaff"/>
<ellipse cx="227.30" cy="137.20" rx="1.0" ry="0.8" fill="#2020ff"/>
<ellipse cx="234.90" cy="137.20" rx="1.0" ry="0.8" fill="#2020ff"/>
<ellipse cx="231.10" cy="124.40" rx="3.6" ry="2.9" fill="#00dcff"/>
<ellipse cx="230.80" cy="124.40" rx="2.3" ry="1.8" fill="#2cff40"/>
</g></g>
<line x1="242.4" y1="112.2" x2="242.4" y2="113.8" stroke="#a8a8a8" stroke-width="0.8"/>
<clipPath id="c79"><path d="M241.20000000000002,113.0 L243.6,113.0 L243.9,115.6 C245.4,116.39999999999999 246.70000000000002,118.0 247.1,120.19999999999999 L247.3,132.1 C247.3,134.2 246.9,135.6 246.20000000000002,136.79999999999998 L238.6,136.79999999999998 C237.9,135.6 237.5,134.2 237.5,132.1 L237.70000000000002,120.19999999999999 C238.1,118.0 239.4,116.39999999999999 240.9,115.6 Z"/></clipPath>
<path d="M241.20000000000002,113.0 L243.6,113.0 L243.9,115.6 C245.4,116.39999999999999 246.70000000000002,118.0 247.1,120.19999999999999 L247.3,132.1 C247.3,134.2 246.9,135.6 246.20000000000002,136.79999999999998 L238.6,136.79999999999998 C237.9,135.6 237.5,134.2 237.5,132.1 L237.70000000000002,120.19999999999999 C238.1,118.0 239.4,116.39999999999999 240.9,115.6 Z" fill="#d4d4d4"/>
<ellipse cx="242.4" cy="126.6" rx="3.6" ry="8.8" fill="#f2f2f2"/>
<g clip-path="url(#c79)"><g filter="url(#bl)">
<polygon points="242.40,112.88 245.37,116.59 247.59,121.89 247.38,127.19 245.47,132.49 243.78,138.11 241.02,138.11 239.33,132.49 237.42,127.19 237.21,121.89 239.43,116.59" fill="#9468ff"/>
<polygon points="242.40,114.80 244.92,117.95 246.81,122.45 246.63,126.95 245.01,131.45 243.57,136.22 241.23,136.22 239.79,131.45 238.17,126.95 237.99,122.45 239.88,117.95" fill="#2020ff"/>
<ellipse cx="238.20" cy="134.10" rx="1.1" ry="2.2" fill="#f0eaff"/>
<ellipse cx="246.60" cy="134.10" rx="1.1" ry="2.2" fill="#f0eaff"/>
<ellipse cx="238.60" cy="137.20" rx="1.0" ry="0.8" fill="#2020ff"/>
<ellipse cx="246.20" cy="137.20" rx="1.0" ry="0.8" fill="#2020ff"/>
<ellipse cx="242.40" cy="124.60" rx="3.7" ry="3.0" fill="#00dcff"/>
<ellipse cx="242.40" cy="124.60" rx="2.6" ry="2.0" fill="#2cff40"/>
<ellipse cx="241.10" cy="125.10" rx="1.0" ry="0.9" fill="#ff0000"/>
</g></g>
<line x1="253.9" y1="112.2" x2="253.9" y2="113.8" stroke="#a8a8a8" stroke-width="0.8"/>
<clipPath id="c80"><path d="M252.70000000000002,113.0 L255.1,113.0 L255.4,115.6 C256.9,116.39999999999999 258.2,118.0 258.6,120.19999999999999 L258.8,132.1 C258.8,134.2 258.4,135.6 257.7,136.79999999999998 L250.1,136.79999999999998 C249.4,135.6 249.0,134.2 249.0,132.1 L249.20000000000002,120.19999999999999 C249.6,118.0 250.9,116.39999999999999 252.4,115.6 Z"/></clipPath>
<path d="M252.70000000000002,113.0 L255.1,113.0 L255.4,115.6 C256.9,116.39999999999999 258.2,118.0 258.6,120.19999999999999 L258.8,132.1 C258.8,134.2 258.4,135.6 257.7,136.79999999999998 L250.1,136.79999999999998 C249.4,135.6 249.0,134.2 249.0,132.1 L249.20000000000002,120.19999999999999 C249.6,118.0 250.9,116.39999999999999 252.4,115.6 Z" fill="#d4d4d4"/>
<ellipse cx="253.9" cy="126.6" rx="3.6" ry="8.8" fill="#f2f2f2"/>
<g clip-path="url(#c80)"><g filter="url(#bl)">
<polygon points="253.90,112.88 256.87,116.59 259.09,121.89 258.88,127.19 256.97,132.49 255.28,138.11 252.52,138.11 250.83,132.49 248.92,127.19 248.71,121.89 250.93,116.59" fill="#9468ff"/>
<polygon points="253.90,114.80 256.42,117.95 258.31,122.45 258.13,126.95 256.51,131.45 255.07,136.22 252.73,136.22 251.29,131.45 249.67,126.95 249.49,122.45 251.38,117.95" fill="#2020ff"/>
<ellipse cx="249.70" cy="134.10" rx="1.1" ry="2.2" fill="#f0eaff"/>
<ellipse cx="258.10" cy="134.10" rx="1.1" ry="2.2" fill="#f0eaff"/>
<ellipse cx="250.10" cy="137.20" rx="1.0" ry="0.8" fill="#2020ff"/>
<ellipse cx="257.70" cy="137.20" rx="1.0" ry="0.8" fill="#2020ff"/>
<ellipse cx="253.90" cy="124.40" rx="3.6" ry="2.9" fill="#00dcff"/>
<ellipse cx="253.60" cy="124.40" rx="2.3" ry="1.8" fill="#2cff40"/>
</g></g>
</g>
<rect x="262.2" y="112.0" width="57.0" height="26.2" fill="#151515"/>
<g filter="url(#bl2)">
<rect x="262.80" y="112.5" width="0.9" height="25.2" fill="#3c3c3c"/><rect x="268.40" y="112.5" width="0.9" height="25.2" fill="#3c3c3c"/><rect x="274.00" y="112.5" width="0.9" height="25.2" fill="#3c3c3c"/><rect x="279.60" y="112.5" width="0.9" height="25.2" fill="#3c3c3c"/><rect x="285.20" y="112.5" width="0.9" height="25.2" fill="#3c3c3c"/><rect x="290.80" y="112.5" width="0.9" height="25.2" fill="#3c3c3c"/><rect x="296.40" y="112.5" width="0.9" height="25.2" fill="#3c3c3c"/><rect x="302.00" y="112.5" width="0.9" height="25.2" fill="#3c3c3c"/><rect x="307.60" y="112.5" width="0.9" height="25.2" fill="#3c3c3c"/><rect x="313.20" y="112.5" width="0.9" height="25.2" fill="#3c3c3c"/>
<line x1="268.0" y1="112.2" x2="268.0" y2="113.8" stroke="#a8a8a8" stroke-width="0.8"/>
<clipPath id="c81"><path d="M266.8,113.0 L269.2,113.0 L269.5,115.6 C271.0,116.39999999999999 272.3,118.0 272.7,120.19999999999999 L272.9,132.1 C272.9,134.2 272.5,135.6 271.8,136.79999999999998 L264.2,136.79999999999998 C263.5,135.6 263.1,134.2 263.1,132.1 L263.3,120.19999999999999 C263.7,118.0 265.0,116.39999999999999 266.5,115.6 Z"/></clipPath>
<path d="M266.8,113.0 L269.2,113.0 L269.5,115.6 C271.0,116.39999999999999 272.3,118.0 272.7,120.19999999999999 L272.9,132.1 C272.9,134.2 272.5,135.6 271.8,136.79999999999998 L264.2,136.79999999999998 C263.5,135.6 263.1,134.2 263.1,132.1 L263.3,120.19999999999999 C263.7,118.0 265.0,116.39999999999999 266.5,115.6 Z" fill="#d4d4d4"/>
<ellipse cx="268.0" cy="126.6" rx="3.6" ry="8.8" fill="#f2f2f2"/>
<g clip-path="url(#c81)"><g filter="url(#bl)">
<ellipse cx="268.00" cy="125.60" rx="5.2" ry="12.5" fill="#2020ff"/>
<ellipse cx="268.00" cy="125.10" rx="4.5" ry="10.8" fill="#00dcff"/>
<ellipse cx="268.00" cy="125.40" rx="4.1" ry="9.8" fill="#2cff40"/>
<ellipse cx="268.00" cy="117.20" rx="1.7" ry="2.3" fill="#00dcff"/>
<ellipse cx="268.00" cy="117.00" rx="0.9" ry="1.2" fill="#2cff40"/>
<ellipse cx="267.60" cy="127.10" rx="3.9" ry="7.0" fill="#ff0000"/>
<ellipse cx="264.20" cy="133.60" rx="1.0" ry="1.4" fill="#e8ff20"/>
<ellipse cx="268.00" cy="137.00" rx="2.5" ry="1.0" fill="#00dcff"/>
</g></g>
<line x1="279.2" y1="112.2" x2="279.2" y2="113.8" stroke="#a8a8a8" stroke-width="0.8"/>
<clipPath id="c82"><path d="M278.0,113.0 L280.4,113.0 L280.7,115.6 C282.2,116.39999999999999 283.5,118.0 283.9,120.19999999999999 L284.09999999999997,132.1 C284.09999999999997,134.2 283.7,135.6 283.0,136.79999999999998 L275.4,136.79999999999998 C274.7,135.6 274.3,134.2 274.3,132.1 L274.5,120.19999999999999 C274.9,118.0 276.2,116.39999999999999 277.7,115.6 Z"/></clipPath>
<path d="M278.0,113.0 L280.4,113.0 L280.7,115.6 C282.2,116.39999999999999 283.5,118.0 283.9,120.19999999999999 L284.09999999999997,132.1 C284.09999999999997,134.2 283.7,135.6 283.0,136.79999999999998 L275.4,136.79999999999998 C274.7,135.6 274.3,134.2 274.3,132.1 L274.5,120.19999999999999 C274.9,118.0 276.2,116.39999999999999 277.7,115.6 Z" fill="#d4d4d4"/>
<ellipse cx="279.2" cy="126.6" rx="3.6" ry="8.8" fill="#f2f2f2"/>
<g clip-path="url(#c82)"><g filter="url(#bl)">
<ellipse cx="279.20" cy="125.60" rx="5.2" ry="12.5" fill="#2020ff"/>
<ellipse cx="279.20" cy="125.10" rx="4.5" ry="10.8" fill="#00dcff"/>
<ellipse cx="279.20" cy="125.40" rx="4.1" ry="9.8" fill="#2cff40"/>
<ellipse cx="279.20" cy="117.20" rx="1.7" ry="2.3" fill="#00dcff"/>
<ellipse cx="279.20" cy="117.00" rx="0.9" ry="1.2" fill="#2cff40"/>
<ellipse cx="278.80" cy="127.10" rx="3.9" ry="7.0" fill="#ff0000"/>
<ellipse cx="275.40" cy="133.60" rx="1.0" ry="1.4" fill="#e8ff20"/>
<ellipse cx="279.20" cy="137.00" rx="2.5" ry="1.0" fill="#00dcff"/>
</g></g>
<line x1="290.09999999999997" y1="112.2" x2="290.09999999999997" y2="113.8" stroke="#a8a8a8" stroke-width="0.8"/>
<clipPath id="c83"><path d="M288.9,113.0 L291.29999999999995,113.0 L291.59999999999997,115.6 C293.09999999999997,116.39999999999999 294.4,118.0 294.79999999999995,120.19999999999999 L294.99999999999994,132.1 C294.99999999999994,134.2 294.59999999999997,135.6 293.9,136.79999999999998 L286.29999999999995,136.79999999999998 C285.59999999999997,135.6 285.2,134.2 285.2,132.1 L285.4,120.19999999999999 C285.79999999999995,118.0 287.09999999999997,116.39999999999999 288.59999999999997,115.6 Z"/></clipPath>
<path d="M288.9,113.0 L291.29999999999995,113.0 L291.59999999999997,115.6 C293.09999999999997,116.39999999999999 294.4,118.0 294.79999999999995,120.19999999999999 L294.99999999999994,132.1 C294.99999999999994,134.2 294.59999999999997,135.6 293.9,136.79999999999998 L286.29999999999995,136.79999999999998 C285.59999999999997,135.6 285.2,134.2 285.2,132.1 L285.4,120.19999999999999 C285.79999999999995,118.0 287.09999999999997,116.39999999999999 288.59999999999997,115.6 Z" fill="#d4d4d4"/>
<ellipse cx="290.09999999999997" cy="126.6" rx="3.6" ry="8.8" fill="#f2f2f2"/>
<g clip-path="url(#c83)"><g filter="url(#bl)">
<ellipse cx="290.10" cy="125.60" rx="5.2" ry="12.5" fill="#2020ff"/>
<ellipse cx="290.10" cy="125.10" rx="4.5" ry="10.8" fill="#00dcff"/>
<ellipse cx="290.10" cy="125.40" rx="4.1" ry="9.8" fill="#2cff40"/>
<ellipse cx="290.10" cy="117.20" rx="1.7" ry="2.3" fill="#00dcff"/>
<ellipse cx="290.10" cy="117.00" rx="0.9" ry="1.2" fill="#2cff40"/>
<ellipse cx="289.70" cy="127.10" rx="3.9" ry="7.0" fill="#ff0000"/>
<ellipse cx="286.30" cy="133.60" rx="1.0" ry="1.4" fill="#e8ff20"/>
<ellipse cx="290.10" cy="137.00" rx="2.5" ry="1.0" fill="#00dcff"/>
</g></g>
<line x1="301.09999999999997" y1="112.2" x2="301.09999999999997" y2="113.8" stroke="#a8a8a8" stroke-width="0.8"/>
<clipPath id="c84"><path d="M299.9,113.0 L302.29999999999995,113.0 L302.59999999999997,115.6 C304.09999999999997,116.39999999999999 305.4,118.0 305.79999999999995,120.19999999999999 L305.99999999999994,132.1 C305.99999999999994,134.2 305.59999999999997,135.6 304.9,136.79999999999998 L297.29999999999995,136.79999999999998 C296.59999999999997,135.6 296.2,134.2 296.2,132.1 L296.4,120.19999999999999 C296.79999999999995,118.0 298.09999999999997,116.39999999999999 299.59999999999997,115.6 Z"/></clipPath>
<path d="M299.9,113.0 L302.29999999999995,113.0 L302.59999999999997,115.6 C304.09999999999997,116.39999999999999 305.4,118.0 305.79999999999995,120.19999999999999 L305.99999999999994,132.1 C305.99999999999994,134.2 305.59999999999997,135.6 304.9,136.79999999999998 L297.29999999999995,136.79999999999998 C296.59999999999997,135.6 296.2,134.2 296.2,132.1 L296.4,120.19999999999999 C296.79999999999995,118.0 298.09999999999997,116.39999999999999 299.59999999999997,115.6 Z" fill="#d4d4d4"/>
<ellipse cx="301.09999999999997" cy="126.6" rx="3.6" ry="8.8" fill="#f2f2f2"/>
<g clip-path="url(#c84)"><g filter="url(#bl)">
<ellipse cx="301.10" cy="125.10" rx="5.2" ry="12.5" fill="#2cff40"/>
<ellipse cx="301.10" cy="125.60" rx="5.1" ry="12.5" fill="#ff0000"/>
<ellipse cx="301.10" cy="137.10" rx="3.5" ry="1.2" fill="#ff0000"/>
</g></g>
<line x1="312.0" y1="112.2" x2="312.0" y2="113.8" stroke="#a8a8a8" stroke-width="0.8"/>
<clipPath id="c85"><path d="M310.8,113.0 L313.2,113.0 L313.5,115.6 C315.0,116.39999999999999 316.3,118.0 316.7,120.19999999999999 L316.9,132.1 C316.9,134.2 316.5,135.6 315.8,136.79999999999998 L308.2,136.79999999999998 C307.5,135.6 307.1,134.2 307.1,132.1 L307.3,120.19999999999999 C307.7,118.0 309.0,116.39999999999999 310.5,115.6 Z"/></clipPath>
<path d="M310.8,113.0 L313.2,113.0 L313.5,115.6 C315.0,116.39999999999999 316.3,118.0 316.7,120.19999999999999 L316.9,132.1 C316.9,134.2 316.5,135.6 315.8,136.79999999999998 L308.2,136.79999999999998 C307.5,135.6 307.1,134.2 307.1,132.1 L307.3,120.19999999999999 C307.7,118.0 309.0,116.39999999999999 310.5,115.6 Z" fill="#d4d4d4"/>
<ellipse cx="312.0" cy="126.6" rx="3.6" ry="8.8" fill="#f2f2f2"/>
<g clip-path="url(#c85)"><g filter="url(#bl)">
<ellipse cx="312.00" cy="125.60" rx="5.2" ry="12.5" fill="#2020ff"/>
<ellipse cx="312.00" cy="125.10" rx="4.5" ry="10.8" fill="#00dcff"/>
<ellipse cx="312.00" cy="125.40" rx="4.1" ry="9.8" fill="#2cff40"/>
<ellipse cx="312.00" cy="117.20" rx="1.7" ry="2.3" fill="#00dcff"/>
<ellipse cx="312.00" cy="117.00" rx="0.9" ry="1.2" fill="#2cff40"/>
<ellipse cx="311.60" cy="127.10" rx="3.9" ry="7.0" fill="#ff0000"/>
<ellipse cx="308.20" cy="133.60" rx="1.0" ry="1.4" fill="#e8ff20"/>
<ellipse cx="312.00" cy="137.00" rx="2.5" ry="1.0" fill="#00dcff"/>
</g></g>
</g>
<rect x="321.0" y="112.0" width="57.0" height="26.2" fill="#151515"/>
<g filter="url(#bl2)">
<rect x="321.60" y="112.5" width="0.9" height="25.2" fill="#3c3c3c"/><rect x="327.20" y="112.5" width="0.9" height="25.2" fill="#3c3c3c"/><rect x="332.80" y="112.5" width="0.9" height="25.2" fill="#3c3c3c"/><rect x="338.40" y="112.5" width="0.9" height="25.2" fill="#3c3c3c"/><rect x="344.00" y="112.5" width="0.9" height="25.2" fill="#3c3c3c"/><rect x="349.60" y="112.5" width="0.9" height="25.2" fill="#3c3c3c"/><rect x="355.20" y="112.5" width="0.9" height="25.2" fill="#3c3c3c"/><rect x="360.80" y="112.5" width="0.9" height="25.2" fill="#3c3c3c"/><rect x="366.40" y="112.5" width="0.9" height="25.2" fill="#3c3c3c"/><rect x="372.00" y="112.5" width="0.9" height="25.2" fill="#3c3c3c"/>
<line x1="327.3" y1="112.2" x2="327.3" y2="113.8" stroke="#a8a8a8" stroke-width="0.8"/>
<clipPath id="c86"><path d="M326.1,113.0 L328.5,113.0 L328.8,115.6 C330.3,116.39999999999999 331.6,118.0 332.0,120.19999999999999 L332.2,132.1 C332.2,134.2 331.8,135.6 331.1,136.79999999999998 L323.5,136.79999999999998 C322.8,135.6 322.40000000000003,134.2 322.40000000000003,132.1 L322.6,120.19999999999999 C323.0,118.0 324.3,116.39999999999999 325.8,115.6 Z"/></clipPath>
<path d="M326.1,113.0 L328.5,113.0 L328.8,115.6 C330.3,116.39999999999999 331.6,118.0 332.0,120.19999999999999 L332.2,132.1 C332.2,134.2 331.8,135.6 331.1,136.79999999999998 L323.5,136.79999999999998 C322.8,135.6 322.40000000000003,134.2 322.40000000000003,132.1 L322.6,120.19999999999999 C323.0,118.0 324.3,116.39999999999999 325.8,115.6 Z" fill="#d4d4d4"/>
<ellipse cx="327.3" cy="126.6" rx="3.6" ry="8.8" fill="#f2f2f2"/>
<g clip-path="url(#c86)"><g filter="url(#bl)">
<ellipse cx="327.30" cy="125.60" rx="5.2" ry="12.5" fill="#2020ff"/>
<ellipse cx="327.30" cy="125.60" rx="5.0" ry="11.8" fill="#00dcff"/>
<ellipse cx="327.30" cy="125.60" rx="4.9" ry="11.2" fill="#2cff40"/>
<ellipse cx="327.30" cy="117.10" rx="2.0" ry="2.8" fill="#2cff40"/>
<ellipse cx="327.00" cy="126.60" rx="4.6" ry="8.6" fill="#ff0000"/>
<ellipse cx="327.30" cy="116.80" rx="1.3" ry="2.0" fill="#ff0000"/>
<ellipse cx="323.70" cy="133.10" rx="1.1" ry="1.4" fill="#e8ff20"/>
<ellipse cx="330.90" cy="133.60" rx="1.1" ry="1.4" fill="#2cff40"/>
<ellipse cx="329.30" cy="122.60" rx="0.9" ry="0.9" fill="#e8ff20"/>
<ellipse cx="327.30" cy="136.60" rx="2.8" ry="1.2" fill="#ff0000"/>
</g></g>
<line x1="338.5" y1="112.2" x2="338.5" y2="113.8" stroke="#a8a8a8" stroke-width="0.8"/>
<clipPath id="c87"><path d="M337.3,113.0 L339.7,113.0 L340.0,115.6 C341.5,116.39999999999999 342.8,118.0 343.2,120.19999999999999 L343.4,132.1 C343.4,134.2 343.0,135.6 342.3,136.79999999999998 L334.7,136.79999999999998 C334.0,135.6 333.6,134.2 333.6,132.1 L333.8,120.19999999999999 C334.2,118.0 335.5,116.39999999999999 337.0,115.6 Z"/></clipPath>
<path d="M337.3,113.0 L339.7,113.0 L340.0,115.6 C341.5,116.39999999999999 342.8,118.0 343.2,120.19999999999999 L343.4,132.1 C343.4,134.2 343.0,135.6 342.3,136.79999999999998 L334.7,136.79999999999998 C334.0,135.6 333.6,134.2 333.6,132.1 L333.8,120.19999999999999 C334.2,118.0 335.5,116.39999999999999 337.0,115.6 Z" fill="#d4d4d4"/>
<ellipse cx="338.5" cy="126.6" rx="3.6" ry="8.8" fill="#f2f2f2"/>
<g clip-path="url(#c87)"><g filter="url(#bl)">
<ellipse cx="338.50" cy="125.60" rx="5.2" ry="12.5" fill="#2020ff"/>
<ellipse cx="338.50" cy="125.60" rx="5.0" ry="11.8" fill="#00dcff"/>
<ellipse cx="338.50" cy="125.60" rx="4.9" ry="11.2" fill="#2cff40"/>
<ellipse cx="338.50" cy="117.10" rx="2.0" ry="2.8" fill="#2cff40"/>
<ellipse cx="338.20" cy="126.60" rx="4.6" ry="8.6" fill="#ff0000"/>
<ellipse cx="338.50" cy="116.80" rx="1.3" ry="2.0" fill="#ff0000"/>
<ellipse cx="334.90" cy="133.10" rx="1.1" ry="1.4" fill="#e8ff20"/>
<ellipse cx="342.10" cy="133.60" rx="1.1" ry="1.4" fill="#2cff40"/>
<ellipse cx="340.50" cy="122.60" rx="0.9" ry="0.9" fill="#e8ff20"/>
<ellipse cx="338.50" cy="136.60" rx="2.8" ry="1.2" fill="#ff0000"/>
</g></g>
<line x1="349.2" y1="112.2" x2="349.2" y2="113.8" stroke="#a8a8a8" stroke-width="0.8"/>
<clipPath id="c88"><path d="M348.0,113.0 L350.4,113.0 L350.7,115.6 C352.2,116.39999999999999 353.5,118.0 353.9,120.19999999999999 L354.09999999999997,132.1 C354.09999999999997,134.2 353.7,135.6 353.0,136.79999999999998 L345.4,136.79999999999998 C344.7,135.6 344.3,134.2 344.3,132.1 L344.5,120.19999999999999 C344.9,118.0 346.2,116.39999999999999 347.7,115.6 Z"/></clipPath>
<path d="M348.0,113.0 L350.4,113.0 L350.7,115.6 C352.2,116.39999999999999 353.5,118.0 353.9,120.19999999999999 L354.09999999999997,132.1 C354.09999999999997,134.2 353.7,135.6 353.0,136.79999999999998 L345.4,136.79999999999998 C344.7,135.6 344.3,134.2 344.3,132.1 L344.5,120.19999999999999 C344.9,118.0 346.2,116.39999999999999 347.7,115.6 Z" fill="#d4d4d4"/>
<ellipse cx="349.2" cy="126.6" rx="3.6" ry="8.8" fill="#f2f2f2"/>
<g clip-path="url(#c88)"><g filter="url(#bl)">
<ellipse cx="349.20" cy="125.60" rx="5.2" ry="12.5" fill="#2020ff"/>
<ellipse cx="349.20" cy="125.60" rx="5.0" ry="11.8" fill="#00dcff"/>
<ellipse cx="349.20" cy="125.60" rx="4.9" ry="11.2" fill="#2cff40"/>
<ellipse cx="349.20" cy="117.10" rx="2.0" ry="2.8" fill="#2cff40"/>
<ellipse cx="348.90" cy="126.60" rx="4.6" ry="8.6" fill="#ff0000"/>
<ellipse cx="349.20" cy="116.80" rx="1.3" ry="2.0" fill="#ff0000"/>
<ellipse cx="345.60" cy="133.10" rx="1.1" ry="1.4" fill="#e8ff20"/>
<ellipse cx="352.80" cy="133.60" rx="1.1" ry="1.4" fill="#2cff40"/>
<ellipse cx="351.20" cy="122.60" rx="0.9" ry="0.9" fill="#e8ff20"/>
<ellipse cx="349.20" cy="136.60" rx="2.8" ry="1.2" fill="#ff0000"/>
</g></g>
<line x1="360.3" y1="112.2" x2="360.3" y2="113.8" stroke="#a8a8a8" stroke-width="0.8"/>
<clipPath id="c89"><path d="M359.1,113.0 L361.5,113.0 L361.8,115.6 C363.3,116.39999999999999 364.6,118.0 365.0,120.19999999999999 L365.2,132.1 C365.2,134.2 364.8,135.6 364.1,136.79999999999998 L356.5,136.79999999999998 C355.8,135.6 355.40000000000003,134.2 355.40000000000003,132.1 L355.6,120.19999999999999 C356.0,118.0 357.3,116.39999999999999 358.8,115.6 Z"/></clipPath>
<path d="M359.1,113.0 L361.5,113.0 L361.8,115.6 C363.3,116.39999999999999 364.6,118.0 365.0,120.19999999999999 L365.2,132.1 C365.2,134.2 364.8,135.6 364.1,136.79999999999998 L356.5,136.79999999999998 C355.8,135.6 355.40000000000003,134.2 355.40000000000003,132.1 L355.6,120.19999999999999 C356.0,118.0 357.3,116.39999999999999 358.8,115.6 Z" fill="#d4d4d4"/>
<ellipse cx="360.3" cy="126.6" rx="3.6" ry="8.8" fill="#f2f2f2"/>
<g clip-path="url(#c89)"><g filter="url(#bl)">
<ellipse cx="360.30" cy="125.10" rx="5.2" ry="12.5" fill="#2cff40"/>
<ellipse cx="360.30" cy="125.60" rx="5.1" ry="12.5" fill="#ff0000"/>
<ellipse cx="360.30" cy="137.10" rx="3.5" ry="1.2" fill="#ff0000"/>
</g></g>
<line x1="371.6" y1="112.2" x2="371.6" y2="113.8" stroke="#a8a8a8" stroke-width="0.8"/>
<clipPath id="c90"><path d="M370.40000000000003,113.0 L372.8,113.0 L373.1,115.6 C374.6,116.39999999999999 375.90000000000003,118.0 376.3,120.19999999999999 L376.5,132.1 C376.5,134.2 376.1,135.6 375.40000000000003,136.79999999999998 L367.8,136.79999999999998 C367.1,135.6 366.70000000000005,134.2 366.70000000000005,132.1 L366.90000000000003,120.19999999999999 C367.3,118.0 368.6,116.39999999999999 370.1,115.6 Z"/></clipPath>
<path d="M370.40000000000003,113.0 L372.8,113.0 L373.1,115.6 C374.6,116.39999999999999 375.90000000000003,118.0 376.3,120.19999999999999 L376.5,132.1 C376.5,134.2 376.1,135.6 375.40000000000003,136.79999999999998 L367.8,136.79999999999998 C367.1,135.6 366.70000000000005,134.2 366.70000000000005,132.1 L366.90000000000003,120.19999999999999 C367.3,118.0 368.6,116.39999999999999 370.1,115.6 Z" fill="#d4d4d4"/>
<ellipse cx="371.6" cy="126.6" rx="3.6" ry="8.8" fill="#f2f2f2"/>
<g clip-path="url(#c90)"><g filter="url(#bl)">
<ellipse cx="371.60" cy="125.60" rx="5.2" ry="12.5" fill="#2020ff"/>
<ellipse cx="371.60" cy="125.60" rx="5.0" ry="11.8" fill="#00dcff"/>
<ellipse cx="371.60" cy="125.60" rx="4.9" ry="11.2" fill="#2cff40"/>
<ellipse cx="371.60" cy="117.10" rx="2.0" ry="2.8" fill="#2cff40"/>
<ellipse cx="371.30" cy="126.60" rx="4.6" ry="8.6" fill="#ff0000"/>
<ellipse cx="371.60" cy="116.80" rx="1.3" ry="2.0" fill="#ff0000"/>
<ellipse cx="368.00" cy="133.10" rx="1.1" ry="1.4" fill="#e8ff20"/>
<ellipse cx="375.20" cy="133.60" rx="1.1" ry="1.4" fill="#2cff40"/>
<ellipse cx="373.60" cy="122.60" rx="0.9" ry="0.9" fill="#e8ff20"/>
<ellipse cx="371.60" cy="136.60" rx="2.8" ry="1.2" fill="#ff0000"/>
</g></g>
</g>
<rect x="386.2" y="112.0" width="57.0" height="26.2" fill="#151515"/>
<g filter="url(#bl2)">
<rect x="386.80" y="112.5" width="0.9" height="25.2" fill="#3c3c3c"/><rect x="392.40" y="112.5" width="0.9" height="25.2" fill="#3c3c3c"/><rect x="398.00" y="112.5" width="0.9" height="25.2" fill="#3c3c3c"/><rect x="403.60" y="112.5" width="0.9" height="25.2" fill="#3c3c3c"/><rect x="409.20" y="112.5" width="0.9" height="25.2" fill="#3c3c3c"/><rect x="414.80" y="112.5" width="0.9" height="25.2" fill="#3c3c3c"/><rect x="420.40" y="112.5" width="0.9" height="25.2" fill="#3c3c3c"/><rect x="426.00" y="112.5" width="0.9" height="25.2" fill="#3c3c3c"/><rect x="431.60" y="112.5" width="0.9" height="25.2" fill="#3c3c3c"/><rect x="437.20" y="112.5" width="0.9" height="25.2" fill="#3c3c3c"/>
<line x1="394.2" y1="112.2" x2="394.2" y2="113.8" stroke="#a8a8a8" stroke-width="0.8"/>
<clipPath id="c91"><path d="M393.0,113.0 L395.4,113.0 L395.7,115.6 C397.2,116.39999999999999 398.5,118.0 398.9,120.19999999999999 L399.09999999999997,132.1 C399.09999999999997,134.2 398.7,135.6 398.0,136.79999999999998 L390.4,136.79999999999998 C389.7,135.6 389.3,134.2 389.3,132.1 L389.5,120.19999999999999 C389.9,118.0 391.2,116.39999999999999 392.7,115.6 Z"/></clipPath>
<path d="M393.0,113.0 L395.4,113.0 L395.7,115.6 C397.2,116.39999999999999 398.5,118.0 398.9,120.19999999999999 L399.09999999999997,132.1 C399.09999999999997,134.2 398.7,135.6 398.0,136.79999999999998 L390.4,136.79999999999998 C389.7,135.6 389.3,134.2 389.3,132.1 L389.5,120.19999999999999 C389.9,118.0 391.2,116.39999999999999 392.7,115.6 Z" fill="#d4d4d4"/>
<ellipse cx="394.2" cy="126.6" rx="3.6" ry="8.8" fill="#f2f2f2"/>
<g clip-path="url(#c91)"><g filter="url(#bl)">
<polygon points="394.20,112.88 397.17,116.59 399.39,121.89 399.18,127.19 397.27,132.49 395.58,138.11 392.82,138.11 391.13,132.49 389.22,127.19 389.01,121.89 391.23,116.59" fill="#9468ff"/>
<polygon points="394.20,114.80 396.72,117.95 398.61,122.45 398.43,126.95 396.81,131.45 395.37,136.22 393.03,136.22 391.59,131.45 389.97,126.95 389.79,122.45 391.68,117.95" fill="#2020ff"/>
<ellipse cx="390.00" cy="134.10" rx="1.1" ry="2.2" fill="#f0eaff"/>
<ellipse cx="398.40" cy="134.10" rx="1.1" ry="2.2" fill="#f0eaff"/>
<ellipse cx="390.40" cy="137.20" rx="1.0" ry="0.8" fill="#2020ff"/>
<ellipse cx="398.00" cy="137.20" rx="1.0" ry="0.8" fill="#2020ff"/>
<ellipse cx="394.20" cy="123.10" rx="3.7" ry="4.8" fill="#00dcff"/>
<ellipse cx="394.20" cy="123.60" rx="2.7" ry="3.4" fill="#2cff40"/>
<ellipse cx="393.10" cy="124.10" rx="1.5" ry="1.3" fill="#ff0000"/>
<ellipse cx="394.20" cy="116.80" rx="1.2" ry="1.6" fill="#00dcff"/>
</g></g>
<line x1="405.3" y1="112.2" x2="405.3" y2="113.8" stroke="#a8a8a8" stroke-width="0.8"/>
<clipPath id="c92"><path d="M404.1,113.0 L406.5,113.0 L406.8,115.6 C408.3,116.39999999999999 409.6,118.0 410.0,120.19999999999999 L410.2,132.1 C410.2,134.2 409.8,135.6 409.1,136.79999999999998 L401.5,136.79999999999998 C400.8,135.6 400.40000000000003,134.2 400.40000000000003,132.1 L400.6,120.19999999999999 C401.0,118.0 402.3,116.39999999999999 403.8,115.6 Z"/></clipPath>
<path d="M404.1,113.0 L406.5,113.0 L406.8,115.6 C408.3,116.39999999999999 409.6,118.0 410.0,120.19999999999999 L410.2,132.1 C410.2,134.2 409.8,135.6 409.1,136.79999999999998 L401.5,136.79999999999998 C400.8,135.6 400.40000000000003,134.2 400.40000000000003,132.1 L400.6,120.19999999999999 C401.0,118.0 402.3,116.39999999999999 403.8,115.6 Z" fill="#d4d4d4"/>
<ellipse cx="405.3" cy="126.6" rx="3.6" ry="8.8" fill="#f2f2f2"/>
<g clip-path="url(#c92)"><g filter="url(#bl)">
<polygon points="405.30,112.88 408.27,116.59 410.49,121.89 410.28,127.19 408.37,132.49 406.68,138.11 403.92,138.11 402.23,132.49 400.32,127.19 400.11,121.89 402.33,116.59" fill="#9468ff"/>
<polygon points="405.30,114.80 407.82,117.95 409.71,122.45 409.53,126.95 407.91,131.45 406.47,136.22 404.13,136.22 402.69,131.45 401.07,126.95 400.89,122.45 402.78,117.95" fill="#2020ff"/>
<ellipse cx="401.10" cy="134.10" rx="1.1" ry="2.2" fill="#f0eaff"/>
<ellipse cx="409.50" cy="134.10" rx="1.1" ry="2.2" fill="#f0eaff"/>
<ellipse cx="401.50" cy="137.20" rx="1.0" ry="0.8" fill="#2020ff"/>
<ellipse cx="409.10" cy="137.20" rx="1.0" ry="0.8" fill="#2020ff"/>
<ellipse cx="405.30" cy="123.10" rx="3.7" ry="4.8" fill="#00dcff"/>
<ellipse cx="405.30" cy="123.60" rx="2.7" ry="3.4" fill="#2cff40"/>
<ellipse cx="404.20" cy="124.10" rx="1.5" ry="1.3" fill="#ff0000"/>
<ellipse cx="405.30" cy="116.80" rx="1.2" ry="1.6" fill="#00dcff"/>
</g></g>
<line x1="416.3" y1="112.2" x2="416.3" y2="113.8" stroke="#a8a8a8" stroke-width="0.8"/>
<clipPath id="c93"><path d="M415.1,113.0 L417.5,113.0 L417.8,115.6 C419.3,116.39999999999999 420.6,118.0 421.0,120.19999999999999 L421.2,132.1 C421.2,134.2 420.8,135.6 420.1,136.79999999999998 L412.5,136.79999999999998 C411.8,135.6 411.40000000000003,134.2 411.40000000000003,132.1 L411.6,120.19999999999999 C412.0,118.0 413.3,116.39999999999999 414.8,115.6 Z"/></clipPath>
<path d="M415.1,113.0 L417.5,113.0 L417.8,115.6 C419.3,116.39999999999999 420.6,118.0 421.0,120.19999999999999 L421.2,132.1 C421.2,134.2 420.8,135.6 420.1,136.79999999999998 L412.5,136.79999999999998 C411.8,135.6 411.40000000000003,134.2 411.40000000000003,132.1 L411.6,120.19999999999999 C412.0,118.0 413.3,116.39999999999999 414.8,115.6 Z" fill="#d4d4d4"/>
<ellipse cx="416.3" cy="126.6" rx="3.6" ry="8.8" fill="#f2f2f2"/>
<g clip-path="url(#c93)"><g filter="url(#bl)">
<polygon points="416.30,112.88 419.27,116.59 421.49,121.89 421.28,127.19 419.37,132.49 417.68,138.11 414.92,138.11 413.23,132.49 411.32,127.19 411.11,121.89 413.33,116.59" fill="#9468ff"/>
<polygon points="416.30,114.80 418.82,117.95 420.71,122.45 420.53,126.95 418.91,131.45 417.47,136.22 415.13,136.22 413.69,131.45 412.07,126.95 411.89,122.45 413.78,117.95" fill="#2020ff"/>
<ellipse cx="412.10" cy="134.10" rx="1.1" ry="2.2" fill="#f0eaff"/>
<ellipse cx="420.50" cy="134.10" rx="1.1" ry="2.2" fill="#f0eaff"/>
<ellipse cx="412.50" cy="137.20" rx="1.0" ry="0.8" fill="#2020ff"/>
<ellipse cx="420.10" cy="137.20" rx="1.0" ry="0.8" fill="#2020ff"/>
<ellipse cx="416.30" cy="124.10" rx="4.3" ry="6.5" fill="#00dcff"/>
<ellipse cx="416.30" cy="124.60" rx="3.8" ry="4.5" fill="#2cff40"/>
<ellipse cx="416.30" cy="124.60" rx="3.6" ry="1.8" fill="#ff0000"/>
<ellipse cx="416.30" cy="117.10" rx="1.6" ry="2" fill="#00dcff"/>
<ellipse cx="416.30" cy="131.60" rx="2" ry="2.5" fill="#2cff40"/>
</g></g>
<line x1="427.3" y1="112.2" x2="427.3" y2="113.8" stroke="#a8a8a8" stroke-width="0.8"/>
<clipPath id="c94"><path d="M426.1,113.0 L428.5,113.0 L428.8,115.6 C430.3,116.39999999999999 431.6,118.0 432.0,120.19999999999999 L432.2,132.1 C432.2,134.2 431.8,135.6 431.1,136.79999999999998 L423.5,136.79999999999998 C422.8,135.6 422.40000000000003,134.2 422.40000000000003,132.1 L422.6,120.19999999999999 C423.0,118.0 424.3,116.39999999999999 425.8,115.6 Z"/></clipPath>
<path d="M426.1,113.0 L428.5,113.0 L428.8,115.6 C430.3,116.39999999999999 431.6,118.0 432.0,120.19999999999999 L432.2,132.1 C432.2,134.2 431.8,135.6 431.1,136.79999999999998 L423.5,136.79999999999998 C422.8,135.6 422.40000000000003,134.2 422.40000000000003,132.1 L422.6,120.19999999999999 C423.0,118.0 424.3,116.39999999999999 425.8,115.6 Z" fill="#d4d4d4"/>
<ellipse cx="427.3" cy="126.6" rx="3.6" ry="8.8" fill="#f2f2f2"/>
<g clip-path="url(#c94)"><g filter="url(#bl)">
<polygon points="427.30,112.88 430.27,116.59 432.49,121.89 432.28,127.19 430.37,132.49 428.68,138.11 425.92,138.11 424.23,132.49 422.32,127.19 422.11,121.89 424.33,116.59" fill="#9468ff"/>
<polygon points="427.30,114.80 429.82,117.95 431.71,122.45 431.53,126.95 429.91,131.45 428.47,136.22 426.13,136.22 424.69,131.45 423.07,126.95 422.89,122.45 424.78,117.95" fill="#2020ff"/>
<ellipse cx="423.10" cy="134.10" rx="1.1" ry="2.2" fill="#f0eaff"/>
<ellipse cx="431.50" cy="134.10" rx="1.1" ry="2.2" fill="#f0eaff"/>
<ellipse cx="423.50" cy="137.20" rx="1.0" ry="0.8" fill="#2020ff"/>
<ellipse cx="431.10" cy="137.20" rx="1.0" ry="0.8" fill="#2020ff"/>
<ellipse cx="427.30" cy="124.60" rx="3.7" ry="3.0" fill="#00dcff"/>
<ellipse cx="427.30" cy="124.60" rx="2.6" ry="2.0" fill="#2cff40"/>
<ellipse cx="426.00" cy="125.10" rx="1.0" ry="0.9" fill="#ff0000"/>
</g></g>
<line x1="438.0" y1="112.2" x2="438.0" y2="113.8" stroke="#a8a8a8" stroke-width="0.8"/>
<clipPath id="c95"><path d="M436.8,113.0 L439.2,113.0 L439.5,115.6 C441.0,116.39999999999999 442.3,118.0 442.7,120.19999999999999 L442.9,132.1 C442.9,134.2 442.5,135.6 441.8,136.79999999999998 L434.2,136.79999999999998 C433.5,135.6 433.1,134.2 433.1,132.1 L433.3,120.19999999999999 C433.7,118.0 435.0,116.39999999999999 436.5,115.6 Z"/></clipPath>
<path d="M436.8,113.0 L439.2,113.0 L439.5,115.6 C441.0,116.39999999999999 442.3,118.0 442.7,120.19999999999999 L442.9,132.1 C442.9,134.2 442.5,135.6 441.8,136.79999999999998 L434.2,136.79999999999998 C433.5,135.6 433.1,134.2 433.1,132.1 L433.3,120.19999999999999 C433.7,118.0 435.0,116.39999999999999 436.5,115.6 Z" fill="#d4d4d4"/>
<ellipse cx="438.0" cy="126.6" rx="3.6" ry="8.8" fill="#f2f2f2"/>
<g clip-path="url(#c95)"><g filter="url(#bl)">
<polygon points="438.00,112.88 440.97,116.59 443.19,121.89 442.98,127.19 441.07,132.49 439.38,138.11 436.62,138.11 434.93,132.49 433.02,127.19 432.81,121.89 435.03,116.59" fill="#9468ff"/>
<polygon points="438.00,114.80 440.52,117.95 442.41,122.45 442.23,126.95 440.61,131.45 439.17,136.22 436.83,136.22 435.39,131.45 433.77,126.95 433.59,122.45 435.48,117.95" fill="#2020ff"/>
<ellipse cx="433.80" cy="134.10" rx="1.1" ry="2.2" fill="#f0eaff"/>
<ellipse cx="442.20" cy="134.10" rx="1.1" ry="2.2" fill="#f0eaff"/>
<ellipse cx="434.20" cy="137.20" rx="1.0" ry="0.8" fill="#2020ff"/>
<ellipse cx="441.80" cy="137.20" rx="1.0" ry="0.8" fill="#2020ff"/>
<ellipse cx="438.00" cy="124.40" rx="3.6" ry="2.9" fill="#00dcff"/>
<ellipse cx="437.70" cy="124.40" rx="2.3" ry="1.8" fill="#2cff40"/>
</g></g>
</g>
<rect x="445.2" y="112.0" width="57.0" height="26.2" fill="#151515"/>
<g filter="url(#bl2)">
<rect x="445.80" y="112.5" width="0.9" height="25.2" fill="#3c3c3c"/><rect x="451.40" y="112.5" width="0.9" height="25.2" fill="#3c3c3c"/><rect x="457.00" y="112.5" width="0.9" height="25.2" fill="#3c3c3c"/><rect x="462.60" y="112.5" width="0.9" height="25.2" fill="#3c3c3c"/><rect x="468.20" y="112.5" width="0.9" height="25.2" fill="#3c3c3c"/><rect x="473.80" y="112.5" width="0.9" height="25.2" fill="#3c3c3c"/><rect x="479.40" y="112.5" width="0.9" height="25.2" fill="#3c3c3c"/><rect x="485.00" y="112.5" width="0.9" height="25.2" fill="#3c3c3c"/><rect x="490.60" y="112.5" width="0.9" height="25.2" fill="#3c3c3c"/><rect x="496.20" y="112.5" width="0.9" height="25.2" fill="#3c3c3c"/>
<line x1="450.5" y1="112.2" x2="450.5" y2="113.8" stroke="#a8a8a8" stroke-width="0.8"/>
<clipPath id="c96"><path d="M449.3,113.0 L451.7,113.0 L452.0,115.6 C453.5,116.39999999999999 454.8,118.0 455.2,120.19999999999999 L455.4,132.1 C455.4,134.2 455.0,135.6 454.3,136.79999999999998 L446.7,136.79999999999998 C446.0,135.6 445.6,134.2 445.6,132.1 L445.8,120.19999999999999 C446.2,118.0 447.5,116.39999999999999 449.0,115.6 Z"/></clipPath>
<path d="M449.3,113.0 L451.7,113.0 L452.0,115.6 C453.5,116.39999999999999 454.8,118.0 455.2,120.19999999999999 L455.4,132.1 C455.4,134.2 455.0,135.6 454.3,136.79999999999998 L446.7,136.79999999999998 C446.0,135.6 445.6,134.2 445.6,132.1 L445.8,120.19999999999999 C446.2,118.0 447.5,116.39999999999999 449.0,115.6 Z" fill="#d4d4d4"/>
<ellipse cx="450.5" cy="126.6" rx="3.6" ry="8.8" fill="#f2f2f2"/>
<g clip-path="url(#c96)"><g filter="url(#bl)">
<ellipse cx="450.50" cy="125.10" rx="5.2" ry="12.5" fill="#2cff40"/>
<ellipse cx="450.50" cy="125.60" rx="5.1" ry="12.5" fill="#ff0000"/>
<ellipse cx="450.50" cy="137.10" rx="3.5" ry="1.2" fill="#ff0000"/>
</g></g>
<line x1="461.3" y1="112.2" x2="461.3" y2="113.8" stroke="#a8a8a8" stroke-width="0.8"/>
<clipPath id="c97"><path d="M460.1,113.0 L462.5,113.0 L462.8,115.6 C464.3,116.39999999999999 465.6,118.0 466.0,120.19999999999999 L466.2,132.1 C466.2,134.2 465.8,135.6 465.1,136.79999999999998 L457.5,136.79999999999998 C456.8,135.6 456.40000000000003,134.2 456.40000000000003,132.1 L456.6,120.19999999999999 C457.0,118.0 458.3,116.39999999999999 459.8,115.6 Z"/></clipPath>
<path d="M460.1,113.0 L462.5,113.0 L462.8,115.6 C464.3,116.39999999999999 465.6,118.0 466.0,120.19999999999999 L466.2,132.1 C466.2,134.2 465.8,135.6 465.1,136.79999999999998 L457.5,136.79999999999998 C456.8,135.6 456.40000000000003,134.2 456.40000000000003,132.1 L456.6,120.19999999999999 C457.0,118.0 458.3,116.39999999999999 459.8,115.6 Z" fill="#d4d4d4"/>
<ellipse cx="461.3" cy="126.6" rx="3.6" ry="8.8" fill="#f2f2f2"/>
<g clip-path="url(#c97)"><g filter="url(#bl)">
<ellipse cx="461.30" cy="125.60" rx="5.2" ry="12.5" fill="#2020ff"/>
<ellipse cx="461.30" cy="125.60" rx="5.0" ry="11.8" fill="#00dcff"/>
<ellipse cx="461.30" cy="125.60" rx="4.9" ry="11.2" fill="#2cff40"/>
<ellipse cx="461.30" cy="117.10" rx="2.0" ry="2.8" fill="#2cff40"/>
<ellipse cx="461.00" cy="126.60" rx="4.6" ry="8.6" fill="#ff0000"/>
<ellipse cx="461.30" cy="116.80" rx="1.3" ry="2.0" fill="#ff0000"/>
<ellipse cx="457.70" cy="133.10" rx="1.1" ry="1.4" fill="#e8ff20"/>
<ellipse cx="464.90" cy="133.60" rx="1.1" ry="1.4" fill="#2cff40"/>
<ellipse cx="463.30" cy="122.60" rx="0.9" ry="0.9" fill="#e8ff20"/>
<ellipse cx="461.30" cy="136.60" rx="2.8" ry="1.2" fill="#ff0000"/>
</g></g>
<line x1="472.5" y1="112.2" x2="472.5" y2="113.8" stroke="#a8a8a8" stroke-width="0.8"/>
<clipPath id="c98"><path d="M471.3,113.0 L473.7,113.0 L474.0,115.6 C475.5,116.39999999999999 476.8,118.0 477.2,120.19999999999999 L477.4,132.1 C477.4,134.2 477.0,135.6 476.3,136.79999999999998 L468.7,136.79999999999998 C468.0,135.6 467.6,134.2 467.6,132.1 L467.8,120.19999999999999 C468.2,118.0 469.5,116.39999999999999 471.0,115.6 Z"/></clipPath>
<path d="M471.3,113.0 L473.7,113.0 L474.0,115.6 C475.5,116.39999999999999 476.8,118.0 477.2,120.19999999999999 L477.4,132.1 C477.4,134.2 477.0,135.6 476.3,136.79999999999998 L468.7,136.79999999999998 C468.0,135.6 467.6,134.2 467.6,132.1 L467.8,120.19999999999999 C468.2,118.0 469.5,116.39999999999999 471.0,115.6 Z" fill="#d4d4d4"/>
<ellipse cx="472.5" cy="126.6" rx="3.6" ry="8.8" fill="#f2f2f2"/>
<g clip-path="url(#c98)"><g filter="url(#bl)">
<ellipse cx="472.50" cy="125.10" rx="5.2" ry="12.5" fill="#2cff40"/>
<ellipse cx="472.50" cy="125.60" rx="5.1" ry="12.5" fill="#ff0000"/>
<ellipse cx="472.50" cy="137.10" rx="3.5" ry="1.2" fill="#ff0000"/>
</g></g>
<line x1="483.5" y1="112.2" x2="483.5" y2="113.8" stroke="#a8a8a8" stroke-width="0.8"/>
<clipPath id="c99"><path d="M482.3,113.0 L484.7,113.0 L485.0,115.6 C486.5,116.39999999999999 487.8,118.0 488.2,120.19999999999999 L488.4,132.1 C488.4,134.2 488.0,135.6 487.3,136.79999999999998 L479.7,136.79999999999998 C479.0,135.6 478.6,134.2 478.6,132.1 L478.8,120.19999999999999 C479.2,118.0 480.5,116.39999999999999 482.0,115.6 Z"/></clipPath>
<path d="M482.3,113.0 L484.7,113.0 L485.0,115.6 C486.5,116.39999999999999 487.8,118.0 488.2,120.19999999999999 L488.4,132.1 C488.4,134.2 488.0,135.6 487.3,136.79999999999998 L479.7,136.79999999999998 C479.0,135.6 478.6,134.2 478.6,132.1 L478.8,120.19999999999999 C479.2,118.0 480.5,116.39999999999999 482.0,115.6 Z" fill="#d4d4d4"/>
<ellipse cx="483.5" cy="126.6" rx="3.6" ry="8.8" fill="#f2f2f2"/>
<g clip-path="url(#c99)"><g filter="url(#bl)">
<ellipse cx="483.50" cy="126.10" rx="5" ry="11.5" fill="#2020ff"/>
<ellipse cx="483.50" cy="123.60" rx="4.2" ry="6.5" fill="#00dcff"/>
<ellipse cx="483.50" cy="123.10" rx="3.6" ry="4.5" fill="#2cff40"/>
<ellipse cx="483.00" cy="124.60" rx="2.0" ry="1.5" fill="#ff0000"/>
<ellipse cx="483.50" cy="117.10" rx="1.6" ry="2.2" fill="#2cff40"/>
<ellipse cx="483.50" cy="132.60" rx="4" ry="3" fill="#2020ff"/>
<ellipse cx="483.50" cy="137.00" rx="3" ry="1.0" fill="#00dcff"/>
</g></g>
<line x1="495.09999999999997" y1="112.2" x2="495.09999999999997" y2="113.8" stroke="#a8a8a8" stroke-width="0.8"/>
<clipPath id="c100"><path d="M493.9,113.0 L496.29999999999995,113.0 L496.59999999999997,115.6 C498.09999999999997,116.39999999999999 499.4,118.0 499.79999999999995,120.19999999999999 L499.99999999999994,132.1 C499.99999999999994,134.2 499.59999999999997,135.6 498.9,136.79999999999998 L491.29999999999995,136.79999999999998 C490.59999999999997,135.6 490.2,134.2 490.2,132.1 L490.4,120.19999999999999 C490.79999999999995,118.0 492.09999999999997,116.39999999999999 493.59999999999997,115.6 Z"/></clipPath>
<path d="M493.9,113.0 L496.29999999999995,113.0 L496.59999999999997,115.6 C498.09999999999997,116.39999999999999 499.4,118.0 499.79999999999995,120.19999999999999 L499.99999999999994,132.1 C499.99999999999994,134.2 499.59999999999997,135.6 498.9,136.79999999999998 L491.29999999999995,136.79999999999998 C490.59999999999997,135.6 490.2,134.2 490.2,132.1 L490.4,120.19999999999999 C490.79999999999995,118.0 492.09999999999997,116.39999999999999 493.59999999999997,115.6 Z" fill="#d4d4d4"/>
<ellipse cx="495.09999999999997" cy="126.6" rx="3.6" ry="8.8" fill="#f2f2f2"/>
<g clip-path="url(#c100)"><g filter="url(#bl)">
<ellipse cx="495.10" cy="126.10" rx="5" ry="11.5" fill="#2020ff"/>
<ellipse cx="495.10" cy="124.60" rx="4.2" ry="7" fill="#00dcff"/>
<ellipse cx="495.10" cy="124.60" rx="3.5" ry="5.5" fill="#2cff40"/>
<ellipse cx="494.30" cy="125.10" rx="2.2" ry="2.5" fill="#ff0000"/>
<ellipse cx="495.10" cy="116.80" rx="1.4" ry="2.2" fill="#ff0000"/>
<ellipse cx="497.60" cy="131.60" rx="1.5" ry="2" fill="#2cff40"/>
<ellipse cx="495.10" cy="137.00" rx="3" ry="1.0" fill="#ff0000"/>
</g></g>
</g>
<line x1="380.4" y1="6.8" x2="380.9" y2="157.5" stroke="#f2323c" stroke-width="1.7"/>
<text transform="translate(215.4,152.6) scale(1,1.08)" font-size="7.21" text-anchor="start" font-weight="normal" fill="#111" stroke="#111" stroke-width="0.08" >Radiance Minimum-Maximum: 1 × 10<tspan dy="-2.6" font-size="4.74">4</tspan><tspan dy="2.6"> – 1 × 10</tspan><tspan dy="-2.6" font-size="4.74">5</tspan></text>
<text transform="translate(421.9,152.4) scale(1,1.08)" font-size="7.21" text-anchor="start" font-weight="normal" fill="#111" stroke="#111" stroke-width="0.08" >1 × 10<tspan dy="-2.6" font-size="4.74">5</tspan><tspan dy="2.6"> – 1 × 10</tspan><tspan dy="-2.6" font-size="4.74">6</tspan></text>
<text transform="translate(1.8,172.3) scale(1,1.08)" font-size="9.89" text-anchor="start" font-weight="bold" fill="#000" >C</text>
<line x1="37.4" y1="171.5" x2="52.6" y2="171.5" stroke="#000" stroke-width="1.6"/>
<text transform="translate(62.2,174.2) scale(1,1.08)" font-size="6.23" text-anchor="start" font-weight="normal" fill="#111" stroke="#111" stroke-width="0.08" >ffLuc only</text>
<line x1="107.4" y1="171.5" x2="122" y2="171.5" stroke="#1fb51f" stroke-width="1.6"/>
<text transform="translate(131.1,174.2) scale(1,1.08)" font-size="6.23" text-anchor="start" font-weight="normal" fill="#111" stroke="#111" stroke-width="0.08" >CCR</text>
<line x1="37.4" y1="188.2" x2="52.6" y2="188.2" stroke="#1010ee" stroke-width="1.6"/>
<text transform="translate(58.8,189.7) scale(1,1.08)" font-size="6.23" text-anchor="start" font-weight="normal" fill="#111" stroke="#111" stroke-width="0.08" >+Intraperitoneal</text>
<text transform="translate(59.8,197.6) scale(1,1.08)" font-size="6.23" text-anchor="start" font-weight="normal" fill="#111" stroke="#111" stroke-width="0.08" >IL7</text>
<line x1="107.4" y1="188.2" x2="122" y2="188.2" stroke="#f03030" stroke-width="1.6"/>
<text transform="translate(131.4,189.7) scale(1,1.08)" font-size="6.23" text-anchor="start" font-weight="normal" fill="#111" stroke="#111" stroke-width="0.08" >sIL7</text>
<line x1="56.3" y1="195" x2="56.3" y2="285.5" stroke="#000" stroke-width="2.0"/>
<line x1="52.7" y1="285" x2="140.6" y2="285" stroke="#000" stroke-width="1.3"/>
<line x1="52.4" y1="212.9" x2="56.3" y2="212.9" stroke="#000" stroke-width="1.2"/>
<text transform="translate(51.6,215.1) scale(1,1.08)" font-size="6.80" text-anchor="end" font-weight="normal" fill="#111" stroke="#111" stroke-width="0.08" >10<tspan dy="-2.5" font-size="4.43">6</tspan></text>
<line x1="52.4" y1="236.8" x2="56.3" y2="236.8" stroke="#000" stroke-width="1.2"/>
<text transform="translate(51.6,239.0) scale(1,1.08)" font-size="6.80" text-anchor="end" font-weight="normal" fill="#111" stroke="#111" stroke-width="0.08" >10<tspan dy="-2.5" font-size="4.43">5</tspan></text>
<line x1="52.4" y1="260.8" x2="56.3" y2="260.8" stroke="#000" stroke-width="1.2"/>
<text transform="translate(51.6,263.0) scale(1,1.08)" font-size="6.80" text-anchor="end" font-weight="normal" fill="#111" stroke="#111" stroke-width="0.08" >10<tspan dy="-2.5" font-size="4.43">4</tspan></text>
<line x1="52.4" y1="285.0" x2="56.3" y2="285.0" stroke="#000" stroke-width="1.2"/>
<text transform="translate(51.6,287.2) scale(1,1.08)" font-size="6.80" text-anchor="end" font-weight="normal" fill="#111" stroke="#111" stroke-width="0.08" >10<tspan dy="-2.5" font-size="4.43">3</tspan></text>
<line x1="53.8" y1="205.68" x2="56.3" y2="205.68" stroke="#000" stroke-width="0.85"/>
<line x1="53.8" y1="201.45" x2="56.3" y2="201.45" stroke="#000" stroke-width="0.85"/>
<line x1="53.8" y1="198.45" x2="56.3" y2="198.45" stroke="#000" stroke-width="0.85"/>
<line x1="53.8" y1="196.12" x2="56.3" y2="196.12" stroke="#000" stroke-width="0.85"/>
<line x1="53.8" y1="229.68" x2="56.3" y2="229.68" stroke="#000" stroke-width="0.85"/>
<line x1="53.8" y1="225.45" x2="56.3" y2="225.45" stroke="#000" stroke-width="0.85"/>
<line x1="53.8" y1="222.45" x2="56.3" y2="222.45" stroke="#000" stroke-width="0.85"/>
<line x1="53.8" y1="220.12" x2="56.3" y2="220.12" stroke="#000" stroke-width="0.85"/>
<line x1="53.8" y1="218.22" x2="56.3" y2="218.22" stroke="#000" stroke-width="0.85"/>
<line x1="53.8" y1="216.62" x2="56.3" y2="216.62" stroke="#000" stroke-width="0.85"/>
<line x1="53.8" y1="215.23" x2="56.3" y2="215.23" stroke="#000" stroke-width="0.85"/>
<line x1="53.8" y1="214.00" x2="56.3" y2="214.00" stroke="#000" stroke-width="0.85"/>
<line x1="53.8" y1="253.68" x2="56.3" y2="253.68" stroke="#000" stroke-width="0.85"/>
<line x1="53.8" y1="249.45" x2="56.3" y2="249.45" stroke="#000" stroke-width="0.85"/>
<line x1="53.8" y1="246.45" x2="56.3" y2="246.45" stroke="#000" stroke-width="0.85"/>
<line x1="53.8" y1="244.12" x2="56.3" y2="244.12" stroke="#000" stroke-width="0.85"/>
<line x1="53.8" y1="242.22" x2="56.3" y2="242.22" stroke="#000" stroke-width="0.85"/>
<line x1="53.8" y1="240.62" x2="56.3" y2="240.62" stroke="#000" stroke-width="0.85"/>
<line x1="53.8" y1="239.23" x2="56.3" y2="239.23" stroke="#000" stroke-width="0.85"/>
<line x1="53.8" y1="238.00" x2="56.3" y2="238.00" stroke="#000" stroke-width="0.85"/>
<line x1="56.9" y1="285" x2="56.9" y2="288.7" stroke="#000" stroke-width="1"/>
<text transform="translate(56.9,297.3) scale(1,1.08)" font-size="7.00" text-anchor="middle" font-weight="normal" fill="#111" stroke="#111" stroke-width="0.08" >0</text>
<line x1="91.2" y1="285" x2="91.2" y2="288.7" stroke="#000" stroke-width="1"/>
<text transform="translate(91.2,297.3) scale(1,1.08)" font-size="7.00" text-anchor="middle" font-weight="normal" fill="#111" stroke="#111" stroke-width="0.08" >15</text>
<line x1="125.8" y1="285" x2="125.8" y2="288.7" stroke="#000" stroke-width="1"/>
<text transform="translate(125.8,297.3) scale(1,1.08)" font-size="7.00" text-anchor="middle" font-weight="normal" fill="#111" stroke="#111" stroke-width="0.08" >30</text>
<text transform="translate(99.4,309.8) scale(1,1.08)" font-size="7.21" text-anchor="middle" font-weight="bold" fill="#000" >Days</text>
<text transform="translate(35.2,250.5) rotate(-90) scale(1.08,1)" font-size="6.75" text-anchor="middle" font-weight="bold" fill="#000">Radiance (photons/second/cm<tspan dy="-2.3" font-size="4.63">2</tspan><tspan dy="2.3">/sr)</tspan></text>
<polyline points="58.0,261.0 72.0,265.0 80.0,266.0 100.0,250.0 137.0,246.0" stroke="#333" stroke-width="0.9" stroke-dasharray="1.1,1.0" fill="none"/>
<polyline points="58.0,262.0 80.0,276.0 95.0,272.0 137.0,265.0" stroke="#333" stroke-width="0.9" stroke-dasharray="1.1,1.0" fill="none"/>
<polyline points="58.0,263.0 78.0,270.0 100.0,268.0 137.0,269.0" stroke="#333" stroke-width="0.9" stroke-dasharray="1.1,1.0" fill="none"/>
<polyline points="58.0,262.0 85.0,262.0 105.0,256.0 137.0,254.0" stroke="#333" stroke-width="0.9" stroke-dasharray="1.1,1.0" fill="none"/>
<polyline points="58.0,259.0 72.0,258.0 90.0,250.0 137.0,234.0" stroke="#1fb81f" stroke-width="0.9" stroke-dasharray="1.1,1.0" fill="none"/>
<polyline points="58.0,261.0 72.0,262.0 88.0,262.0 100.0,252.0 137.0,240.0" stroke="#1fb81f" stroke-width="0.9" stroke-dasharray="1.1,1.0" fill="none"/>
<polyline points="58.0,262.0 80.0,268.0 100.0,258.0 137.0,243.0" stroke="#1fb81f" stroke-width="0.9" stroke-dasharray="1.1,1.0" fill="none"/>
<polyline points="58.0,258.0 70.0,248.0 90.0,240.0 137.0,215.0" stroke="#3030ff" stroke-width="0.9" stroke-dasharray="1.1,1.0" fill="none"/>
<polyline points="58.0,259.0 72.0,256.0 80.0,246.0 100.0,238.0 137.0,222.0" stroke="#3030ff" stroke-width="0.9" stroke-dasharray="1.1,1.0" fill="none"/>
<polyline points="58.0,258.0 72.0,258.0 85.0,250.0 110.0,240.0 137.0,225.0" stroke="#3030ff" stroke-width="0.9" stroke-dasharray="1.1,1.0" fill="none"/>
<polyline points="58.0,257.0 72.0,233.0 80.0,240.0 90.0,232.0 100.0,222.0 137.0,197.0" stroke="#ff4040" stroke-width="0.9" stroke-dasharray="1.1,1.0" fill="none"/>
<polyline points="58.0,256.0 72.0,236.0 85.0,238.0 100.0,226.0 137.0,202.0" stroke="#ff4040" stroke-width="0.9" stroke-dasharray="1.1,1.0" fill="none"/>
<polyline points="58.0,257.0 70.0,240.0 90.0,236.0 137.0,214.0" stroke="#ff4040" stroke-width="0.9" stroke-dasharray="1.1,1.0" fill="none"/>
<polyline points="58.0,258.0 72.0,244.0 90.0,240.0 137.0,218.0" stroke="#ff4040" stroke-width="0.9" stroke-dasharray="1.1,1.0" fill="none"/>
<polyline points="58.0,258.0 75.0,245.0 100.0,236.0 137.0,222.0" stroke="#ff4040" stroke-width="0.9" stroke-dasharray="1.1,1.0" fill="none"/>
<polyline points="57.0,285.0 58.5,261.0 66.0,264.7 72.5,264.7 78.7,271.5 85.5,272.0 88.5,271.5 96.0,263.2 105.0,256.9 112.0,260.1 137.0,255.5" stroke="#000" stroke-width="2.2" fill="none" stroke-linejoin="round"/>
<polyline points="57.2,258.0 58.4,256.5 66.3,250.9 72.5,238.5 78.7,241.3 85.5,240.7 90.0,237.4 97.0,232.4 104.0,230.3 111.0,230.0 117.0,227.5 137.0,214.8" stroke="#f22" stroke-width="2.2" fill="none" stroke-linejoin="round"/>
<polyline points="57.2,259.0 58.4,257.7 67.0,253.7 72.5,252.0 78.7,245.8 85.5,244.7 90.0,241.6 95.0,238.0 100.0,238.8 105.0,240.2 110.0,236.0 137.0,216.2" stroke="#1414f0" stroke-width="2.2" fill="none" stroke-linejoin="round"/>
<polyline points="57.0,285.0 58.5,260.2 66.0,263.6 72.5,263.0 78.7,263.6 85.5,260.2 90.0,256.5 96.0,247.7 103.0,245.6 137.0,237.1" stroke="#17b417" stroke-width="2.2" fill="none" stroke-linejoin="round"/>
<text transform="translate(164.0,170.5) scale(1,1.08)" font-size="9.89" text-anchor="start" font-weight="bold" fill="#000" >D</text>
<polyline points="189.1,196.6 195.1,196.6 195.1,208.1" fill="none" stroke="#000" stroke-width="1.2"/>
<line x1="191.4" y1="208.1" x2="198.5" y2="208.1" stroke="#000" stroke-width="1.2"/>
<line x1="191.4" y1="219" x2="198.5" y2="219" stroke="#000" stroke-width="1.2"/>
<line x1="195.1" y1="219" x2="195.1" y2="285" stroke="#000" stroke-width="1.2"/>
<line x1="189.4" y1="284.6" x2="242.3" y2="284.6" stroke="#000" stroke-width="1.2"/>
<text transform="translate(186.4,198.9) scale(1,1.08)" font-size="6.80" text-anchor="end" font-weight="normal" fill="#111" stroke="#111" stroke-width="0.08" >40</text>
<text transform="translate(186.4,221.3) scale(1,1.08)" font-size="6.80" text-anchor="end" font-weight="normal" fill="#111" stroke="#111" stroke-width="0.08" >20</text>
<line x1="189.1" y1="235.3" x2="195.1" y2="235.3" stroke="#000" stroke-width="1.2"/>
<text transform="translate(186.4,237.60000000000002) scale(1,1.08)" font-size="6.80" text-anchor="end" font-weight="normal" fill="#111" stroke="#111" stroke-width="0.08" >15</text>
<line x1="189.1" y1="251.7" x2="195.1" y2="251.7" stroke="#000" stroke-width="1.2"/>
<text transform="translate(186.4,254.0) scale(1,1.08)" font-size="6.80" text-anchor="end" font-weight="normal" fill="#111" stroke="#111" stroke-width="0.08" >10</text>
<line x1="189.1" y1="268.1" x2="195.1" y2="268.1" stroke="#000" stroke-width="1.2"/>
<text transform="translate(186.4,270.40000000000003) scale(1,1.08)" font-size="6.80" text-anchor="end" font-weight="normal" fill="#111" stroke="#111" stroke-width="0.08" >5</text>
<line x1="189.1" y1="284.6" x2="195.1" y2="284.6" stroke="#000" stroke-width="1.2"/>
<text transform="translate(186.4,286.90000000000003) scale(1,1.08)" font-size="6.80" text-anchor="end" font-weight="normal" fill="#111" stroke="#111" stroke-width="0.08" >0</text>
<line x1="203.6" y1="284.6" x2="203.6" y2="289.7" stroke="#000" stroke-width="1.2"/>
<line x1="216.1" y1="284.6" x2="216.1" y2="289.7" stroke="#000" stroke-width="1.2"/>
<line x1="228.8" y1="284.6" x2="228.8" y2="289.7" stroke="#000" stroke-width="1.2"/>
<line x1="241.7" y1="284.6" x2="241.7" y2="289.7" stroke="#000" stroke-width="1.2"/>
<line x1="203.4" y1="197" x2="203.4" y2="207.5" stroke="#000" stroke-width="1.0"/>
<line x1="201.4" y1="197" x2="205.4" y2="197" stroke="#000" stroke-width="1.0"/>
<line x1="203.4" y1="219.6" x2="203.4" y2="250.6" stroke="#000" stroke-width="1.0"/>
<line x1="201.4" y1="250.6" x2="205.4" y2="250.6" stroke="#000" stroke-width="1.0"/>
<line x1="202.2" y1="228.6" x2="204.6" y2="228.6" stroke="#000" stroke-width="1.0"/>
<line x1="216.1" y1="263.7" x2="216.1" y2="269.0" stroke="#1fcc1f" stroke-width="1.2"/>
<line x1="214.1" y1="263.7" x2="218.1" y2="263.7" stroke="#1fcc1f" stroke-width="1.2"/>
<line x1="214.1" y1="269.0" x2="218.1" y2="269.0" stroke="#1fcc1f" stroke-width="1.2"/>
<line x1="214.5" y1="266.35" x2="217.7" y2="266.35" stroke="#1fcc1f" stroke-width="1.2"/>
<line x1="228.8" y1="265.6" x2="228.8" y2="270.2" stroke="#1a1aff" stroke-width="1.2"/>
<line x1="226.8" y1="265.6" x2="230.8" y2="265.6" stroke="#1a1aff" stroke-width="1.2"/>
<line x1="226.8" y1="270.2" x2="230.8" y2="270.2" stroke="#1a1aff" stroke-width="1.2"/>
<line x1="227.20000000000002" y1="267.9" x2="230.4" y2="267.9" stroke="#1a1aff" stroke-width="1.2"/>
<rect x="239.4" y="269.4" width="4.6" height="2.2" fill="#ff3030"/>
<text transform="translate(173.2,240.5) rotate(-90) scale(1.08,1)" font-size="6.70" text-anchor="middle" font-weight="bold" fill="#000">Doubling time (hours)</text>
<text transform="translate(205.0,292.1) rotate(-90) scale(1.08,1)" font-size="6.64" text-anchor="end" font-weight="bold" fill="#000">ffLuc only</text>
<text transform="translate(217.5,292.1) rotate(-90) scale(1.08,1)" font-size="6.64" text-anchor="end" font-weight="bold" fill="#000">CCR</text>
<text transform="translate(229.6,292.1) rotate(-90) scale(1.08,1)" font-size="6.70" text-anchor="end" font-weight="bold" fill="#000">Intraperitoneal IL7</text>
<text transform="translate(242.6,292.1) rotate(-90) scale(1.08,1)" font-size="6.64" text-anchor="end" font-weight="bold" fill="#000">sIL7</text>
<text transform="translate(278.2,170.5) scale(1,1.08)" font-size="9.89" text-anchor="start" font-weight="bold" fill="#000" >E</text>
<line x1="293.3" y1="193.6" x2="293.3" y2="282.5" stroke="#000" stroke-width="2.2"/>
<line x1="289" y1="282" x2="340.6" y2="282" stroke="#000" stroke-width="1.4"/>
<line x1="288.7" y1="194.5" x2="293.3" y2="194.5" stroke="#000" stroke-width="1.2"/>
<text transform="translate(287.6,196.8) scale(1,1.08)" font-size="6.80" text-anchor="end" font-weight="normal" fill="#111" stroke="#111" stroke-width="0.08" >1,000</text>
<line x1="288.7" y1="216.2" x2="293.3" y2="216.2" stroke="#000" stroke-width="1.2"/>
<text transform="translate(287.6,218.5) scale(1,1.08)" font-size="6.80" text-anchor="end" font-weight="normal" fill="#111" stroke="#111" stroke-width="0.08" >100</text>
<line x1="288.7" y1="237.9" x2="293.3" y2="237.9" stroke="#000" stroke-width="1.2"/>
<text transform="translate(287.6,240.20000000000002) scale(1,1.08)" font-size="6.80" text-anchor="end" font-weight="normal" fill="#111" stroke="#111" stroke-width="0.08" >10</text>
<line x1="288.7" y1="259.6" x2="293.3" y2="259.6" stroke="#000" stroke-width="1.2"/>
<text transform="translate(287.6,261.90000000000003) scale(1,1.08)" font-size="6.80" text-anchor="end" font-weight="normal" fill="#111" stroke="#111" stroke-width="0.08" >1</text>
<line x1="288.7" y1="281.5" x2="293.3" y2="281.5" stroke="#000" stroke-width="1.2"/>
<text transform="translate(287.6,283.8) scale(1,1.08)" font-size="6.80" text-anchor="end" font-weight="normal" fill="#111" stroke="#111" stroke-width="0.08" >0.1</text>
<line x1="290.7" y1="209.70" x2="293.3" y2="209.70" stroke="#000" stroke-width="0.85"/>
<line x1="290.7" y1="205.87" x2="293.3" y2="205.87" stroke="#000" stroke-width="0.85"/>
<line x1="290.7" y1="203.16" x2="293.3" y2="203.16" stroke="#000" stroke-width="0.85"/>
<line x1="290.7" y1="201.05" x2="293.3" y2="201.05" stroke="#000" stroke-width="0.85"/>
<line x1="290.7" y1="199.33" x2="293.3" y2="199.33" stroke="#000" stroke-width="0.85"/>
<line x1="290.7" y1="197.87" x2="293.3" y2="197.87" stroke="#000" stroke-width="0.85"/>
<line x1="290.7" y1="196.61" x2="293.3" y2="196.61" stroke="#000" stroke-width="0.85"/>
<line x1="290.7" y1="195.50" x2="293.3" y2="195.50" stroke="#000" stroke-width="0.85"/>
<line x1="290.7" y1="231.45" x2="293.3" y2="231.45" stroke="#000" stroke-width="0.85"/>
<line x1="290.7" y1="227.62" x2="293.3" y2="227.62" stroke="#000" stroke-width="0.85"/>
<line x1="290.7" y1="224.91" x2="293.3" y2="224.91" stroke="#000" stroke-width="0.85"/>
<line x1="290.7" y1="222.80" x2="293.3" y2="222.80" stroke="#000" stroke-width="0.85"/>
<line x1="290.7" y1="221.08" x2="293.3" y2="221.08" stroke="#000" stroke-width="0.85"/>
<line x1="290.7" y1="219.62" x2="293.3" y2="219.62" stroke="#000" stroke-width="0.85"/>
<line x1="290.7" y1="218.36" x2="293.3" y2="218.36" stroke="#000" stroke-width="0.85"/>
<line x1="290.7" y1="217.25" x2="293.3" y2="217.25" stroke="#000" stroke-width="0.85"/>
<line x1="290.7" y1="253.20" x2="293.3" y2="253.20" stroke="#000" stroke-width="0.85"/>
<line x1="290.7" y1="249.37" x2="293.3" y2="249.37" stroke="#000" stroke-width="0.85"/>
<line x1="290.7" y1="246.66" x2="293.3" y2="246.66" stroke="#000" stroke-width="0.85"/>
<line x1="290.7" y1="244.55" x2="293.3" y2="244.55" stroke="#000" stroke-width="0.85"/>
<line x1="290.7" y1="242.83" x2="293.3" y2="242.83" stroke="#000" stroke-width="0.85"/>
<line x1="290.7" y1="241.37" x2="293.3" y2="241.37" stroke="#000" stroke-width="0.85"/>
<line x1="290.7" y1="240.11" x2="293.3" y2="240.11" stroke="#000" stroke-width="0.85"/>
<line x1="290.7" y1="239.00" x2="293.3" y2="239.00" stroke="#000" stroke-width="0.85"/>
<line x1="290.7" y1="274.95" x2="293.3" y2="274.95" stroke="#000" stroke-width="0.85"/>
<line x1="290.7" y1="271.12" x2="293.3" y2="271.12" stroke="#000" stroke-width="0.85"/>
<line x1="290.7" y1="268.41" x2="293.3" y2="268.41" stroke="#000" stroke-width="0.85"/>
<line x1="290.7" y1="266.30" x2="293.3" y2="266.30" stroke="#000" stroke-width="0.85"/>
<line x1="290.7" y1="264.58" x2="293.3" y2="264.58" stroke="#000" stroke-width="0.85"/>
<line x1="290.7" y1="263.12" x2="293.3" y2="263.12" stroke="#000" stroke-width="0.85"/>
<line x1="290.7" y1="261.86" x2="293.3" y2="261.86" stroke="#000" stroke-width="0.85"/>
<line x1="290.7" y1="260.75" x2="293.3" y2="260.75" stroke="#000" stroke-width="0.85"/>
<line x1="299.3" y1="282" x2="299.3" y2="287.6" stroke="#000" stroke-width="1.2"/>
<text transform="translate(299.3,297.7) scale(1,1.08)" font-size="7.00" text-anchor="middle" font-weight="normal" fill="#111" stroke="#111" stroke-width="0.08" >15</text>
<line x1="334.9" y1="282" x2="334.9" y2="287.6" stroke="#000" stroke-width="1.2"/>
<text transform="translate(334.9,297.7) scale(1,1.08)" font-size="7.00" text-anchor="middle" font-weight="normal" fill="#111" stroke="#111" stroke-width="0.08" >30</text>
<text transform="translate(316.7,309.5) scale(1,1.08)" font-size="7.21" text-anchor="middle" font-weight="bold" fill="#000" >Day</text>
<text transform="translate(266.4,239.6) rotate(-90) scale(1.08,1)" font-size="6.80" text-anchor="middle" font-weight="bold" fill="#000">T cells/µL</text>
<line x1="299.3" y1="241.5" x2="334.9" y2="248.5" stroke="#555" stroke-width="0.5"/>
<line x1="299.3" y1="244.0" x2="334.9" y2="240.6" stroke="#555" stroke-width="0.5"/>
<line x1="299.3" y1="251.0" x2="334.9" y2="251.7" stroke="#555" stroke-width="0.5" stroke-dasharray="1,0.8"/>
<line x1="299.3" y1="256.1" x2="334.9" y2="239.5" stroke="#555" stroke-width="0.5"/>
<line x1="299.3" y1="264.4" x2="334.9" y2="230.1" stroke="#555" stroke-width="0.5"/>
<circle cx="299.3" cy="241.5" r="0.95" fill="#000"/><circle cx="334.9" cy="248.5" r="0.95" fill="#000"/>
<circle cx="299.3" cy="244.0" r="0.95" fill="#000"/><circle cx="334.9" cy="240.6" r="0.95" fill="#000"/>
<circle cx="299.3" cy="251.0" r="0.95" fill="#000"/><circle cx="334.9" cy="251.7" r="0.95" fill="#000"/>
<circle cx="299.3" cy="256.1" r="0.95" fill="#000"/><circle cx="334.9" cy="239.5" r="0.95" fill="#000"/>
<circle cx="299.3" cy="264.4" r="0.95" fill="#000"/><circle cx="334.9" cy="230.1" r="0.95" fill="#000"/>
<line x1="299.3" y1="250.8" x2="334.9" y2="240.4" stroke="#000" stroke-width="2.4"/>
<line x1="299.3" y1="229.0" x2="334.9" y2="218.0" stroke="#5fbf5f" stroke-width="0.5"/>
<line x1="299.3" y1="234.5" x2="334.9" y2="232.6" stroke="#5fbf5f" stroke-width="0.5" stroke-dasharray="1,0.8"/>
<line x1="299.3" y1="240.9" x2="334.9" y2="225.6" stroke="#5fbf5f" stroke-width="0.5"/>
<line x1="299.3" y1="246.0" x2="334.9" y2="238.3" stroke="#5fbf5f" stroke-width="0.5"/>
<line x1="299.3" y1="243.0" x2="334.9" y2="228.5" stroke="#5fbf5f" stroke-width="0.5"/>
<circle cx="299.3" cy="229.0" r="0.95" fill="#13c013"/><circle cx="334.9" cy="218.0" r="0.95" fill="#13c013"/>
<circle cx="299.3" cy="234.5" r="0.95" fill="#13c013"/><circle cx="334.9" cy="232.6" r="0.95" fill="#13c013"/>
<circle cx="299.3" cy="240.9" r="0.95" fill="#13c013"/><circle cx="334.9" cy="225.6" r="0.95" fill="#13c013"/>
<circle cx="299.3" cy="246.0" r="0.95" fill="#13c013"/><circle cx="334.9" cy="238.3" r="0.95" fill="#13c013"/>
<circle cx="299.3" cy="243.0" r="0.95" fill="#13c013"/><circle cx="334.9" cy="228.5" r="0.95" fill="#13c013"/>
<line x1="299.3" y1="240.8" x2="334.9" y2="228.1" stroke="#13c013" stroke-width="2.4"/>
<line x1="299.3" y1="223.9" x2="334.9" y2="201.5" stroke="#7a7aff" stroke-width="0.5"/>
<line x1="299.3" y1="226.5" x2="334.9" y2="210" stroke="#7a7aff" stroke-width="0.5"/>
<line x1="299.3" y1="228.5" x2="334.9" y2="213.5" stroke="#7a7aff" stroke-width="0.5"/>
<line x1="299.3" y1="230.7" x2="334.9" y2="217.0" stroke="#7a7aff" stroke-width="0.5"/>
<line x1="299.3" y1="225.5" x2="334.9" y2="207" stroke="#7a7aff" stroke-width="0.5"/>
<circle cx="299.3" cy="223.9" r="0.95" fill="#1a1aff"/><circle cx="334.9" cy="201.5" r="0.95" fill="#1a1aff"/>
<circle cx="299.3" cy="226.5" r="0.95" fill="#1a1aff"/><circle cx="334.9" cy="210" r="0.95" fill="#1a1aff"/>
<circle cx="299.3" cy="228.5" r="0.95" fill="#1a1aff"/><circle cx="334.9" cy="213.5" r="0.95" fill="#1a1aff"/>
<circle cx="299.3" cy="230.7" r="0.95" fill="#1a1aff"/><circle cx="334.9" cy="217.0" r="0.95" fill="#1a1aff"/>
<circle cx="299.3" cy="225.5" r="0.95" fill="#1a1aff"/><circle cx="334.9" cy="207" r="0.95" fill="#1a1aff"/>
<line x1="299.3" y1="226.1" x2="334.9" y2="215.1" stroke="#1010ff" stroke-width="2.4"/>
<line x1="299.3" y1="217.1" x2="334.9" y2="197.6" stroke="#ffa0a0" stroke-width="0.5"/>
<line x1="299.3" y1="218.5" x2="334.9" y2="201" stroke="#ffa0a0" stroke-width="0.5"/>
<line x1="299.3" y1="220.0" x2="334.9" y2="204.5" stroke="#ffa0a0" stroke-width="0.5"/>
<line x1="299.3" y1="221.2" x2="334.9" y2="206.5" stroke="#ffa0a0" stroke-width="0.5"/>
<line x1="299.3" y1="222.2" x2="334.9" y2="207.8" stroke="#ffa0a0" stroke-width="0.5"/>
<circle cx="299.3" cy="217.1" r="0.95" fill="#ff3030"/><circle cx="334.9" cy="197.6" r="0.95" fill="#ff3030"/>
<circle cx="299.3" cy="218.5" r="0.95" fill="#ff3030"/><circle cx="334.9" cy="201" r="0.95" fill="#ff3030"/>
<circle cx="299.3" cy="220.0" r="0.95" fill="#ff3030"/><circle cx="334.9" cy="204.5" r="0.95" fill="#ff3030"/>
<circle cx="299.3" cy="221.2" r="0.95" fill="#ff3030"/><circle cx="334.9" cy="206.5" r="0.95" fill="#ff3030"/>
<circle cx="299.3" cy="222.2" r="0.95" fill="#ff3030"/><circle cx="334.9" cy="207.8" r="0.95" fill="#ff3030"/>
<line x1="299.3" y1="219.7" x2="334.9" y2="204.4" stroke="#ff2525" stroke-width="2.4"/>
<text transform="translate(341.5,200.5) scale(1,1.08)" font-size="6.80" text-anchor="start" font-weight="normal" fill="#ff2a2a" stroke="#ff2a2a" stroke-width="0.08" >***</text>
<text transform="translate(342.8,219.0) scale(1,1.08)" font-size="6.80" text-anchor="start" font-weight="normal" fill="#2a2aff" stroke="#2a2aff" stroke-width="0.08" >*</text>
<text transform="translate(341.4,233.0) scale(1,1.08)" font-size="7.00" text-anchor="start" font-weight="normal" fill="#4a9a3c" stroke="#4a9a3c" stroke-width="0.08" >ns</text>
<text transform="translate(367.0,170.5) scale(1,1.08)" font-size="9.89" text-anchor="start" font-weight="bold" fill="#000" >F</text>
<line x1="405.4" y1="185.6" x2="405.4" y2="212.9" stroke="#000" stroke-width="1.2"/>
<line x1="402.7" y1="212.9" x2="409.5" y2="212.9" stroke="#000" stroke-width="1.2"/>
<line x1="400.1" y1="186.8" x2="405.4" y2="186.8" stroke="#000" stroke-width="1.2"/>
<text transform="translate(397.9,189.20000000000002) scale(1,1.08)" font-size="7.11" text-anchor="end" font-weight="normal" fill="#111" stroke="#111" stroke-width="0.08" >2,500</text>
<line x1="400.1" y1="197.6" x2="405.4" y2="197.6" stroke="#000" stroke-width="1.2"/>
<text transform="translate(397.9,200.0) scale(1,1.08)" font-size="7.11" text-anchor="end" font-weight="normal" fill="#111" stroke="#111" stroke-width="0.08" >1,500</text>
<line x1="400.1" y1="209.2" x2="405.4" y2="209.2" stroke="#000" stroke-width="1.2"/>
<text transform="translate(397.9,211.6) scale(1,1.08)" font-size="7.11" text-anchor="end" font-weight="normal" fill="#111" stroke="#111" stroke-width="0.08" >500</text>
<line x1="401.8" y1="223.6" x2="409.3" y2="223.6" stroke="#000" stroke-width="1.2"/>
<line x1="406.3" y1="223.6" x2="406.3" y2="281" stroke="#000" stroke-width="1.2"/>
<line x1="405.7" y1="280.5" x2="489.6" y2="280.5" stroke="#000" stroke-width="1.2"/>
<text transform="translate(398.2,226.0) scale(1,1.08)" font-size="7.11" text-anchor="end" font-weight="normal" fill="#111" stroke="#111" stroke-width="0.08" >100</text>
<line x1="401.0" y1="235.0" x2="406.3" y2="235.0" stroke="#000" stroke-width="1.2"/>
<text transform="translate(398.2,237.4) scale(1,1.08)" font-size="7.11" text-anchor="end" font-weight="normal" fill="#111" stroke="#111" stroke-width="0.08" >80</text>
<line x1="401.0" y1="246.4" x2="406.3" y2="246.4" stroke="#000" stroke-width="1.2"/>
<text transform="translate(398.2,248.8) scale(1,1.08)" font-size="7.11" text-anchor="end" font-weight="normal" fill="#111" stroke="#111" stroke-width="0.08" >60</text>
<line x1="401.0" y1="257.8" x2="406.3" y2="257.8" stroke="#000" stroke-width="1.2"/>
<text transform="translate(398.2,260.2) scale(1,1.08)" font-size="7.11" text-anchor="end" font-weight="normal" fill="#111" stroke="#111" stroke-width="0.08" >40</text>
<line x1="401.0" y1="269.2" x2="406.3" y2="269.2" stroke="#000" stroke-width="1.2"/>
<text transform="translate(398.2,271.59999999999997) scale(1,1.08)" font-size="7.11" text-anchor="end" font-weight="normal" fill="#111" stroke="#111" stroke-width="0.08" >20</text>
<line x1="401.0" y1="280.5" x2="406.3" y2="280.5" stroke="#000" stroke-width="1.2"/>
<text transform="translate(398.2,282.9) scale(1,1.08)" font-size="7.11" text-anchor="end" font-weight="normal" fill="#111" stroke="#111" stroke-width="0.08" >0</text>
<line x1="425.8" y1="280.5" x2="425.8" y2="285.8" stroke="#000" stroke-width="1.2"/>
<line x1="469.2" y1="280.5" x2="469.2" y2="285.8" stroke="#000" stroke-width="1.2"/>
<text transform="translate(426.2,295.3) scale(1,1.08)" font-size="7.11" text-anchor="middle" font-weight="bold" fill="#000" >Day 15</text>
<text transform="translate(469.8,295.3) scale(1,1.08)" font-size="7.11" text-anchor="middle" font-weight="bold" fill="#000" >Day 30</text>
<text transform="translate(373.5,227.2) rotate(-90) scale(1.08,1)" font-size="6.80" text-anchor="middle" font-weight="bold" fill="#000">hIL7 (pg/mL)</text>
<path d="M413.6,272.2 L414.00,272.20 L416.20,273.20 L415.80,275.00 L414.60,277.00 L415.80,279.50 L416.30,281.00 L414.10,281.50 L413.10,281.50 L410.90,281.00 L411.40,279.50 L412.60,277.00 L411.40,275.00 L411.00,273.20 L413.20,272.20 Z" fill="#fff" stroke="#000" stroke-width="1.1" stroke-linejoin="round"/>
<circle cx="411.2" cy="273.2" r="1.0" fill="#000"/>
<circle cx="415.9" cy="273.4" r="1.0" fill="#000"/>
<circle cx="411.6" cy="280.8" r="1.0" fill="#000"/>
<circle cx="415.6" cy="280.8" r="1.0" fill="#000"/>
<circle cx="413.6" cy="276.5" r="1.0" fill="#000"/>
<path d="M425.8,190.4 L426.40,190.40 L428.60,191.50 L429.20,194.00 L428.40,196.50 L427.00,199.00 L426.40,203.00 L426.80,207.00 L428.30,211.00 L426.40,212.90 L425.20,212.90 L423.30,211.00 L424.80,207.00 L425.20,203.00 L424.60,199.00 L423.20,196.50 L422.40,194.00 L423.00,191.50 L425.20,190.40 Z" fill="#fff" stroke="#0a0ab0" stroke-width="1.2" stroke-linejoin="round"/>
<circle cx="423.2" cy="194" r="1.4" fill="#1515ff"/>
<circle cx="428.4" cy="194" r="1.4" fill="#1515ff"/>
<circle cx="425.8" cy="191.6" r="1.4" fill="#1515ff"/>
<circle cx="423.2" cy="212.3" r="1.4" fill="#1515ff"/>
<circle cx="428.2" cy="212.3" r="1.4" fill="#1515ff"/>
<path d="M438.1,247.6 L438.90,247.60 L439.90,249.00 L441.00,252.00 L441.70,256.00 L441.50,260.00 L440.50,264.00 L439.50,268.00 L439.10,272.00 L439.30,276.00 L438.90,278.10 L437.30,278.10 L436.90,276.00 L437.10,272.00 L436.70,268.00 L435.70,264.00 L434.70,260.00 L434.50,256.00 L435.20,252.00 L436.30,249.00 L437.30,247.60 Z" fill="#ff7a7a" stroke="#ff1010" stroke-width="1.4" stroke-linejoin="round"/>
<line x1="435" y1="258" x2="441.2" y2="258" stroke="#ff5050" stroke-width="0.6"/>
<circle cx="438.1" cy="252" r="0.8" fill="#ff3030"/>
<circle cx="438.1" cy="255" r="0.8" fill="#ff3030"/>
<circle cx="438.1" cy="258.5" r="0.8" fill="#ff3030"/>
<circle cx="438.1" cy="262" r="0.8" fill="#ff3030"/>
<circle cx="438.1" cy="266" r="0.8" fill="#ff3030"/>
<path d="M457.9,271.5 L458.6,276 L461.2,280 L461.2,281.2 L454.6,281.2 L454.6,280 L457.2,276 Z" fill="#000" stroke="#000" stroke-width="0.8" stroke-linejoin="round"/>
<circle cx="457.9" cy="271.0" r="1.3" fill="#000"/>
<path d="M469.7,262.7 L470.20,262.70 L470.60,264.00 L470.40,268.00 L470.50,272.00 L471.90,276.00 L472.90,279.00 L472.10,281.00 L470.20,281.40 L469.20,281.40 L467.30,281.00 L466.50,279.00 L467.50,276.00 L468.90,272.00 L469.00,268.00 L468.80,264.00 L469.20,262.70 Z" fill="#e8e8ff" stroke="#0a0ab0" stroke-width="1.2" stroke-linejoin="round"/>
<circle cx="469.7" cy="263.2" r="1.3" fill="#1515ff"/>
<circle cx="467.5" cy="279.5" r="1.3" fill="#1515ff"/>
<circle cx="471.9" cy="279.5" r="1.3" fill="#1515ff"/>
<circle cx="469.7" cy="277" r="1.3" fill="#1515ff"/>
<circle cx="466.8" cy="281" r="1.3" fill="#1515ff"/>
<path d="M481.2,223.1 L482.40,223.10 L482.80,230.00 L483.40,240.00 L484.00,250.00 L484.50,258.00 L484.70,265.00 L484.60,270.00 L484.00,271.70 L478.40,271.70 L477.80,270.00 L477.70,265.00 L477.90,258.00 L478.40,250.00 L479.00,240.00 L479.60,230.00 L480.00,223.10 Z" fill="#ff8080" stroke="#ff1010" stroke-width="1.4" stroke-linejoin="round"/>
<line x1="478" y1="262" x2="484.4" y2="262" stroke="#ff5050" stroke-width="0.6"/>
<circle cx="481.2" cy="211.3" r="1.2" fill="#ff2020"/>
<circle cx="481.2" cy="245" r="0.9" fill="#ff3030"/>
<circle cx="481.2" cy="254" r="0.9" fill="#ff3030"/>
<circle cx="481.2" cy="260" r="0.9" fill="#ff3030"/>
<circle cx="481.2" cy="266" r="0.9" fill="#ff3030"/>
<circle cx="481.2" cy="269" r="0.9" fill="#ff3030"/>
<rect x="447.9" y="173.0" width="14" height="3.2" rx="1.2" fill="#fff" stroke="#000" stroke-width="1.3"/>
<text transform="translate(467.0,177.7) scale(1,1.08)" font-size="6.03" text-anchor="start" font-weight="normal" fill="#111" stroke="#111" stroke-width="0.08" >No treatment</text>
<rect x="447.9" y="183.70000000000002" width="14" height="3.2" rx="1.2" fill="#e8e8ff" stroke="#0a0ab0" stroke-width="1.3"/>
<text transform="translate(467.0,189.9) scale(1,1.08)" font-size="6.03" text-anchor="start" font-weight="normal" fill="#111" stroke="#111" stroke-width="0.08" >+Intraperitoneal IL7</text>
<rect x="447.9" y="196.6" width="14" height="3.2" rx="1.2" fill="#ffdcdc" stroke="#ff1e1e" stroke-width="1.3"/>
<text transform="translate(467.0,200.8) scale(1,1.08)" font-size="6.03" text-anchor="start" font-weight="normal" fill="#111" stroke="#111" stroke-width="0.08" >sIL7</text></svg></body></html>
